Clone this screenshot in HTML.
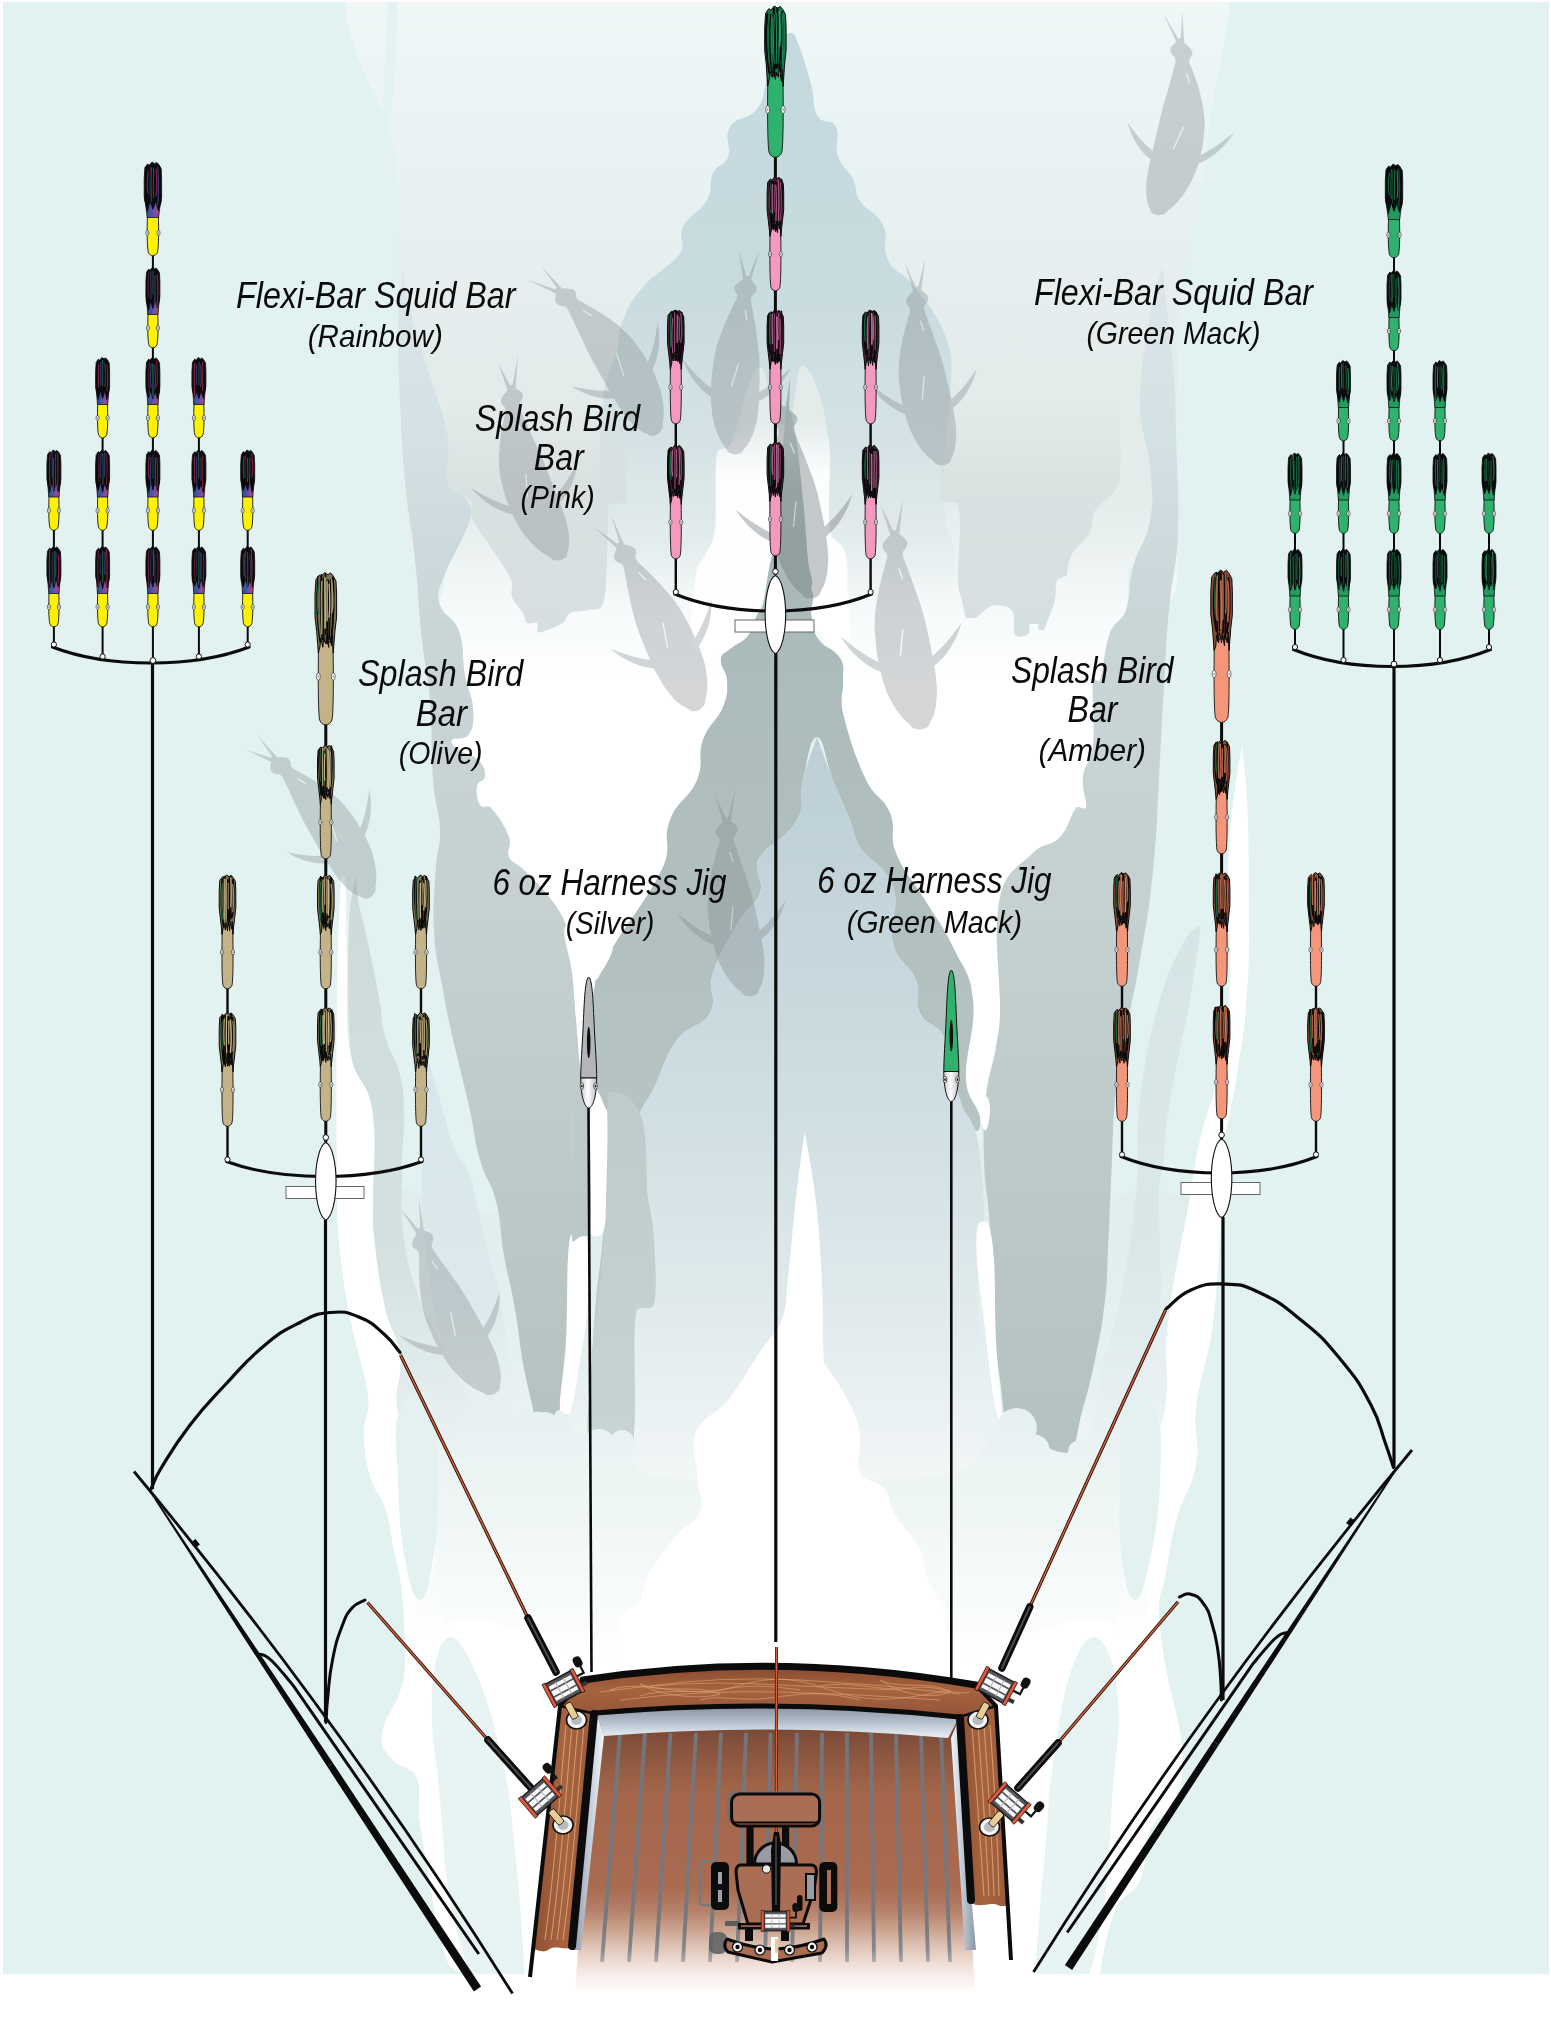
<!DOCTYPE html>
<html><head><meta charset="utf-8"><title>Trolling Spread</title>
<style>
html,body{margin:0;padding:0;background:#fff;}
svg{display:block;}
text{font-family:"Liberation Sans",sans-serif;font-style:italic;fill:#0a0a0a;}
</style></head><body>
<svg width="1551" height="2039" viewBox="0 0 1551 2039">
<defs>
<linearGradient id="gPale" x1="0" y1="1180" x2="0" y2="1640" gradientUnits="userSpaceOnUse"><stop offset="0" stop-color="#e0eded"/><stop offset="0.4" stop-color="#e6f0f0"/><stop offset="0.8" stop-color="#f5f9f9"/><stop offset="1" stop-color="#ffffff"/></linearGradient>
<linearGradient id="gOL" x1="0" y1="876" x2="0" y2="1520" gradientUnits="userSpaceOnUse"><stop offset="0" stop-color="#cbd8d8" stop-opacity="0.95"/><stop offset="0.6" stop-color="#d2dede" stop-opacity="0.8"/><stop offset="1" stop-color="#e6efef" stop-opacity="0.0"/></linearGradient>
<linearGradient id="gOR" x1="0" y1="925" x2="0" y2="1480" gradientUnits="userSpaceOnUse"><stop offset="0" stop-color="#d3e1e4" stop-opacity="0.8"/><stop offset="0.6" stop-color="#d6e3e5" stop-opacity="0.65"/><stop offset="1" stop-color="#e6efef" stop-opacity="0.0"/></linearGradient>
<linearGradient id="gGapBlue" x1="0" y1="1055" x2="0" y2="1420" gradientUnits="userSpaceOnUse"><stop offset="0" stop-color="#d6e5ea" stop-opacity="0.9"/><stop offset="0.7" stop-color="#dbe8ec" stop-opacity="0.8"/><stop offset="1" stop-color="#e6f0f0" stop-opacity="0.0"/></linearGradient>
<linearGradient id="gTop" x1="0" y1="0" x2="0" y2="680" gradientUnits="userSpaceOnUse"><stop offset="0" stop-color="#eff8f7"/><stop offset="0.25" stop-color="#e9f2f2"/><stop offset="0.55" stop-color="#e3ebeb"/><stop offset="0.74" stop-color="#e4ecec"/><stop offset="0.9" stop-color="#f6fafa"/><stop offset="1" stop-color="#ffffff"/></linearGradient>
<linearGradient id="gLegL" x1="0" y1="267" x2="0" y2="1460" gradientUnits="userSpaceOnUse"><stop offset="0" stop-color="#dbe7ea"/><stop offset="0.15" stop-color="#d3e0e4"/><stop offset="0.3" stop-color="#c9d5d7"/><stop offset="0.55" stop-color="#c5d0d0"/><stop offset="0.8" stop-color="#bcc8c8"/><stop offset="1" stop-color="#b4c1c1"/></linearGradient>
<linearGradient id="gLegD" x1="0" y1="556" x2="0" y2="1460" gradientUnits="userSpaceOnUse"><stop offset="0" stop-color="#a9b9b9"/><stop offset="0.25" stop-color="#afbdbd"/><stop offset="0.6" stop-color="#b6c3c3"/><stop offset="0.85" stop-color="#bcc8c9"/><stop offset="1" stop-color="#c2cdce"/></linearGradient>
<linearGradient id="gIB" x1="0" y1="737" x2="0" y2="1500" gradientUnits="userSpaceOnUse"><stop offset="0" stop-color="#bccfd5"/><stop offset="0.3" stop-color="#c6d8dd"/><stop offset="0.55" stop-color="#d3e1e5"/><stop offset="0.8" stop-color="#e4edef"/><stop offset="1" stop-color="#f4f8f8"/></linearGradient>
<linearGradient id="gIL" x1="0" y1="1080" x2="0" y2="1450" gradientUnits="userSpaceOnUse"><stop offset="0" stop-color="#bfcbcb"/><stop offset="0.6" stop-color="#c4cfd0"/><stop offset="1" stop-color="#c8d3d4"/></linearGradient>
<linearGradient id="gFoam" x1="0" y1="1400" x2="0" y2="1660" gradientUnits="userSpaceOnUse"><stop offset="0" stop-color="#e6f0f0"/><stop offset="0.5" stop-color="#f1f7f7"/><stop offset="1" stop-color="#ffffff"/></linearGradient>
<linearGradient id="gTree" x1="0" y1="33" x2="0" y2="600" gradientUnits="userSpaceOnUse"><stop offset="0" stop-color="#c4d9de"/><stop offset="0.45" stop-color="#c8dbdf"/><stop offset="0.72" stop-color="#d4e2e5" stop-opacity="0.95"/><stop offset="0.9" stop-color="#dde8ea" stop-opacity="0.5"/><stop offset="1" stop-color="#e6eeee" stop-opacity="0"/></linearGradient>
<linearGradient id="gBlob" x1="0" y1="400" x2="0" y2="640" gradientUnits="userSpaceOnUse"><stop offset="0" stop-color="#d8e0e0" stop-opacity="0"/><stop offset="0.35" stop-color="#d8e0e0" stop-opacity="0.9"/><stop offset="1" stop-color="#d6dfdf" stop-opacity="1"/></linearGradient>
<linearGradient id="gBand" x1="0" y1="267" x2="0" y2="700" gradientUnits="userSpaceOnUse"><stop offset="0" stop-color="#c9d6d9" stop-opacity="0.0"/><stop offset="0.2" stop-color="#c9d6d9" stop-opacity="0.9"/><stop offset="1" stop-color="#c9d6d9" stop-opacity="0.9"/></linearGradient>
<linearGradient id="gBell" x1="0" y1="420" x2="0" y2="600" gradientUnits="userSpaceOnUse"><stop offset="0" stop-color="#ffffff" stop-opacity="0.0"/><stop offset="0.3" stop-color="#ffffff" stop-opacity="0.9"/><stop offset="1" stop-color="#ffffff" stop-opacity="1"/></linearGradient>
<linearGradient id="gSpike" x1="0" y1="400" x2="0" y2="560" gradientUnits="userSpaceOnUse"><stop offset="0" stop-color="#a9b9b9" stop-opacity="0.3"/><stop offset="0.5" stop-color="#a9b9b9" stop-opacity="0.9"/><stop offset="1" stop-color="#a9b9b9" stop-opacity="1"/></linearGradient>
<linearGradient id="gRainbow" x1="0" y1="0" x2="1" y2="0" gradientUnits="objectBoundingBox"><stop offset="0" stop-color="#2b6a4a"/><stop offset="0.25" stop-color="#3b4fa0"/><stop offset="0.6" stop-color="#6a56a8"/><stop offset="1" stop-color="#e0305a"/></linearGradient>
<linearGradient id="gGreenSk" x1="0" y1="0" x2="1" y2="0" gradientUnits="objectBoundingBox"><stop offset="0" stop-color="#0f5a36"/><stop offset="0.5" stop-color="#1f7a4c"/><stop offset="1" stop-color="#0f5a36"/></linearGradient>
<linearGradient id="gHead" x1="0" y1="0" x2="1" y2="0" gradientUnits="objectBoundingBox"><stop offset="0" stop-color="#c9cbcf"/><stop offset="0.45" stop-color="#ffffff"/><stop offset="1" stop-color="#b9bcc2"/></linearGradient>
<linearGradient id="gDeck" x1="0" y1="1730" x2="0" y2="1995" gradientUnits="userSpaceOnUse"><stop offset="0" stop-color="#7a4a37"/><stop offset="0.1" stop-color="#8d5841"/><stop offset="0.24" stop-color="#a4664a"/><stop offset="0.6" stop-color="#aa6c50"/><stop offset="0.68" stop-color="#b5806a"/><stop offset="0.747" stop-color="#c9a08b"/><stop offset="0.81" stop-color="#dcc0b2"/><stop offset="0.868" stop-color="#ecd9d0"/><stop offset="0.925" stop-color="#f7ede9"/><stop offset="1" stop-color="#ffffff"/></linearGradient>
<linearGradient id="gPlank" x1="0" y1="1733" x2="0" y2="1962" gradientUnits="userSpaceOnUse"><stop offset="0" stop-color="#73757a"/><stop offset="0.85" stop-color="#77797e"/><stop offset="0.95" stop-color="#85878c" stop-opacity="0.95"/><stop offset="1" stop-color="#9a9ca0" stop-opacity="0.75"/></linearGradient>
<linearGradient id="gWoodT" x1="0" y1="1668" x2="0" y2="1712" gradientUnits="userSpaceOnUse"><stop offset="0" stop-color="#8a4c30"/><stop offset="0.5" stop-color="#a7633f"/><stop offset="1" stop-color="#96573a"/></linearGradient>
<linearGradient id="gWoodS" x1="0" y1="0" x2="1" y2="0" gradientUnits="objectBoundingBox"><stop offset="0" stop-color="#8f5033"/><stop offset="0.5" stop-color="#a7633f"/><stop offset="1" stop-color="#9a5a3b"/></linearGradient>
<linearGradient id="gCoamT" x1="0" y1="1708" x2="0" y2="1738" gradientUnits="userSpaceOnUse"><stop offset="0" stop-color="#8c97a6"/><stop offset="0.5" stop-color="#b8c2cf"/><stop offset="1" stop-color="#edf2f7"/></linearGradient>
<linearGradient id="gCoamL" x1="0" y1="0" x2="1" y2="0" gradientUnits="objectBoundingBox"><stop offset="0" stop-color="#8c97a6"/><stop offset="0.6" stop-color="#c5ced9"/><stop offset="1" stop-color="#f2f6fa"/></linearGradient>
<linearGradient id="gCoamR" x1="0" y1="0" x2="1" y2="0" gradientUnits="objectBoundingBox"><stop offset="0" stop-color="#f2f6fa"/><stop offset="0.4" stop-color="#c5ced9"/><stop offset="1" stop-color="#8c97a6"/></linearGradient>
<filter id="noop" x="0" y="0" width="100%" height="100%" filterUnits="userSpaceOnUse" primitiveUnits="userSpaceOnUse"><feOffset dx="0" dy="0"/></filter>
</defs>
<rect x="0" y="0" width="1551" height="2039" fill="#ffffff"/>
<rect x="3" y="2" width="1546" height="1972" fill="#e2f2f1"/>
<path d="M337.0,1180.0 C337.0,1180.0 354.3,1176.8 371.0,1180.0 C395.0,1184.7 409.9,1193.0 440.0,1200.0 C469.6,1206.9 471.0,1219.1 500.0,1210.0 C537.3,1198.3 545.3,1170.1 600.0,1150.0 C670.0,1124.3 711.3,1100.0 800.0,1100.0 C888.7,1100.0 910.0,1126.7 980.0,1150.0 C1041.7,1170.6 1062.7,1190.7 1100.0,1200.0 C1120.0,1205.0 1119.4,1190.7 1140.0,1190.0 C1161.0,1189.3 1170.9,1195.4 1190.0,1197.0 C1205.9,1198.4 1222.0,1197.0 1222.0,1197.0 C1222.0,1197.0 1219.1,1272.8 1213.0,1322.0 C1207.6,1365.5 1200.0,1374.9 1196.0,1408.0 C1192.7,1435.8 1200.7,1437.6 1196.0,1464.0 C1191.3,1490.4 1183.2,1494.4 1176.0,1521.0 C1168.8,1547.6 1169.0,1557.9 1165.0,1578.0 C1162.1,1592.5 1159.0,1592.2 1159.0,1607.0 C1159.0,1627.1 1160.4,1635.7 1165.0,1664.0 C1170.4,1697.1 1179.7,1717.3 1182.0,1749.0 C1183.9,1774.7 1182.5,1781.1 1175.0,1800.0 C1167.8,1818.2 1157.8,1812.1 1150.0,1830.0 C1141.8,1848.7 1148.2,1861.3 1140.0,1880.0 C1132.2,1897.9 1122.6,1892.0 1115.0,1910.0 C1105.7,1931.9 1100.0,1974.0 1100.0,1974.0 C1100.0,1974.0 470.0,1974.0 470.0,1974.0 C470.0,1974.0 451.2,1972.8 447.0,1960.0 C435.3,1924.8 427.0,1865.5 420.0,1823.0 C416.3,1800.8 423.3,1792.7 417.0,1778.0 C411.1,1764.2 401.2,1770.0 393.0,1760.0 C384.8,1750.0 380.6,1748.6 382.0,1735.0 C383.6,1719.1 394.6,1708.6 400.0,1692.0 C404.4,1678.5 404.7,1678.2 405.0,1664.0 C405.5,1640.7 404.6,1618.6 402.0,1592.0 C399.9,1570.7 398.0,1569.8 394.0,1550.0 C390.0,1530.2 390.4,1523.6 385.0,1507.0 C380.2,1492.1 375.4,1494.0 371.0,1479.0 C366.1,1462.4 364.7,1455.4 364.0,1436.0 C363.3,1416.6 370.3,1416.0 368.0,1396.0 C365.0,1369.4 357.5,1355.8 351.0,1322.0 C344.5,1288.2 343.3,1284.1 340.0,1251.0 C336.7,1217.9 337.0,1180.0 337.0,1180.0Z" fill="url(#gPale)" />
<path d="M356.3,875.3 C356.3,875.3 356.0,887.3 358.0,899.0 C360.5,913.6 362.8,918.4 367.0,938.0 C371.9,960.9 374.8,974.1 379.0,997.0 C382.6,1016.4 380.1,1017.8 385.0,1036.0 C389.9,1054.2 395.6,1056.8 400.0,1075.0 C404.4,1093.2 403.6,1094.4 404.0,1114.0 C404.5,1136.9 402.0,1143.6 402.0,1173.0 C402.0,1202.4 399.8,1210.4 404.0,1240.0 C408.2,1269.6 411.6,1276.7 420.0,1300.0 C427.6,1321.0 430.0,1320.0 440.0,1340.0 C451.7,1363.3 456.0,1376.7 470.0,1400.0 C482.9,1421.4 500.0,1416.7 500.0,1440.0 C500.0,1463.3 487.5,1487.6 470.0,1500.0 C452.5,1512.4 438.1,1504.7 425.0,1493.0 C411.9,1481.3 420.5,1469.8 414.0,1450.0 C407.5,1430.2 400.3,1429.9 397.0,1408.0 C393.7,1386.1 402.8,1379.3 400.0,1356.0 C397.2,1332.7 390.4,1332.6 385.0,1308.0 C378.9,1280.2 377.0,1266.9 374.0,1237.0 C371.1,1208.6 372.4,1208.5 372.0,1180.0 C371.5,1150.4 375.0,1132.2 372.0,1110.0 C370.1,1096.0 363.1,1098.5 359.0,1085.0 C353.7,1067.7 350.8,1060.9 349.4,1036.0 C347.2,997.0 347.8,955.5 349.4,918.0 C350.3,896.4 356.3,875.3 356.3,875.3Z" fill="url(#gOL)" />
<path d="M1201.0,925.0 C1201.0,925.0 1196.6,962.7 1190.0,1000.0 C1182.8,1040.8 1176.3,1061.5 1170.0,1100.0 C1164.7,1132.3 1165.6,1143.1 1163.0,1165.0 C1161.3,1179.5 1159.4,1179.4 1159.0,1194.0 C1158.1,1230.6 1163.4,1278.6 1159.0,1322.0 C1155.9,1352.4 1151.4,1352.5 1140.0,1380.0 C1128.6,1407.5 1121.7,1421.3 1110.0,1440.0 C1102.5,1452.0 1092.3,1473.9 1090.0,1460.0 C1087.7,1446.0 1093.0,1417.3 1100.0,1380.0 C1107.0,1342.7 1112.2,1340.5 1120.0,1300.0 C1128.4,1256.6 1131.3,1240.7 1136.0,1194.0 C1140.7,1147.3 1134.4,1145.3 1140.0,1100.0 C1145.6,1054.7 1149.5,1037.3 1160.0,1000.0 C1168.8,968.7 1175.4,957.5 1185.0,940.0 C1190.3,930.4 1201.0,925.0 1201.0,925.0Z" fill="url(#gOR)" />
<path d="M427.0,1055.7 C427.0,1055.7 433.5,1078.0 440.0,1100.0 C446.5,1122.0 448.2,1133.0 455.0,1150.0 C460.0,1162.5 464.7,1160.2 469.0,1173.0 C476.0,1194.0 477.8,1210.4 485.0,1240.0 C492.2,1269.6 494.6,1269.6 500.0,1300.0 C505.8,1332.7 510.0,1352.0 510.0,1380.0 C510.0,1400.6 511.7,1415.3 500.0,1420.0 C488.3,1424.7 473.4,1417.9 460.0,1400.0 C446.0,1381.3 446.8,1370.9 440.0,1340.0 C431.8,1302.7 429.2,1279.0 425.0,1240.0 C421.4,1206.7 422.2,1205.7 422.0,1173.0 C421.8,1140.3 422.8,1127.4 424.0,1100.0 C424.9,1077.8 427.0,1055.7 427.0,1055.7Z" fill="url(#gGapBlue)" />
<path d="M341.0,880.0 C341.2,877.5 344.8,874.5 345.0,877.0 C346.4,895.2 345.8,917.5 347.0,958.0 C348.2,998.8 344.2,1016.8 350.0,1052.0 C355.0,1082.1 367.3,1078.8 372.0,1109.0 C377.4,1143.5 372.5,1170.1 373.0,1200.0 C373.3,1218.5 372.0,1218.6 374.0,1237.0 C376.8,1262.2 378.9,1280.2 385.0,1308.0 C390.4,1332.6 397.2,1332.7 400.0,1356.0 C402.8,1379.3 393.7,1386.1 397.0,1408.0 C400.3,1429.9 407.5,1430.2 414.0,1450.0 C420.5,1469.8 420.3,1472.9 425.0,1493.0 C429.7,1513.1 432.6,1516.2 434.0,1536.0 C435.4,1555.8 435.7,1560.3 431.0,1578.0 C426.3,1595.7 416.6,1597.3 414.0,1612.0 C411.5,1626.6 413.5,1630.3 420.0,1641.0 C426.5,1651.7 437.6,1644.8 442.0,1658.0 C446.4,1671.3 441.3,1678.1 439.0,1698.0 C436.2,1721.8 429.8,1736.2 430.0,1760.0 C430.2,1780.6 436.2,1779.7 440.0,1800.0 C449.3,1849.9 470.0,1974.0 470.0,1974.0 C470.0,1974.0 451.2,1972.8 447.0,1960.0 C435.3,1924.8 427.0,1865.5 420.0,1823.0 C416.3,1800.8 423.3,1792.7 417.0,1778.0 C411.1,1764.2 401.2,1770.0 393.0,1760.0 C384.8,1750.0 380.6,1748.6 382.0,1735.0 C383.6,1719.1 394.6,1708.6 400.0,1692.0 C404.4,1678.5 404.7,1678.2 405.0,1664.0 C405.5,1640.7 404.6,1618.6 402.0,1592.0 C399.9,1570.7 398.0,1569.8 394.0,1550.0 C390.0,1530.2 390.4,1523.6 385.0,1507.0 C380.2,1492.1 375.4,1494.0 371.0,1479.0 C366.1,1462.4 364.7,1455.4 364.0,1436.0 C363.3,1416.6 370.3,1416.0 368.0,1396.0 C365.0,1369.4 357.5,1355.8 351.0,1322.0 C344.5,1288.2 343.3,1284.1 340.0,1251.0 C336.7,1217.9 337.4,1215.5 337.0,1180.0 C336.3,1121.4 336.1,1070.0 337.0,1000.0 C337.8,940.0 339.1,908.7 341.0,880.0Z" fill="#ffffff" />
<path d="M1242.0,746.0 C1242.0,746.0 1245.8,772.9 1247.0,800.0 C1248.6,835.9 1249.0,855.0 1249.0,900.0 C1249.0,945.0 1250.0,951.0 1247.0,993.0 C1244.0,1035.0 1242.1,1041.0 1236.0,1080.0 C1229.9,1119.0 1224.3,1132.7 1221.0,1160.0 C1218.8,1178.4 1222.9,1178.5 1222.0,1197.0 C1220.1,1234.8 1219.1,1272.8 1213.0,1322.0 C1207.6,1365.5 1200.0,1374.9 1196.0,1408.0 C1192.7,1435.8 1200.7,1437.6 1196.0,1464.0 C1191.3,1490.4 1183.2,1494.4 1176.0,1521.0 C1168.8,1547.6 1169.0,1557.9 1165.0,1578.0 C1162.1,1592.5 1159.0,1592.2 1159.0,1607.0 C1159.0,1627.1 1160.4,1635.7 1165.0,1664.0 C1170.4,1697.1 1179.7,1717.3 1182.0,1749.0 C1183.9,1774.7 1182.5,1781.1 1175.0,1800.0 C1167.8,1818.2 1157.8,1812.1 1150.0,1830.0 C1141.8,1848.7 1148.2,1861.3 1140.0,1880.0 C1132.2,1897.9 1122.6,1892.0 1115.0,1910.0 C1105.7,1931.9 1100.0,1974.0 1100.0,1974.0 C1100.0,1974.0 1081.0,1938.3 1080.0,1900.0 C1078.6,1847.5 1085.6,1804.1 1094.0,1749.0 C1100.6,1705.6 1102.9,1697.1 1116.0,1664.0 C1128.2,1633.1 1145.3,1627.1 1150.0,1607.0 C1153.6,1591.3 1138.9,1593.8 1136.0,1578.0 C1132.3,1557.9 1131.9,1547.6 1134.0,1521.0 C1136.1,1494.4 1137.8,1490.4 1145.0,1464.0 C1152.2,1437.6 1160.2,1437.3 1165.0,1408.0 C1170.4,1374.9 1162.9,1364.7 1168.0,1322.0 C1173.8,1272.8 1182.5,1239.5 1190.0,1197.0 C1195.0,1168.5 1193.4,1168.2 1200.0,1140.0 C1207.5,1108.0 1215.0,1097.3 1222.0,1060.0 C1229.0,1022.7 1228.7,1020.2 1230.0,980.0 C1231.6,931.0 1226.2,904.6 1229.0,850.0 C1231.7,797.7 1242.0,746.0 1242.0,746.0Z" fill="#ffffff" />
<path d="M345.0,2.0 C345.0,2.0 346.3,21.5 352.0,40.0 C358.3,60.5 363.1,69.0 372.0,90.0 C380.5,110.2 384.2,109.0 390.0,130.0 C395.8,151.0 395.6,154.8 397.0,180.0 C398.9,212.7 397.8,235.0 398.0,270.0 C398.2,300.0 397.5,300.0 398.0,330.0 C398.5,360.3 398.4,365.0 400.0,400.0 C401.6,435.0 401.5,442.7 405.0,480.0 C408.5,517.3 406.1,536.9 415.0,560.0 C421.1,575.8 437.2,568.5 443.0,579.0 C448.8,589.5 436.3,592.9 440.0,605.0 C443.7,617.1 453.7,615.8 459.0,631.0 C464.8,647.6 461.7,658.0 465.0,676.0 C468.0,692.2 472.1,694.5 473.0,708.0 C473.9,721.1 473.9,726.5 469.0,734.0 C464.1,741.5 454.3,736.3 452.0,740.0 C449.7,743.7 454.2,746.3 459.0,750.0 C465.1,754.7 471.9,753.9 478.0,760.0 C484.1,766.1 485.2,769.9 485.0,776.0 C484.8,782.1 478.1,779.7 477.0,786.0 C475.8,792.8 476.7,799.9 480.0,805.0 C483.1,809.8 487.2,803.8 491.0,808.0 C497.8,815.5 504.8,825.6 509.0,837.0 C512.4,846.4 505.7,849.5 509.0,857.0 C512.3,864.5 516.6,862.4 523.0,869.0 C533.3,879.5 542.3,886.8 553.0,902.0 C563.3,916.6 563.4,917.4 569.0,934.0 C574.6,950.6 570.5,962.3 577.0,973.0 C582.5,982.1 588.6,986.1 597.0,980.0 C605.4,973.9 603.8,962.8 613.0,947.0 C628.4,920.6 649.7,896.6 663.0,867.0 C672.7,845.3 662.1,840.3 670.0,820.0 C677.9,799.7 689.3,798.7 697.0,780.0 C704.7,761.3 696.9,757.0 703.0,740.0 C709.1,723.0 717.4,721.0 723.0,707.0 C728.1,694.3 727.5,690.5 727.0,680.0 C726.6,670.5 721.2,668.8 721.0,662.0 C720.8,656.0 721.6,655.2 726.0,651.0 C732.1,645.2 740.0,644.9 747.0,637.0 C754.0,629.1 752.3,624.7 756.0,617.0 C759.2,610.4 760.6,611.0 763.0,604.0 C767.7,590.7 764.8,563.7 776.0,560.0 C787.2,556.3 802.4,573.8 811.0,588.0 C819.6,602.1 811.1,608.9 813.0,621.0 C814.5,630.8 813.1,632.0 819.0,640.0 C825.3,648.6 834.4,648.7 840.0,658.0 C845.6,667.3 842.4,668.9 843.0,680.0 C843.7,692.8 839.3,696.9 843.0,713.0 C848.4,736.3 855.0,756.7 866.0,780.0 C874.7,798.5 883.0,796.0 890.0,813.0 C897.0,830.0 888.5,834.2 896.0,853.0 C904.2,873.3 911.7,878.1 925.0,900.0 C938.3,921.9 941.8,923.7 953.0,947.0 C964.2,970.3 970.2,971.8 973.0,1000.0 C976.0,1031.0 964.4,1052.7 966.0,1080.0 C967.2,1099.7 975.3,1113.0 980.0,1117.0 C984.7,1121.0 983.7,1107.2 986.0,1097.0 C989.7,1080.7 992.7,1066.6 996.0,1047.0 C998.8,1030.1 999.5,1030.1 1000.0,1013.0 C1000.9,978.0 992.3,934.3 1000.0,897.0 C1005.6,870.1 1019.0,867.0 1033.0,853.0 C1044.1,841.9 1050.0,847.5 1060.0,837.0 C1070.0,826.5 1069.9,815.0 1076.0,808.0 C1079.3,804.2 1084.9,811.9 1086.0,807.0 C1087.6,799.8 1081.4,791.0 1083.0,777.0 C1084.6,763.0 1091.4,762.7 1093.0,747.0 C1095.3,724.4 1091.4,695.6 1093.0,680.0 C1093.4,676.5 1098.8,683.3 1100.0,680.0 C1104.0,669.0 1103.9,649.3 1110.0,633.0 C1114.9,619.9 1121.4,623.2 1126.0,610.0 C1131.4,594.6 1122.7,569.3 1133.0,567.0 C1143.3,564.7 1159.5,607.9 1170.0,600.0 C1180.5,592.1 1176.8,566.7 1178.0,533.0 C1179.4,494.0 1175.5,479.7 1176.0,433.0 C1176.5,386.3 1177.7,371.7 1180.0,333.0 C1182.0,299.9 1181.3,298.0 1186.0,267.0 C1190.7,236.0 1194.5,233.8 1200.0,200.0 C1206.3,161.0 1207.6,135.0 1213.0,100.0 C1216.9,74.8 1219.0,72.9 1223.0,50.0 C1227.0,27.1 1230.0,2.0 1230.0,2.0 C1230.0,2.0 345.0,2.0 345.0,2.0Z" fill="url(#gTop)" />
<path d="M403.0,267.0 C403.0,267.0 404.1,283.8 408.0,300.0 C413.6,323.3 417.9,336.0 427.0,367.0 C436.1,398.0 442.1,405.9 447.0,433.0 C451.5,457.6 443.3,467.4 448.0,483.0 C451.6,495.2 461.9,491.4 467.0,500.0 C472.1,508.6 472.9,510.3 470.0,520.0 C464.4,538.4 450.0,559.2 443.0,579.0 C438.6,591.3 436.3,592.9 440.0,605.0 C443.7,617.1 453.7,615.8 459.0,631.0 C464.8,647.6 461.7,658.0 465.0,676.0 C468.0,692.2 472.1,694.5 473.0,708.0 C473.9,721.1 473.9,726.5 469.0,734.0 C464.1,741.5 454.3,736.3 452.0,740.0 C449.7,743.7 454.2,746.3 459.0,750.0 C465.1,754.7 471.9,753.9 478.0,760.0 C484.1,766.1 485.2,769.9 485.0,776.0 C484.8,782.1 478.1,779.7 477.0,786.0 C475.8,792.8 476.7,799.9 480.0,805.0 C483.1,809.8 487.2,803.8 491.0,808.0 C497.8,815.5 504.8,825.6 509.0,837.0 C512.4,846.4 505.7,849.5 509.0,857.0 C512.3,864.5 516.6,862.4 523.0,869.0 C533.3,879.5 542.3,886.8 553.0,902.0 C563.3,916.6 563.4,917.4 569.0,934.0 C574.6,950.6 575.6,957.6 577.0,973.0 C578.2,986.5 575.4,986.5 575.0,1000.0 C574.1,1029.6 573.6,1050.0 573.0,1100.0 C572.3,1156.0 572.7,1193.3 572.0,1240.0 C571.5,1270.0 570.9,1272.0 570.0,1300.0 C569.1,1328.0 568.9,1332.0 568.0,1360.0 C567.1,1388.0 567.9,1398.5 566.0,1420.0 C564.6,1436.2 564.2,1445.5 560.0,1452.0 C556.6,1457.3 552.5,1452.5 548.0,1448.0 C542.9,1442.9 541.4,1439.7 538.0,1430.0 C534.0,1418.8 534.4,1415.0 531.0,1400.0 C527.5,1384.4 526.3,1381.6 523.0,1363.0 C519.3,1341.8 519.4,1334.2 515.0,1309.0 C510.6,1283.8 508.4,1280.2 504.0,1255.0 C499.6,1229.8 501.6,1223.2 496.0,1201.0 C490.6,1179.7 486.0,1181.2 480.0,1160.0 C473.7,1137.8 475.0,1132.9 469.0,1106.0 C462.7,1077.8 459.3,1067.2 453.0,1039.0 C447.0,1012.1 446.4,1010.2 442.0,985.0 C437.6,959.8 435.4,958.3 434.0,931.0 C432.6,903.2 434.6,889.6 436.0,866.0 C437.1,847.9 440.6,848.1 440.0,830.0 C439.3,809.9 434.9,805.2 433.0,780.0 C430.7,749.7 432.6,732.7 430.0,700.0 C427.6,669.8 425.2,670.1 422.0,640.0 C418.5,607.3 419.0,597.3 415.0,560.0 C411.0,522.7 408.5,517.3 405.0,480.0 C401.5,442.7 401.6,432.7 400.0,400.0 C398.5,370.0 398.0,363.3 398.0,340.0 C398.0,320.0 398.8,317.0 400.0,300.0 C401.1,283.5 403.0,267.0 403.0,267.0Z" fill="url(#gLegL)" />
<path d="M1163.0,267.0 C1163.0,267.0 1155.9,283.0 1153.0,300.0 C1147.6,331.0 1140.7,361.0 1140.0,400.0 C1139.4,433.9 1147.7,439.0 1150.0,467.0 C1152.2,493.4 1154.0,496.7 1150.0,520.0 C1146.0,543.3 1138.6,546.0 1133.0,567.0 C1127.4,588.0 1131.4,594.6 1126.0,610.0 C1121.4,623.2 1114.9,619.9 1110.0,633.0 C1103.9,649.3 1104.0,669.0 1100.0,680.0 C1098.8,683.3 1093.4,676.5 1093.0,680.0 C1091.4,695.6 1095.3,724.4 1093.0,747.0 C1091.4,762.7 1084.6,763.0 1083.0,777.0 C1081.4,791.0 1087.6,799.8 1086.0,807.0 C1084.9,811.9 1079.3,804.2 1076.0,808.0 C1069.9,815.0 1070.0,826.5 1060.0,837.0 C1050.0,847.5 1044.1,841.9 1033.0,853.0 C1019.0,867.0 1005.6,870.1 1000.0,897.0 C992.3,934.3 1000.9,978.0 1000.0,1013.0 C999.5,1030.1 998.8,1030.1 996.0,1047.0 C992.7,1066.6 988.7,1071.6 986.0,1097.0 C983.2,1123.4 983.1,1129.7 984.0,1160.0 C984.9,1190.3 988.0,1193.4 990.0,1227.0 C992.1,1262.7 990.7,1277.3 993.0,1313.0 C995.2,1346.6 996.0,1350.4 1000.0,1380.0 C1004.0,1409.6 1003.0,1421.3 1010.0,1440.0 C1015.0,1453.2 1019.5,1454.9 1030.0,1460.0 C1040.5,1465.1 1045.2,1464.3 1055.0,1462.0 C1064.8,1459.7 1066.7,1458.9 1072.0,1450.0 C1077.8,1440.2 1076.2,1435.0 1080.0,1420.0 C1085.4,1399.0 1089.2,1388.0 1095.0,1360.0 C1100.8,1332.0 1102.0,1325.7 1105.0,1300.0 C1107.9,1275.1 1106.7,1275.0 1108.0,1250.0 C1109.6,1217.3 1110.4,1195.0 1112.0,1160.0 C1113.4,1130.0 1112.7,1125.7 1115.0,1100.0 C1117.3,1074.9 1117.6,1074.9 1122.0,1050.0 C1127.8,1017.3 1132.8,1002.0 1140.0,960.0 C1147.2,918.0 1148.5,915.2 1153.0,870.0 C1157.7,823.3 1157.0,811.3 1160.0,760.0 C1163.0,708.7 1163.7,687.3 1166.0,650.0 C1167.6,625.0 1167.4,624.9 1170.0,600.0 C1172.8,572.7 1176.8,566.7 1178.0,533.0 C1179.4,494.0 1176.9,468.7 1176.0,433.0 C1175.3,406.5 1175.9,406.4 1174.0,380.0 C1171.9,351.3 1169.6,336.4 1167.0,310.0 C1164.9,288.5 1163.0,267.0 1163.0,267.0Z" fill="url(#gLegL)" />
<path d="M781.0,552.0 C790.1,559.5 803.5,571.9 811.0,588.0 C818.0,603.0 811.1,608.9 813.0,621.0 C814.5,630.8 813.1,632.0 819.0,640.0 C825.3,648.6 834.4,648.7 840.0,658.0 C845.6,667.3 842.4,668.9 843.0,680.0 C843.7,692.8 839.3,696.9 843.0,713.0 C848.4,736.3 855.0,756.7 866.0,780.0 C874.7,798.5 883.0,796.0 890.0,813.0 C897.0,830.0 888.5,834.2 896.0,853.0 C904.2,873.3 911.7,878.1 925.0,900.0 C938.3,921.9 941.8,923.7 953.0,947.0 C964.2,970.3 970.2,971.8 973.0,1000.0 C976.0,1031.0 964.4,1052.7 966.0,1080.0 C967.2,1099.7 977.9,1105.3 980.0,1117.0 C981.2,1123.9 979.7,1134.0 975.0,1130.0 C970.3,1126.0 965.1,1116.0 960.0,1100.0 C953.2,1079.0 955.3,1060.3 946.0,1040.0 C938.2,1023.0 927.0,1027.0 920.0,1013.0 C913.0,999.0 922.0,995.5 916.0,980.0 C909.7,963.7 898.2,964.1 893.0,943.0 C887.6,921.3 900.7,909.4 893.0,887.0 C885.3,864.6 870.0,862.6 860.0,847.0 C852.2,834.9 855.4,833.4 850.0,820.0 C843.7,804.4 840.7,799.4 833.0,780.0 C825.3,760.6 824.0,737.0 817.0,737.0 C810.0,737.0 807.7,760.6 803.0,780.0 C798.3,799.4 806.3,803.0 797.0,820.0 C787.7,837.0 772.3,842.0 763.0,853.0 C758.1,858.8 757.6,859.4 757.0,867.0 C756.3,876.3 764.0,880.6 760.0,893.0 C756.0,905.4 748.5,905.5 740.0,920.0 C729.0,938.7 720.0,951.3 713.0,973.0 C706.8,992.1 718.4,997.4 710.0,1013.0 C701.6,1028.6 689.7,1022.9 677.0,1040.0 C663.7,1058.0 661.6,1073.0 653.0,1090.0 C647.0,1101.8 643.7,1103.7 640.0,1113.0 C636.8,1121.0 636.6,1121.4 637.0,1130.0 C637.7,1145.6 639.3,1159.0 643.0,1180.0 C646.6,1200.3 651.8,1199.4 653.0,1220.0 C654.6,1247.3 652.3,1264.3 650.0,1297.0 C647.7,1328.6 645.3,1331.3 643.0,1360.0 C640.7,1388.7 643.0,1399.0 640.0,1420.0 C637.7,1435.6 639.3,1441.6 630.0,1450.0 C620.7,1458.4 609.8,1458.3 600.0,1456.0 C590.3,1453.7 588.8,1450.0 588.0,1440.0 C586.1,1417.6 590.1,1392.7 592.0,1360.0 C593.7,1330.0 593.7,1326.4 596.0,1300.0 C598.3,1273.6 599.7,1270.3 602.0,1247.0 C604.3,1223.7 605.2,1223.6 606.0,1200.0 C607.2,1165.7 607.7,1144.3 607.0,1100.0 C606.3,1055.7 605.3,1038.0 603.0,1010.0 C601.7,994.8 594.7,994.7 597.0,980.0 C599.3,965.3 603.8,962.8 613.0,947.0 C628.4,920.6 649.7,896.6 663.0,867.0 C672.7,845.3 662.1,840.3 670.0,820.0 C677.9,799.7 689.3,798.7 697.0,780.0 C704.7,761.3 696.9,757.0 703.0,740.0 C709.1,723.0 717.4,721.0 723.0,707.0 C728.1,694.3 727.5,690.5 727.0,680.0 C726.6,670.5 721.2,668.8 721.0,662.0 C720.8,656.0 721.6,655.2 726.0,651.0 C732.1,645.2 740.0,644.9 747.0,637.0 C754.0,629.1 752.3,624.7 756.0,617.0 C759.2,610.4 761.1,611.1 763.0,604.0 C766.7,589.8 767.8,568.1 772.0,556.0 C773.6,551.3 777.2,548.9 781.0,552.0Z" fill="url(#gLegD)" />
<path d="M817.0,737.0 C817.0,737.0 825.3,760.6 833.0,780.0 C840.7,799.4 843.7,804.4 850.0,820.0 C855.4,833.4 852.2,834.9 860.0,847.0 C870.0,862.6 885.3,864.6 893.0,887.0 C900.7,909.4 887.6,921.3 893.0,943.0 C898.2,964.1 909.7,963.7 916.0,980.0 C922.0,995.5 913.0,999.0 920.0,1013.0 C927.0,1027.0 938.2,1023.0 946.0,1040.0 C955.3,1060.3 953.2,1079.0 960.0,1100.0 C965.1,1116.0 970.3,1116.0 975.0,1130.0 C979.7,1144.0 978.5,1144.9 980.0,1160.0 C982.1,1181.0 984.4,1189.9 984.0,1220.0 C983.5,1252.7 976.6,1262.7 978.0,1300.0 C979.4,1337.3 984.9,1349.7 990.0,1380.0 C994.3,1405.1 995.8,1404.9 1000.0,1430.0 C1004.7,1458.0 1044.7,1493.3 1010.0,1500.0 C926.0,1516.3 727.7,1515.9 640.0,1500.0 C606.4,1493.9 634.7,1466.1 634.0,1432.0 C633.1,1388.1 631.3,1341.9 636.0,1312.0 C637.5,1302.3 651.6,1313.6 654.0,1304.0 C658.2,1287.2 655.4,1264.3 654.0,1240.0 C652.8,1219.8 650.6,1214.0 648.0,1200.0 C646.1,1189.9 644.6,1190.2 643.0,1180.0 C640.4,1163.7 637.7,1145.6 637.0,1130.0 C636.6,1121.4 636.8,1121.0 640.0,1113.0 C643.7,1103.7 647.0,1101.8 653.0,1090.0 C661.6,1073.0 663.7,1058.0 677.0,1040.0 C689.7,1022.9 701.6,1028.6 710.0,1013.0 C718.4,997.4 706.8,992.1 713.0,973.0 C720.0,951.3 729.0,938.7 740.0,920.0 C748.5,905.5 756.0,905.4 760.0,893.0 C764.0,880.6 756.3,876.3 757.0,867.0 C757.6,859.4 758.1,858.8 763.0,853.0 C772.3,842.0 787.7,837.0 797.0,820.0 C806.3,803.0 798.3,799.4 803.0,780.0 C807.7,760.6 813.7,747.0 817.0,737.0 C817.0,737.0 817.0,737.0 817.0,737.0Z" fill="url(#gIB)" />
<path d="M604.0,1100.0 C610.8,1082.6 632.3,1095.5 640.0,1113.0 C648.8,1133.0 645.2,1174.6 648.0,1200.0 C650.2,1220.1 652.8,1219.8 654.0,1240.0 C655.2,1260.8 657.6,1289.6 654.0,1304.0 C651.6,1313.6 637.5,1302.3 636.0,1312.0 C632.0,1337.6 637.2,1404.8 634.0,1432.0 C632.8,1442.6 626.8,1444.4 620.0,1448.0 C613.2,1451.6 606.0,1451.6 600.0,1450.0 C594.0,1448.4 590.6,1447.0 590.0,1440.0 C588.4,1422.0 590.4,1388.0 592.0,1360.0 C593.6,1332.0 595.6,1324.0 598.0,1300.0 C600.4,1276.0 602.4,1260.0 604.0,1240.0 C605.6,1220.0 606.0,1220.0 606.0,1200.0 C606.0,1172.0 597.2,1117.4 604.0,1100.0Z" fill="url(#gIL)" />
<path d="M566.0,925.0 C560.4,933.6 570.0,954.0 572.0,973.0 C574.0,992.0 574.2,999.4 576.0,1020.0 C577.8,1040.6 578.8,1060.0 581.0,1076.0 C582.7,1088.3 585.3,1092.8 587.0,1100.0 C588.4,1106.0 589.4,1105.9 589.5,1112.0 C590.1,1138.4 587.3,1208.0 590.0,1232.0 C590.7,1238.5 600.1,1237.8 603.0,1232.0 C606.2,1225.6 605.5,1216.1 606.0,1200.0 C606.8,1175.6 608.2,1131.0 607.0,1110.0 C606.5,1101.7 602.2,1100.0 600.0,1095.0 C597.8,1090.1 596.4,1090.4 596.0,1085.0 C594.6,1066.0 593.3,1019.5 593.0,1000.0 C592.9,993.7 593.7,991.5 594.5,987.5 C595.3,983.6 595.4,983.6 597.0,980.0 C600.7,971.9 612.4,957.0 613.0,947.0 C613.6,937.0 609.4,934.4 600.0,930.0 C590.6,925.6 571.6,916.4 566.0,925.0Z" fill="#ffffff" />
<path d="M570.0,1238.0 C571.5,1230.1 583.8,1228.3 586.0,1236.0 C589.6,1248.4 589.2,1275.2 588.0,1300.0 C586.8,1324.8 583.6,1337.6 580.0,1360.0 C576.4,1382.4 574.0,1402.0 570.0,1412.0 C568.1,1416.7 560.3,1415.1 560.0,1410.0 C559.2,1395.6 564.0,1374.4 566.0,1340.0 C568.0,1305.6 566.0,1258.8 570.0,1238.0Z" fill="#ffffff" />
<path d="M572.0,973.0 C572.8,977.0 574.2,999.4 576.0,1020.0 C577.8,1040.6 578.8,1060.0 581.0,1076.0 C582.7,1088.3 585.3,1092.8 587.0,1100.0 C588.4,1106.0 589.4,1105.9 589.5,1112.0 C590.1,1138.4 591.9,1207.0 590.0,1232.0 C589.6,1237.6 583.6,1235.4 580.0,1237.0 C576.4,1238.6 572.2,1244.3 572.0,1240.0 C570.6,1212.6 573.0,1148.0 573.0,1100.0 C573.0,1052.0 572.2,1025.4 572.0,1000.0 C571.9,986.5 571.2,969.0 572.0,973.0Z" fill="url(#gLegL)" />
<path d="M597.0,980.0 C595.5,976.4 595.3,983.6 594.5,987.5 C593.7,991.5 592.9,993.7 593.0,1000.0 C593.3,1019.5 594.6,1066.0 596.0,1085.0 C596.4,1090.4 597.8,1090.1 600.0,1095.0 C602.2,1100.0 605.4,1109.0 607.0,1110.0 C608.6,1111.0 608.2,1105.0 608.0,1100.0 C607.4,1080.0 606.2,1034.0 604.0,1010.0 C602.6,994.7 598.9,984.5 597.0,980.0Z" fill="url(#gLegD)" />
<path d="M980.0,1117.0 C980.0,1110.4 984.0,1098.4 986.0,1097.0 C988.0,1095.6 990.0,1103.4 990.0,1110.0 C990.0,1116.6 988.0,1128.6 986.0,1130.0 C984.0,1131.4 980.0,1123.6 980.0,1117.0Z" fill="#ffffff" />
<path d="M978.0,1226.0 C979.5,1221.1 985.8,1219.4 988.0,1224.0 C991.2,1230.8 992.7,1241.8 994.0,1260.0 C995.6,1283.2 994.4,1307.2 996.0,1340.0 C997.6,1372.8 1002.4,1412.0 1002.0,1424.0 C1001.6,1436.0 996.2,1412.5 994.0,1400.0 C990.4,1379.2 987.4,1348.0 984.0,1320.0 C980.6,1292.0 978.2,1278.8 977.0,1260.0 C975.9,1243.0 975.8,1233.2 978.0,1226.0Z" fill="#ffffff" />
<path d="M470.0,1400.0 C487.9,1381.0 503.7,1412.2 520.0,1415.0 C530.0,1416.7 533.5,1409.7 540.0,1412.0 C546.5,1414.3 543.3,1425.5 548.0,1425.0 C552.7,1424.5 553.7,1408.8 560.0,1410.0 C566.3,1411.2 568.0,1423.9 575.0,1430.0 C581.1,1435.3 582.6,1432.8 590.0,1436.0 C598.2,1439.5 600.7,1444.1 610.0,1445.0 C619.3,1445.9 623.0,1434.2 630.0,1440.0 C637.0,1445.8 626.3,1462.2 640.0,1470.0 C656.3,1479.3 669.7,1477.8 700.0,1480.0 C732.7,1482.3 742.7,1480.0 780.0,1480.0 C817.3,1480.0 820.1,1482.2 860.0,1480.0 C902.0,1477.7 927.3,1483.1 960.0,1470.0 C988.3,1458.7 987.2,1431.0 1000.0,1424.0 C1009.6,1418.7 1008.0,1437.2 1015.0,1440.0 C1022.0,1442.8 1022.5,1434.2 1030.0,1436.0 C1037.7,1437.9 1038.2,1444.3 1048.0,1448.0 C1057.8,1451.7 1063.4,1453.9 1072.0,1452.0 C1080.6,1450.1 1079.8,1447.1 1085.0,1440.0 C1093.9,1427.9 1099.5,1386.0 1110.0,1400.0 C1120.5,1414.0 1127.7,1453.3 1130.0,1500.0 C1132.3,1546.7 1127.0,1553.3 1120.0,1600.0 C1113.0,1646.7 1114.0,1672.0 1100.0,1700.0 C1090.0,1720.0 1082.3,1719.2 1060.0,1720.0 C924.7,1724.7 657.7,1724.7 520.0,1720.0 C493.1,1719.1 484.9,1722.4 470.0,1700.0 C451.3,1672.0 447.0,1646.7 440.0,1600.0 C433.0,1553.3 433.0,1546.7 440.0,1500.0 C447.0,1453.3 451.3,1419.8 470.0,1400.0Z" fill="url(#gFoam)" />
<circle cx="544.7" cy="1426" r="14" fill="url(#gFoam)"/>
<circle cx="567" cy="1437" r="11" fill="url(#gFoam)"/>
<circle cx="598.7" cy="1446" r="17" fill="url(#gFoam)"/>
<circle cx="622" cy="1442" r="12" fill="url(#gFoam)"/>
<circle cx="528" cy="1420" r="9" fill="url(#gFoam)"/>
<circle cx="1005" cy="1436" r="14" fill="url(#gFoam)"/>
<circle cx="1016.8" cy="1428" r="20" fill="url(#gFoam)"/>
<circle cx="1034" cy="1450" r="15.6" fill="url(#gFoam)"/>
<circle cx="1056.6" cy="1464" r="11" fill="url(#gFoam)"/>
<circle cx="1080" cy="1452" r="12" fill="url(#gFoam)"/>
<path d="M804.6,1132.0 C804.6,1132.0 812.4,1170.4 815.8,1200.0 C819.2,1229.6 820.2,1248.0 821.8,1280.0 C823.4,1312.0 822.6,1342.4 823.8,1360.0 C824.1,1364.5 825.5,1364.2 827.8,1368.0 C832.6,1376.0 841.4,1387.2 847.8,1400.0 C854.2,1412.8 857.4,1417.6 859.8,1432.0 C862.2,1446.4 855.0,1460.8 859.8,1472.0 C864.6,1483.2 876.5,1479.2 883.7,1488.0 C890.9,1496.8 888.5,1504.0 895.7,1516.0 C902.9,1528.0 913.3,1535.2 919.7,1548.0 C926.1,1560.8 922.9,1567.2 927.7,1580.0 C932.5,1592.8 939.7,1596.0 943.7,1612.0 C947.7,1628.0 944.4,1642.4 947.7,1660.0 C951.0,1677.6 980.8,1697.6 960.0,1700.0 C890.5,1708.0 668.8,1708.0 600.0,1700.0 C578.6,1697.5 612.0,1676.0 616.0,1660.0 C620.0,1644.0 615.2,1632.0 620.0,1620.0 C624.8,1608.0 634.4,1608.8 640.0,1600.0 C645.6,1591.2 641.8,1587.0 648.0,1576.0 C655.2,1563.2 665.6,1548.8 676.0,1536.0 C686.4,1523.2 695.6,1523.2 700.0,1512.0 C704.4,1500.8 698.8,1496.0 698.0,1480.0 C697.2,1464.0 690.0,1448.0 696.0,1432.0 C702.0,1416.0 715.2,1416.0 728.0,1400.0 C740.8,1384.0 749.2,1368.0 760.0,1352.0 C770.8,1336.0 776.2,1334.4 781.8,1320.0 C787.4,1305.6 785.5,1300.1 787.8,1280.0 C790.6,1256.0 792.4,1229.6 795.8,1200.0 C799.2,1170.4 804.6,1132.0 804.6,1132.0Z" fill="#ffffff" />
<path d="M440.0,1640.0 C444.3,1618.1 460.0,1620.0 480.0,1620.0 C500.0,1620.0 516.0,1632.0 540.0,1640.0 C564.0,1648.0 568.4,1658.5 600.0,1660.0 C684.0,1664.0 876.0,1664.0 960.0,1660.0 C991.6,1658.5 996.0,1648.0 1020.0,1640.0 C1044.0,1632.0 1060.0,1620.0 1080.0,1620.0 C1100.0,1620.0 1116.8,1617.9 1120.0,1640.0 C1124.0,1668.0 1105.4,1699.4 1100.0,1760.0 C1094.0,1826.8 1090.0,1974.0 1090.0,1974.0 C1090.0,1974.0 470.0,1974.0 470.0,1974.0 C470.0,1974.0 451.0,1866.8 445.0,1800.0 C439.0,1733.2 433.0,1676.0 440.0,1640.0Z" fill="#ffffff" />
<path d="M400.0,1410.0 C405.9,1395.3 422.5,1386.1 430.0,1400.0 C438.9,1416.3 437.3,1442.7 438.0,1480.0 C438.7,1517.3 437.2,1532.0 433.0,1560.0 C429.9,1580.8 426.5,1600.0 420.0,1600.0 C413.5,1600.0 408.9,1581.0 405.0,1560.0 C399.9,1532.0 399.2,1515.0 398.0,1480.0 C396.8,1445.0 392.5,1428.7 400.0,1410.0Z" fill="#e3f2f1" />
<path d="M445.0,1640.0 C453.9,1630.7 462.8,1645.7 470.0,1660.0 C482.8,1685.7 489.5,1705.7 500.0,1750.0 C510.5,1794.3 509.4,1799.8 515.0,1850.0 C520.8,1902.3 525.0,1974.0 525.0,1974.0 C525.0,1974.0 470.0,1974.0 470.0,1974.0 C470.0,1974.0 456.5,1937.8 450.0,1900.0 C443.0,1859.4 444.2,1846.7 440.0,1800.0 C435.8,1753.3 430.8,1737.3 432.0,1700.0 C433.0,1669.3 436.1,1649.3 445.0,1640.0Z" fill="#e8f4f3" />
<path d="M1125.0,1400.0 C1132.1,1385.9 1148.7,1395.5 1155.0,1410.0 C1163.2,1428.7 1161.2,1445.0 1160.0,1480.0 C1158.8,1515.0 1155.8,1532.0 1150.0,1560.0 C1145.6,1580.9 1141.5,1600.0 1135.0,1600.0 C1128.5,1600.0 1124.6,1580.9 1122.0,1560.0 C1118.5,1532.0 1119.3,1517.3 1120.0,1480.0 C1120.7,1442.7 1116.8,1416.3 1125.0,1400.0Z" fill="#e3f2f1" />
<path d="M1100.0,1640.0 C1090.0,1630.7 1081.1,1645.2 1075.0,1660.0 C1064.5,1685.7 1062.0,1705.7 1055.0,1750.0 C1048.0,1794.3 1049.5,1799.9 1045.0,1850.0 C1040.3,1902.3 1035.0,1974.0 1035.0,1974.0 C1035.0,1974.0 1090.0,1974.0 1090.0,1974.0 C1090.0,1974.0 1100.3,1937.5 1105.0,1900.0 C1110.1,1859.4 1109.0,1846.7 1112.0,1800.0 C1115.0,1753.3 1120.8,1737.3 1118.0,1700.0 C1115.7,1668.8 1110.0,1649.3 1100.0,1640.0Z" fill="#e8f4f3" />
<path d="M388.0,2.0 C388.0,2.0 397.0,2.0 397.0,2.0 C397.0,2.0 397.2,38.4 396.0,60.0 C394.8,81.6 393.6,96.4 391.0,110.0 C389.2,119.7 383.0,128.0 383.0,128.0 C383.0,128.0 384.0,85.2 385.0,60.0 C386.0,34.8 388.0,2.0 388.0,2.0Z" fill="#e2f2f1" opacity="0.85" />
<path d="M790.0,33.0 C794.6,32.3 795.4,36.6 797.6,42.0 C802.5,53.9 806.3,66.7 811.0,84.0 C815.3,99.8 811.9,106.0 817.7,116.0 C823.1,125.2 831.3,117.7 836.0,127.0 C840.7,136.3 834.0,143.9 838.0,156.0 C842.0,168.1 847.9,168.5 853.0,179.0 C858.1,189.4 853.7,191.3 860.0,201.0 C867.0,211.7 876.5,211.2 883.0,225.0 C889.5,238.8 881.2,246.2 888.0,260.0 C894.8,273.8 901.7,270.5 912.0,284.0 C925.3,301.5 935.9,311.0 945.0,335.0 C954.1,359.0 951.0,360.8 951.0,387.0 C951.0,414.1 946.4,420.9 945.0,451.0 C943.6,481.1 942.7,490.6 945.0,516.0 C947.1,538.5 956.2,540.4 955.0,560.0 C953.8,579.6 960.3,593.5 940.0,600.0 C910.8,609.3 855.9,636.9 830.0,600.0 C804.1,563.1 835.1,496.6 829.0,442.0 C824.6,402.2 813.1,371.1 804.0,366.0 C794.9,360.9 796.8,407.4 790.0,420.0 C786.5,426.6 778.9,426.4 775.0,420.0 C767.5,407.9 768.5,362.2 758.0,368.0 C747.5,373.8 739.6,424.9 730.0,445.0 C726.6,452.1 718.5,446.2 717.0,454.0 C713.3,473.8 718.0,495.9 714.0,530.0 C710.0,564.1 724.3,583.7 700.0,600.0 C675.7,616.3 633.3,618.7 610.0,600.0 C586.7,581.3 601.4,560.3 600.0,520.0 C598.4,473.3 599.0,439.7 603.0,400.0 C605.6,374.2 612.3,368.7 617.0,350.0 C620.7,335.2 617.2,334.1 623.0,320.0 C629.1,305.3 630.5,301.7 643.0,287.0 C656.3,271.4 670.7,267.0 680.0,253.0 C687.3,242.1 677.1,238.7 683.0,227.0 C689.3,214.6 700.0,212.6 707.0,200.0 C713.7,187.9 708.1,183.0 713.0,173.0 C717.8,163.1 724.2,167.3 728.0,157.0 C732.0,146.3 723.2,138.2 730.0,127.0 C736.8,115.8 748.4,120.2 757.0,109.0 C765.6,97.8 762.1,93.9 767.0,79.0 C771.9,64.1 772.6,55.7 778.0,45.0 C781.8,37.4 785.4,33.7 790.0,33.0Z" fill="url(#gTree)" />
<path d="M447.0,400.0 C447.0,400.0 627.0,400.0 627.0,400.0 C627.0,400.0 627.0,502.0 627.0,502.0 C627.0,502.0 608.0,505.0 608.0,505.0 C608.0,505.0 607.8,542.5 607.0,559.0 C606.2,575.5 606.2,595.5 603.0,604.0 C600.2,611.6 593.5,608.5 588.0,610.0 C582.5,611.5 574.2,610.8 570.0,613.0 C565.8,615.2 566.8,620.2 563.0,623.0 C559.2,625.8 551.2,628.5 547.0,630.0 C542.8,631.5 539.7,633.2 538.0,632.0 C536.3,630.8 538.8,624.5 537.0,623.0 C535.2,621.5 529.3,624.7 527.0,623.0 C524.7,621.3 525.5,617.3 523.0,613.0 C520.5,608.7 514.2,603.0 512.0,597.0 C509.8,591.0 514.5,586.0 510.0,577.0 C503.5,564.2 479.7,532.8 473.0,520.0 C468.3,511.0 474.2,506.2 470.0,500.0 C465.8,493.8 451.1,496.5 448.0,483.0 C444.2,466.3 447.0,400.0 447.0,400.0Z" fill="url(#gBlob)" />
<path d="M940.6,400.0 C940.6,400.0 1122.0,400.0 1122.0,400.0 C1122.0,400.0 1120.8,416.2 1120.5,427.0 C1120.2,437.8 1121.2,454.7 1120.5,465.0 C1119.8,475.3 1120.8,481.1 1116.6,488.6 C1112.4,496.1 1099.9,502.6 1095.4,510.0 C1090.9,517.4 1093.5,525.7 1089.6,533.0 C1085.7,540.3 1075.6,548.2 1072.0,554.0 C1068.4,559.8 1068.8,564.4 1068.0,568.0 C1067.2,571.6 1067.0,575.6 1067.0,575.6 C1067.0,575.6 1058.8,577.3 1056.7,581.5 C1054.7,585.7 1056.8,592.9 1054.7,601.0 C1052.6,609.1 1044.0,630.0 1044.0,630.0 C1044.0,630.0 1038.3,630.0 1038.3,630.0 C1038.3,630.0 1038.3,624.0 1038.3,624.0 C1038.3,624.0 1029.2,624.0 1029.2,624.0 C1029.2,624.0 1030.5,631.6 1028.6,633.7 C1026.7,635.8 1020.4,636.9 1018.0,636.6 C1015.6,636.3 1014.7,634.8 1014.0,631.7 C1013.0,627.4 1015.5,614.9 1012.0,610.5 C1008.5,606.1 998.7,604.4 992.8,605.6 C986.9,606.9 976.4,618.0 976.4,618.0 C976.4,618.0 965.8,618.0 965.8,618.0 C965.8,618.0 963.3,607.1 962.0,601.0 C960.7,594.9 958.3,591.4 958.0,581.5 C957.7,568.5 960.0,536.1 960.0,523.0 C960.0,513.0 958.0,503.0 958.0,503.0 C958.0,503.0 940.6,502.0 940.6,502.0 C940.6,502.0 940.6,400.0 940.6,400.0Z" fill="url(#gBlob)" />
<path d="M758.0,368.0 C752.0,366.0 750.6,404.6 745.0,420.0 C740.0,433.7 735.6,438.2 730.0,445.0 C725.0,451.1 718.4,446.2 717.0,454.0 C714.0,471.0 717.4,509.8 715.0,530.0 C713.4,543.4 708.8,546.4 705.0,555.0 C701.2,563.6 697.3,563.0 696.0,573.0 C693.6,590.8 688.2,627.6 693.0,644.0 C697.1,658.0 707.4,660.4 720.0,655.0 C732.6,649.6 745.6,636.8 756.0,617.0 C766.4,597.2 767.0,569.0 772.0,556.0 C773.8,551.4 777.2,548.9 781.0,552.0 C788.8,558.4 804.6,574.2 811.0,588.0 C817.4,601.8 807.2,607.6 813.0,621.0 C818.8,634.4 832.6,651.2 840.0,655.0 C847.4,658.8 848.7,648.9 850.0,640.0 C851.6,629.0 849.0,617.4 848.0,600.0 C847.0,582.6 848.6,567.0 845.0,553.0 C841.6,539.7 832.0,543.6 830.0,530.0 C826.8,507.8 832.0,465.0 829.0,442.0 C827.0,426.9 819.8,429.4 815.0,415.0 C810.0,399.8 807.6,365.0 804.0,366.0 C800.4,367.0 800.4,413.2 797.0,420.0 C793.6,426.8 791.4,398.0 787.0,400.0 C782.6,402.0 780.8,436.4 775.0,430.0 C769.2,423.6 764.0,370.0 758.0,368.0Z" fill="url(#gBell)" />
<path d="M787.0,400.0 C787.0,400.0 792.5,414.7 795.0,430.0 C798.2,450.0 800.4,474.0 803.0,500.0 C805.6,526.0 806.4,542.4 808.0,560.0 C809.3,574.0 814.6,580.0 811.0,588.0 C807.4,596.0 798.2,599.6 790.0,600.0 C781.8,600.4 773.6,598.8 770.0,590.0 C766.4,581.2 770.8,568.0 772.0,556.0 C773.2,544.0 774.6,543.1 776.0,530.0 C778.0,510.8 779.8,486.0 782.0,460.0 C784.2,434.0 787.0,400.0 787.0,400.0Z" fill="url(#gSpike)" />
<g transform="translate(538.0,272.0) rotate(-36.6) scale(0.997)" fill="#80878c" opacity="0.34"><path d="M1.5,28.0 L-13.2,0.0 L3.2,24.0 L5.7,24.0 L6.2,-3.0 L9.5,28.0 C11.3,29.3 12.4,29.7 14.8,32.0 C16.7,34.0 17.3,33.8 18.1,36.5 C18.7,38.7 18.0,38.8 17.3,41.0 C16.7,43.1 15.1,42.8 15.4,45.0 C16.1,49.7 17.3,50.0 19.4,55.0 C21.7,60.5 22.0,60.4 24.2,66.0 C27.0,72.9 27.2,72.9 29.4,80.0 C32.4,89.9 32.8,89.8 34.5,100.0 C36.1,109.9 35.9,110.0 35.9,120.0 C35.9,130.0 35.8,130.1 34.5,140.0 C33.2,150.1 33.3,150.2 30.6,160.0 C28.5,167.7 28.4,167.7 25.0,175.0 C21.8,181.8 21.7,181.8 17.4,188.0 C14.4,192.4 14.0,192.1 10.3,196.0 C7.8,198.6 8.5,199.9 5.0,201.0 C0.2,202.6 -0.4,202.7 -5.0,201.0 C-7.9,199.9 -7.1,198.7 -8.7,196.0 C-10.9,192.2 -11.3,192.3 -12.6,188.0 C-14.5,181.7 -14.4,181.6 -15.0,175.0 C-15.8,167.5 -15.7,167.5 -15.4,160.0 C-14.9,150.0 -14.5,150.0 -13.5,140.0 C-12.4,130.0 -12.4,130.0 -11.1,120.0 C-9.9,110.0 -10.1,110.0 -8.5,100.0 C-6.9,89.9 -6.6,90.0 -4.6,80.0 C-3.3,73.0 -3.2,73.0 -1.8,66.0 C-0.7,60.5 -0.5,60.5 0.4,55.0 C1.2,50.0 2.1,49.7 1.4,45.0 C1.1,42.5 -0.3,43.1 -1.7,41.0 C-3.0,38.9 -3.8,39.0 -3.9,36.5 C-4.1,34.1 -3.5,34.0 -2.2,32.0 C-0.7,29.7 0.3,29.3 1.5,28.0Z"/><path d="M-13.1,148.0 C-25.5,141.0 -35.4,128.0 -41.6,112.0 C-31.2,124.0 -22.0,133.0 -12.3,139.0Z"/><path d="M32.1,148.0 C46.5,141.0 58.6,128.0 66.4,112.0 C54.8,124.0 44.0,133.0 33.6,139.0Z"/><path d="M13.3,58 L17.4,68 M14.8,112 L7.1,135" stroke="#ffffff" stroke-width="1.2" fill="none" opacity="0.9"/></g>
<g transform="translate(511.0,360.0) rotate(-13.9) scale(1.020)" fill="#80878c" opacity="0.34"><path d="M-10.4,28.0 L-12.8,0.0 L-6.9,24.0 L-4.4,24.0 L7.9,-3.0 L-2.4,28.0 C-1.2,29.3 -0.2,29.7 1.3,32.0 C2.5,34.0 3.1,34.1 2.9,36.5 C2.6,39.0 1.9,38.9 0.5,41.0 C-0.9,43.1 -2.3,42.5 -2.7,45.0 C-3.5,49.7 -2.6,50.0 -1.9,55.0 C-1.2,60.5 -0.9,60.5 0.1,66.0 C1.4,73.0 1.4,73.0 2.7,80.0 C4.6,90.0 4.9,90.0 6.5,100.0 C8.1,110.0 7.9,110.0 9.2,120.0 C10.6,130.0 10.6,130.0 11.9,140.0 C13.1,150.0 13.5,150.0 14.2,160.0 C14.7,167.5 14.8,167.5 14.3,175.0 C13.8,181.6 13.9,181.6 12.2,188.0 C11.0,192.2 10.7,192.2 8.6,196.0 C7.1,198.7 7.9,199.9 5.0,201.0 C0.5,202.7 -0.2,202.5 -5.0,201.0 C-8.5,199.9 -7.8,198.6 -10.4,196.0 C-14.3,192.1 -14.6,192.4 -17.8,188.0 C-22.3,181.8 -22.3,181.8 -25.7,175.0 C-29.4,167.8 -29.5,167.8 -31.8,160.0 C-34.7,150.2 -34.6,150.1 -36.1,140.0 C-37.6,130.1 -37.7,130.0 -37.8,120.0 C-37.9,110.0 -38.1,109.9 -36.5,100.0 C-34.8,89.8 -34.3,89.9 -31.3,80.0 C-29.0,72.8 -28.8,72.9 -25.9,66.0 C-23.6,60.4 -23.3,60.5 -20.9,55.0 C-18.7,50.0 -17.5,49.7 -16.7,45.0 C-16.4,42.8 -17.9,43.1 -18.5,41.0 C-19.1,38.8 -19.8,38.7 -19.1,36.5 C-18.3,33.8 -17.8,34.0 -15.7,32.0 C-13.3,29.7 -12.2,29.3 -10.4,28.0Z"/><path d="M-33.5,148.0 C-48.1,141.0 -60.4,128.0 -68.3,112.0 C-56.6,124.0 -45.7,133.0 -35.2,139.0Z"/><path d="M11.7,148.0 C23.9,141.0 33.6,128.0 39.7,112.0 C29.4,124.0 20.3,133.0 10.7,139.0Z"/><path d="M-8.9,58 L-7.1,68 M-12.7,112 L-16.8,135" stroke="#ffffff" stroke-width="1.2" fill="none" opacity="0.9"/></g>
<g transform="translate(752.0,252.0) rotate(4.9) scale(1.004)" fill="#80878c" opacity="0.34"><path d="M-6.6,28.0 L-12.9,0.0 L-3.7,24.0 L-1.2,24.0 L7.4,-3.0 L1.4,28.0 C2.8,29.3 3.9,29.7 5.6,32.0 C7.1,34.0 7.7,34.0 7.7,36.5 C7.8,38.9 7.1,38.9 5.9,41.0 C4.7,43.1 3.3,42.6 3.1,45.0 C2.8,49.7 3.8,50.0 4.9,55.0 C6.2,60.5 6.4,60.5 7.8,66.0 C9.6,73.0 9.7,73.0 11.3,80.0 C13.5,90.0 13.9,89.9 15.5,100.0 C17.1,109.9 16.9,110.0 17.8,120.0 C18.7,130.0 18.7,130.0 19.1,140.0 C19.6,150.0 19.9,150.0 19.5,160.0 C19.2,167.5 19.2,167.6 17.7,175.0 C16.4,181.6 16.4,181.7 13.9,188.0 C12.1,192.3 11.7,192.2 9.1,196.0 C7.3,198.7 8.1,199.9 5.0,201.0 C0.3,202.7 -0.3,202.6 -5.0,201.0 C-8.3,199.9 -7.6,198.7 -9.9,196.0 C-13.2,192.1 -13.5,192.4 -16.1,188.0 C-19.8,181.8 -19.8,181.7 -22.3,175.0 C-25.0,167.7 -25.1,167.7 -26.5,160.0 C-28.4,150.1 -28.2,150.0 -28.9,140.0 C-29.5,130.0 -29.5,130.0 -29.2,120.0 C-28.9,110.0 -29.1,109.9 -27.5,100.0 C-25.9,89.8 -25.4,89.9 -22.7,80.0 C-20.8,72.9 -20.6,73.0 -18.2,66.0 C-16.2,60.5 -16.0,60.5 -14.1,55.0 C-12.3,50.0 -11.2,49.7 -10.9,45.0 C-10.7,42.7 -12.3,43.1 -13.1,41.0 C-14.0,38.8 -14.7,38.8 -14.3,36.5 C-13.8,33.9 -13.2,34.0 -11.4,32.0 C-9.3,29.7 -8.2,29.3 -6.6,28.0Z"/><path d="M-27.0,148.0 C-40.9,141.0 -52.3,128.0 -59.7,112.0 C-48.4,124.0 -38.1,133.0 -27.9,139.0Z"/><path d="M18.2,148.0 C31.1,141.0 41.7,128.0 48.3,112.0 C37.6,124.0 27.9,133.0 18.1,139.0Z"/><path d="M-1.7,58 L0.7,68 M-3.9,112 L-9.1,135" stroke="#ffffff" stroke-width="1.2" fill="none" opacity="0.9"/></g>
<g transform="translate(606.0,521.0) rotate(-26.2) scale(1.042)" fill="#80878c" opacity="0.34"><path d="M-2.3,28.0 L-13.1,0.0 L-0.0,24.0 L2.5,24.0 L6.8,-3.0 L5.7,28.0 C7.3,29.3 8.4,29.7 10.4,32.0 C12.2,34.0 12.7,33.9 13.2,36.5 C13.5,38.8 12.8,38.8 11.9,41.0 C11.0,43.1 9.5,42.7 9.6,45.0 C9.8,49.7 10.9,50.0 12.5,55.0 C14.4,60.5 14.6,60.5 16.4,66.0 C18.7,73.0 18.9,72.9 20.8,80.0 C23.4,89.9 23.9,89.9 25.5,100.0 C27.1,109.9 26.9,110.0 27.3,120.0 C27.7,130.0 27.7,130.0 27.2,140.0 C26.7,150.0 27.0,150.1 25.4,160.0 C24.1,167.6 24.0,167.7 21.5,175.0 C19.2,181.7 19.2,181.8 15.7,188.0 C13.3,192.4 12.9,192.1 9.8,196.0 C7.6,198.7 8.3,199.9 5.0,201.0 C0.3,202.6 -0.3,202.7 -5.0,201.0 C-8.1,199.9 -7.3,198.7 -9.2,196.0 C-12.0,192.2 -12.4,192.3 -14.3,188.0 C-17.0,181.7 -16.9,181.7 -18.5,175.0 C-20.2,167.6 -20.2,167.6 -20.6,160.0 C-21.3,150.0 -21.0,150.0 -20.8,140.0 C-20.5,130.0 -20.5,130.0 -19.7,120.0 C-18.9,110.0 -19.1,109.9 -17.5,100.0 C-15.9,89.9 -15.5,90.0 -13.2,80.0 C-11.6,73.0 -11.4,73.0 -9.6,66.0 C-8.1,60.5 -7.8,60.5 -6.5,55.0 C-5.2,50.0 -4.2,49.7 -4.4,45.0 C-4.5,42.6 -6.0,43.1 -7.1,41.0 C-8.2,38.9 -9.0,38.9 -8.8,36.5 C-8.7,34.0 -8.1,34.0 -6.6,32.0 C-4.8,29.7 -3.7,29.3 -2.3,28.0Z"/><path d="M-19.7,148.0 C-32.8,141.0 -43.4,128.0 -50.2,112.0 C-39.4,124.0 -29.6,133.0 -19.7,139.0Z"/><path d="M25.5,148.0 C39.2,141.0 50.6,128.0 57.8,112.0 C46.6,124.0 36.4,133.0 26.2,139.0Z"/><path d="M6.2,58 L9.5,68 M5.9,112 L-0.6,135" stroke="#ffffff" stroke-width="1.2" fill="none" opacity="0.9"/></g>
<g transform="translate(783.0,380.0) rotate(-7.6) scale(1.090)" fill="#707a7e" opacity="0.4"><path d="M-6.1,28.0 L-12.9,0.0 L-3.3,24.0 L-0.8,24.0 L7.3,-3.0 L1.9,28.0 C3.3,29.3 4.3,29.7 6.1,32.0 C7.6,34.0 8.2,34.0 8.3,36.5 C8.4,38.9 7.6,38.9 6.5,41.0 C5.4,43.1 3.9,42.6 3.8,45.0 C3.5,49.7 4.5,50.0 5.7,55.0 C7.0,60.5 7.3,60.5 8.7,66.0 C10.5,73.0 10.6,73.0 12.2,80.0 C14.5,90.0 14.9,89.9 16.5,100.0 C18.1,109.9 17.9,110.0 18.7,120.0 C19.6,130.0 19.6,130.0 20.0,140.0 C20.3,150.0 20.6,150.0 20.1,160.0 C19.7,167.6 19.7,167.6 18.1,175.0 C16.7,181.7 16.7,181.7 14.1,188.0 C12.2,192.3 11.9,192.2 9.2,196.0 C7.3,198.7 8.1,199.9 5.0,201.0 C0.3,202.7 -0.3,202.6 -5.0,201.0 C-8.3,199.9 -7.6,198.7 -9.8,196.0 C-13.1,192.1 -13.4,192.4 -15.9,188.0 C-19.5,181.8 -19.5,181.7 -21.9,175.0 C-24.5,167.7 -24.6,167.6 -25.9,160.0 C-27.7,150.1 -27.5,150.0 -28.0,140.0 C-28.6,130.0 -28.6,130.0 -28.3,120.0 C-27.9,110.0 -28.1,109.9 -26.5,100.0 C-24.9,89.9 -24.4,89.9 -21.8,80.0 C-19.8,72.9 -19.7,73.0 -17.3,66.0 C-15.4,60.5 -15.2,60.5 -13.3,55.0 C-11.6,50.0 -10.5,49.7 -10.2,45.0 C-10.1,42.7 -11.6,43.1 -12.5,41.0 C-13.4,38.8 -14.1,38.8 -13.7,36.5 C-13.3,33.9 -12.7,34.0 -10.9,32.0 C-8.8,29.7 -7.7,29.3 -6.1,28.0Z"/><path d="M-26.2,148.0 C-40.0,141.0 -51.5,128.0 -58.8,112.0 C-47.5,124.0 -37.2,133.0 -27.1,139.0Z"/><path d="M19.0,148.0 C32.0,141.0 42.5,128.0 49.2,112.0 C38.5,124.0 28.8,133.0 18.9,139.0Z"/><path d="M-1.0,58 L1.6,68 M-2.9,112 L-8.3,135" stroke="#ffffff" stroke-width="1.2" fill="none" opacity="0.9"/></g>
<g transform="translate(918.0,262.0) rotate(-7.1) scale(1.013)" fill="#80878c" opacity="0.34"><path d="M-8.3,28.0 L-12.9,0.0 L-5.1,24.0 L-2.6,24.0 L7.6,-3.0 L-0.3,28.0 C1.1,29.3 2.1,29.7 3.7,32.0 C5.1,34.0 5.6,34.1 5.6,36.5 C5.5,39.0 4.8,38.9 3.5,41.0 C2.2,43.1 0.8,42.5 0.5,45.0 C-0.0,49.7 1.0,50.0 1.9,55.0 C2.9,60.5 3.2,60.5 4.4,66.0 C6.0,73.0 6.0,73.0 7.5,80.0 C9.6,90.0 9.9,89.9 11.5,100.0 C13.1,109.9 12.9,110.0 14.0,120.0 C15.1,130.0 15.1,130.0 15.9,140.0 C16.7,150.0 17.0,150.0 17.1,160.0 C17.2,167.5 17.2,167.6 16.2,175.0 C15.2,181.6 15.3,181.7 13.1,188.0 C11.6,192.3 11.3,192.2 8.9,196.0 C7.2,198.7 8.0,199.9 5.0,201.0 C0.4,202.7 -0.3,202.6 -5.0,201.0 C-8.4,199.9 -7.7,198.6 -10.1,196.0 C-13.7,192.1 -14.0,192.4 -16.9,188.0 C-20.9,181.8 -20.9,181.8 -23.8,175.0 C-26.9,167.7 -27.1,167.7 -28.9,160.0 C-31.2,150.1 -31.0,150.1 -32.1,140.0 C-33.1,130.0 -33.2,130.0 -33.0,120.0 C-32.9,110.0 -33.1,109.9 -31.5,100.0 C-29.8,89.8 -29.4,89.9 -26.5,80.0 C-24.4,72.9 -24.2,72.9 -21.6,66.0 C-19.5,60.4 -19.2,60.5 -17.1,55.0 C-15.2,50.0 -14.0,49.7 -13.5,45.0 C-13.2,42.8 -14.8,43.1 -15.5,41.0 C-16.3,38.8 -17.0,38.7 -16.4,36.5 C-15.8,33.8 -15.2,34.0 -13.3,32.0 C-11.1,29.7 -9.9,29.3 -8.3,28.0Z"/><path d="M-29.9,148.0 C-44.1,141.0 -55.9,128.0 -63.5,112.0 C-52.0,124.0 -41.4,133.0 -31.2,139.0Z"/><path d="M15.3,148.0 C27.9,141.0 38.1,128.0 44.5,112.0 C34.0,124.0 24.6,133.0 14.8,139.0Z"/><path d="M-4.9,58 L-2.8,68 M-7.8,112 L-12.5,135" stroke="#ffffff" stroke-width="1.2" fill="none" opacity="0.9"/></g>
<g transform="translate(1176.0,14.0) rotate(5.2) scale(0.999)" fill="#80878c" opacity="0.34"><path d="M2.8,28.0 L-13.2,0.0 L4.3,24.0 L6.8,24.0 L6.0,-3.0 L10.8,28.0 C12.6,29.3 13.8,29.7 16.2,32.0 C18.3,34.0 18.8,33.8 19.7,36.5 C20.4,38.7 19.7,38.8 19.1,41.0 C18.5,43.1 17.0,42.9 17.4,45.0 C18.2,49.7 19.4,50.0 21.7,55.0 C24.1,60.5 24.4,60.4 26.8,66.0 C29.7,72.9 30.0,72.8 32.2,80.0 C35.3,89.9 35.8,89.8 37.5,100.0 C39.1,109.9 38.9,110.0 38.7,120.0 C38.6,130.0 38.5,130.1 36.9,140.0 C35.3,150.1 35.4,150.2 32.4,160.0 C30.0,167.8 29.8,167.8 26.1,175.0 C22.6,181.8 22.6,181.8 18.0,188.0 C14.7,192.4 14.4,192.1 10.5,196.0 C7.9,198.6 8.5,199.9 5.0,201.0 C0.2,202.5 -0.5,202.7 -5.0,201.0 C-7.9,199.9 -7.0,198.7 -8.5,196.0 C-10.6,192.2 -10.9,192.2 -12.0,188.0 C-13.6,181.6 -13.5,181.6 -13.9,175.0 C-14.3,167.5 -14.2,167.5 -13.6,160.0 C-12.8,150.0 -12.4,150.0 -11.1,140.0 C-9.7,130.0 -9.7,130.0 -8.3,120.0 C-6.9,110.0 -7.1,110.0 -5.5,100.0 C-3.9,90.0 -3.6,90.0 -1.8,80.0 C-0.5,73.0 -0.5,73.0 0.8,66.0 C1.7,60.5 2.0,60.5 2.7,55.0 C3.3,50.0 4.2,49.7 3.4,45.0 C2.9,42.5 1.6,43.1 0.1,41.0 C-1.3,38.9 -2.1,39.0 -2.3,36.5 C-2.6,34.1 -2.0,34.0 -0.8,32.0 C0.6,29.7 1.6,29.3 2.8,28.0Z"/><path d="M-10.9,148.0 C-23.1,141.0 -32.7,128.0 -38.8,112.0 C-28.5,124.0 -19.5,133.0 -9.9,139.0Z"/><path d="M34.3,148.0 C48.9,141.0 61.3,128.0 69.2,112.0 C57.5,124.0 46.5,133.0 36.1,139.0Z"/><path d="M15.6,58 L20.0,68 M17.7,112 L9.6,135" stroke="#ffffff" stroke-width="1.2" fill="none" opacity="0.9"/></g>
<g transform="translate(895.0,503.0) rotate(-6.6) scale(1.128)" fill="#80878c" opacity="0.34"><path d="M-7.4,28.0 L-12.9,0.0 L-4.4,24.0 L-1.9,24.0 L7.5,-3.0 L0.6,28.0 C1.9,29.3 3.0,29.7 4.6,32.0 C6.1,34.0 6.6,34.0 6.7,36.5 C6.7,39.0 5.9,38.9 4.7,41.0 C3.5,43.1 2.0,42.5 1.8,45.0 C1.4,49.7 2.4,50.0 3.4,55.0 C4.6,60.5 4.8,60.5 6.1,66.0 C7.8,73.0 7.9,73.0 9.4,80.0 C11.6,90.0 11.9,89.9 13.5,100.0 C15.1,109.9 14.9,110.0 15.9,120.0 C16.9,130.0 16.9,130.0 17.5,140.0 C18.1,150.0 18.5,150.0 18.3,160.0 C18.2,167.5 18.2,167.6 16.9,175.0 C15.8,181.6 15.9,181.7 13.5,188.0 C11.9,192.3 11.5,192.2 9.0,196.0 C7.2,198.7 8.0,199.9 5.0,201.0 C0.3,202.7 -0.3,202.6 -5.0,201.0 C-8.4,199.9 -7.7,198.6 -10.0,196.0 C-13.4,192.1 -13.8,192.4 -16.5,188.0 C-20.3,181.8 -20.4,181.8 -23.1,175.0 C-26.0,167.7 -26.1,167.7 -27.7,160.0 C-29.8,150.1 -29.6,150.1 -30.5,140.0 C-31.3,130.0 -31.4,130.0 -31.1,120.0 C-30.9,110.0 -31.1,109.9 -29.5,100.0 C-27.8,89.8 -27.4,89.9 -24.6,80.0 C-22.6,72.9 -22.4,72.9 -19.9,66.0 C-17.9,60.4 -17.6,60.5 -15.6,55.0 C-13.8,50.0 -12.6,49.7 -12.2,45.0 C-12.0,42.7 -13.5,43.1 -14.3,41.0 C-15.1,38.8 -15.8,38.8 -15.3,36.5 C-14.8,33.9 -14.2,34.0 -12.4,32.0 C-10.2,29.7 -9.1,29.3 -7.4,28.0Z"/><path d="M-28.4,148.0 C-42.5,141.0 -54.1,128.0 -61.6,112.0 C-50.2,124.0 -39.8,133.0 -29.5,139.0Z"/><path d="M16.8,148.0 C29.5,141.0 39.9,128.0 46.4,112.0 C35.8,124.0 26.2,133.0 16.4,139.0Z"/><path d="M-3.3,58 L-1.0,68 M-5.9,112 L-10.8,135" stroke="#ffffff" stroke-width="1.2" fill="none" opacity="0.9"/></g>
<g transform="translate(728.0,793.0) rotate(-6.5) scale(1.012)" fill="#80878c" opacity="0.35"><path d="M-8.3,28.0 L-12.9,0.0 L-5.1,24.0 L-2.6,24.0 L7.6,-3.0 L-0.3,28.0 C1.1,29.3 2.1,29.7 3.7,32.0 C5.1,34.0 5.6,34.1 5.6,36.5 C5.5,39.0 4.8,38.9 3.5,41.0 C2.2,43.1 0.8,42.5 0.5,45.0 C-0.0,49.7 1.0,50.0 1.9,55.0 C2.9,60.5 3.2,60.5 4.4,66.0 C6.0,73.0 6.0,73.0 7.5,80.0 C9.6,90.0 9.9,89.9 11.5,100.0 C13.1,109.9 12.9,110.0 14.0,120.0 C15.1,130.0 15.1,130.0 15.9,140.0 C16.7,150.0 17.0,150.0 17.1,160.0 C17.2,167.5 17.2,167.6 16.2,175.0 C15.2,181.6 15.3,181.7 13.1,188.0 C11.6,192.3 11.3,192.2 8.9,196.0 C7.2,198.7 8.0,199.9 5.0,201.0 C0.4,202.7 -0.3,202.6 -5.0,201.0 C-8.4,199.9 -7.7,198.6 -10.1,196.0 C-13.7,192.1 -14.0,192.4 -16.9,188.0 C-20.9,181.8 -20.9,181.8 -23.8,175.0 C-26.9,167.7 -27.1,167.7 -28.9,160.0 C-31.2,150.1 -31.0,150.1 -32.1,140.0 C-33.1,130.0 -33.2,130.0 -33.0,120.0 C-32.9,110.0 -33.1,109.9 -31.5,100.0 C-29.8,89.8 -29.4,89.9 -26.5,80.0 C-24.4,72.9 -24.2,72.9 -21.6,66.0 C-19.5,60.4 -19.2,60.5 -17.1,55.0 C-15.2,50.0 -14.0,49.7 -13.5,45.0 C-13.2,42.8 -14.8,43.1 -15.5,41.0 C-16.3,38.8 -17.0,38.7 -16.4,36.5 C-15.8,33.8 -15.2,34.0 -13.3,32.0 C-11.1,29.7 -9.9,29.3 -8.3,28.0Z"/><path d="M-29.9,148.0 C-44.1,141.0 -55.9,128.0 -63.5,112.0 C-52.0,124.0 -41.4,133.0 -31.2,139.0Z"/><path d="M15.3,148.0 C27.9,141.0 38.1,128.0 44.5,112.0 C34.0,124.0 24.6,133.0 14.8,139.0Z"/><path d="M-4.9,58 L-2.8,68 M-7.8,112 L-12.5,135" stroke="#ffffff" stroke-width="1.2" fill="none" opacity="0.9"/></g>
<g transform="translate(254.0,741.0) rotate(-37.0) scale(0.964)" fill="#80878c" opacity="0.33"><path d="M1.1,28.0 L-13.2,0.0 L2.9,24.0 L5.4,24.0 L6.3,-3.0 L9.1,28.0 C10.8,29.3 12.0,29.7 14.3,32.0 C16.2,34.0 16.8,33.8 17.5,36.5 C18.1,38.7 17.4,38.8 16.7,41.0 C16.0,43.1 14.5,42.8 14.8,45.0 C15.4,49.7 16.6,50.0 18.6,55.0 C20.9,60.5 21.1,60.4 23.3,66.0 C26.0,72.9 26.3,72.9 28.4,80.0 C31.4,89.9 31.8,89.8 33.5,100.0 C35.1,109.9 34.9,110.0 34.9,120.0 C35.0,130.0 34.9,130.1 33.7,140.0 C32.5,150.1 32.6,150.2 30.1,160.0 C28.0,167.7 27.9,167.7 24.6,175.0 C21.5,181.8 21.5,181.8 17.2,188.0 C14.3,192.4 13.9,192.1 10.3,196.0 C7.8,198.6 8.4,199.9 5.0,201.0 C0.2,202.6 -0.4,202.7 -5.0,201.0 C-7.9,199.9 -7.1,198.7 -8.7,196.0 C-11.0,192.2 -11.4,192.3 -12.8,188.0 C-14.8,181.7 -14.7,181.6 -15.4,175.0 C-16.3,167.5 -16.2,167.5 -15.9,160.0 C-15.6,150.0 -15.3,150.0 -14.3,140.0 C-13.3,130.0 -13.3,130.0 -12.1,120.0 C-10.9,110.0 -11.1,110.0 -9.5,100.0 C-7.9,89.9 -7.6,90.0 -5.6,80.0 C-4.2,73.0 -4.1,73.0 -2.7,66.0 C-1.5,60.5 -1.3,60.5 -0.4,55.0 C0.4,50.0 1.4,49.7 0.8,45.0 C0.5,42.5 -1.0,43.1 -2.3,41.0 C-3.6,38.9 -4.4,39.0 -4.5,36.5 C-4.6,34.1 -4.0,34.0 -2.7,32.0 C-1.2,29.7 -0.2,29.3 1.1,28.0Z"/><path d="M-13.9,148.0 C-26.3,141.0 -36.3,128.0 -42.6,112.0 C-32.1,124.0 -22.9,133.0 -13.2,139.0Z"/><path d="M31.3,148.0 C45.7,141.0 57.7,128.0 65.4,112.0 C53.9,124.0 43.1,133.0 32.8,139.0Z"/><path d="M12.5,58 L16.5,68 M13.8,112 L6.2,135" stroke="#ffffff" stroke-width="1.2" fill="none" opacity="0.9"/></g>
<g transform="translate(413.0,1204.0) rotate(-23.1) scale(1.022)" fill="#80878c" opacity="0.33"><path d="M-8.3,28.0 L-12.9,0.0 L-5.1,24.0 L-2.6,24.0 L7.6,-3.0 L-0.3,28.0 C1.1,29.3 2.1,29.7 3.7,32.0 C5.1,34.0 5.6,34.1 5.6,36.5 C5.5,39.0 4.8,38.9 3.5,41.0 C2.2,43.1 0.8,42.5 0.5,45.0 C-0.0,49.7 1.0,50.0 1.9,55.0 C2.9,60.5 3.2,60.5 4.4,66.0 C6.0,73.0 6.0,73.0 7.5,80.0 C9.6,90.0 9.9,89.9 11.5,100.0 C13.1,109.9 12.9,110.0 14.0,120.0 C15.1,130.0 15.1,130.0 15.9,140.0 C16.7,150.0 17.0,150.0 17.1,160.0 C17.2,167.5 17.2,167.6 16.2,175.0 C15.2,181.6 15.3,181.7 13.1,188.0 C11.6,192.3 11.3,192.2 8.9,196.0 C7.2,198.7 8.0,199.9 5.0,201.0 C0.4,202.7 -0.3,202.6 -5.0,201.0 C-8.4,199.9 -7.7,198.6 -10.1,196.0 C-13.7,192.1 -14.0,192.4 -16.9,188.0 C-20.9,181.8 -20.9,181.8 -23.8,175.0 C-26.9,167.7 -27.1,167.7 -28.9,160.0 C-31.2,150.1 -31.0,150.1 -32.1,140.0 C-33.1,130.0 -33.2,130.0 -33.0,120.0 C-32.9,110.0 -33.1,109.9 -31.5,100.0 C-29.8,89.8 -29.4,89.9 -26.5,80.0 C-24.4,72.9 -24.2,72.9 -21.6,66.0 C-19.5,60.4 -19.2,60.5 -17.1,55.0 C-15.2,50.0 -14.0,49.7 -13.5,45.0 C-13.2,42.8 -14.8,43.1 -15.5,41.0 C-16.3,38.8 -17.0,38.7 -16.4,36.5 C-15.8,33.8 -15.2,34.0 -13.3,32.0 C-11.1,29.7 -9.9,29.3 -8.3,28.0Z"/><path d="M-29.9,148.0 C-44.1,141.0 -55.9,128.0 -63.5,112.0 C-52.0,124.0 -41.4,133.0 -31.2,139.0Z"/><path d="M15.3,148.0 C27.9,141.0 38.1,128.0 44.5,112.0 C34.0,124.0 24.6,133.0 14.8,139.0Z"/><path d="M-4.9,58 L-2.8,68 M-7.8,112 L-12.5,135" stroke="#ffffff" stroke-width="1.2" fill="none" opacity="0.9"/></g>
<line x1="152.5" y1="662" x2="152.5" y2="1489" stroke="#0b0b0b" stroke-width="3.2" stroke-linecap="butt"/>
<line x1="1394" y1="667" x2="1394" y2="1468" stroke="#0b0b0b" stroke-width="3.2" stroke-linecap="butt"/>
<line x1="325.5" y1="1220" x2="325.5" y2="1722" stroke="#0b0b0b" stroke-width="3.2" stroke-linecap="butt"/>
<line x1="1223" y1="1217" x2="1223" y2="1700" stroke="#0b0b0b" stroke-width="3.2" stroke-linecap="butt"/>
<line x1="588.5" y1="1107" x2="591.5" y2="1672" stroke="#0b0b0b" stroke-width="2.6" stroke-linecap="butt"/>
<line x1="951.3" y1="1101" x2="951.3" y2="1682" stroke="#0b0b0b" stroke-width="2.6" stroke-linecap="butt"/>
<line x1="775.8" y1="652" x2="775.8" y2="1642" stroke="#0b0b0b" stroke-width="3.2" stroke-linecap="butt"/>
<path d="M147.4,1488.4 L327.2,1766.6 L332.8,1762.8 L148.6,1487.6Z" fill="#0b0b0b"/>
<path d="M327.2,1766.6 L473.9,1991.4 L481.1,1986.6 L332.8,1762.8Z" fill="#0b0b0b"/>
<path d="M134.0,1471.5 Q340.7,1719.5 512.5,1993.5" fill="none" stroke="#0b0b0b" stroke-width="2.8"/>
<line x1="193.5" y1="1540.5" x2="198.0" y2="1546.0" stroke="#0b0b0b" stroke-width="5"/>
<path d="M256.8,1654.5 C262.0,1653.0 268.0,1657.0 272.0,1661.0 C280.0,1669.0 287.0,1678.0 293.3,1685.6 L478.8,1954.0" fill="none" stroke="#0b0b0b" stroke-width="3"/>
<path d="M1397.4,1466.1 L1213.2,1741.3 L1218.8,1745.1 L1398.6,1466.9Z" fill="#0b0b0b"/>
<path d="M1213.2,1741.3 L1064.9,1965.1 L1072.1,1969.9 L1218.8,1745.1Z" fill="#0b0b0b"/>
<path d="M1412.0,1450.0 Q1205.3,1698.0 1033.5,1972.0" fill="none" stroke="#0b0b0b" stroke-width="2.8"/>
<line x1="1352.5" y1="1519.0" x2="1348.0" y2="1524.5" stroke="#0b0b0b" stroke-width="5"/>
<path d="M1289.2,1633.0 C1284.0,1631.5 1278.0,1635.5 1274.0,1639.5 C1266.0,1647.5 1259.0,1656.5 1252.7,1664.1 L1067.2,1932.5" fill="none" stroke="#0b0b0b" stroke-width="3"/>
<path d="M151.0,1489.0 C154.0,1482.7 154.5,1479.0 160.0,1470.0 C173.0,1448.7 173.6,1446.5 190.0,1425.0 C206.1,1403.9 206.8,1404.4 225.0,1385.0 C244.3,1364.4 243.3,1363.1 265.0,1345.0 C281.0,1331.7 281.4,1331.8 300.0,1322.5 C314.1,1315.4 314.2,1313.8 330.0,1312.5 C345.2,1311.2 345.9,1311.7 360.0,1317.5 C374.1,1323.3 373.5,1325.0 385.0,1335.0 C393.7,1342.6 395.0,1346.7 400.0,1352.5" fill="none" stroke="#0b0b0b" stroke-width="3.2" stroke-linecap="round"/>
<path d="M1393.5,1467.5 C1391.0,1460.0 1390.0,1456.2 1386.0,1445.0 C1378.8,1424.9 1381.0,1423.9 1371.0,1405.0 C1358.3,1381.1 1358.2,1380.9 1341.0,1360.0 C1323.0,1338.2 1323.0,1337.8 1301.0,1320.0 C1280.2,1303.1 1280.3,1302.3 1256.0,1291.0 C1240.9,1284.0 1240.1,1284.3 1223.5,1284.0 C1207.0,1283.7 1206.2,1283.4 1191.0,1290.0 C1176.6,1296.3 1174.3,1302.7 1166.0,1309.0" fill="none" stroke="#0b0b0b" stroke-width="3.2" stroke-linecap="round"/>
<path d="M326.0,1722.5 C326.5,1715.0 326.3,1711.2 327.5,1700.0 C329.6,1680.0 328.5,1679.8 332.5,1660.0 C336.1,1642.2 336.0,1642.0 342.5,1625.0 C346.1,1615.6 345.8,1615.0 352.5,1607.5 C357.4,1602.1 360.8,1602.5 365.0,1600.0" fill="none" stroke="#0b0b0b" stroke-width="3" stroke-linecap="round"/>
<path d="M1221.3,1700.0 C1221.1,1693.2 1221.4,1689.8 1220.7,1679.6 C1219.7,1664.8 1220.1,1664.7 1217.8,1650.0 C1215.7,1636.7 1216.0,1636.5 1212.0,1623.7 C1208.6,1612.9 1209.8,1612.0 1203.0,1603.0 C1198.2,1596.6 1197.5,1596.0 1189.8,1594.0 C1184.6,1592.7 1182.9,1596.0 1179.5,1597.0" fill="none" stroke="#0b0b0b" stroke-width="3" stroke-linecap="round"/>
<line x1="400.5" y1="1355" x2="528" y2="1618" stroke="#1a0a05" stroke-width="3.2"/>
<line x1="400.5" y1="1355" x2="528" y2="1618" stroke="#d8603a" stroke-width="1.5"/>
<line x1="528" y1="1618" x2="556" y2="1672" stroke="#0b0b0b" stroke-width="7.5" stroke-linecap="round"/>
<line x1="528" y1="1618" x2="556" y2="1672" stroke="#4a4a4a" stroke-width="2" stroke-linecap="round"/>
<line x1="367.5" y1="1602.5" x2="488" y2="1740" stroke="#1a0a05" stroke-width="3.2"/>
<line x1="367.5" y1="1602.5" x2="488" y2="1740" stroke="#d8603a" stroke-width="1.5"/>
<line x1="488" y1="1740" x2="531" y2="1788" stroke="#0b0b0b" stroke-width="7.5" stroke-linecap="round"/>
<line x1="488" y1="1740" x2="531" y2="1788" stroke="#4a4a4a" stroke-width="2" stroke-linecap="round"/>
<line x1="1165.5" y1="1310" x2="1029.7" y2="1607" stroke="#1a0a05" stroke-width="3.2"/>
<line x1="1165.5" y1="1310" x2="1029.7" y2="1607" stroke="#d8603a" stroke-width="1.5"/>
<line x1="1029.7" y1="1607" x2="1002" y2="1668" stroke="#0b0b0b" stroke-width="7.5" stroke-linecap="round"/>
<line x1="1029.7" y1="1607" x2="1002" y2="1668" stroke="#4a4a4a" stroke-width="2" stroke-linecap="round"/>
<line x1="1178" y1="1601.7" x2="1058" y2="1743" stroke="#1a0a05" stroke-width="3.2"/>
<line x1="1178" y1="1601.7" x2="1058" y2="1743" stroke="#d8603a" stroke-width="1.5"/>
<line x1="1058" y1="1743" x2="1018" y2="1788" stroke="#0b0b0b" stroke-width="7.5" stroke-linecap="round"/>
<line x1="1058" y1="1743" x2="1018" y2="1788" stroke="#4a4a4a" stroke-width="2" stroke-linecap="round"/>
<line x1="152.9" y1="222" x2="152.9" y2="662" stroke="#0b0b0b" stroke-width="2"/>
<line x1="102.6" y1="397.5" x2="102.6" y2="657" stroke="#0b0b0b" stroke-width="2"/>
<line x1="198.9" y1="397.5" x2="198.9" y2="657" stroke="#0b0b0b" stroke-width="2"/>
<line x1="53.9" y1="490" x2="53.9" y2="645" stroke="#0b0b0b" stroke-width="2"/>
<line x1="247.7" y1="490" x2="247.7" y2="645" stroke="#0b0b0b" stroke-width="2"/>
<path d="M52.4,647 C107.5,668.3 194.1,668.3 249.2,647" fill="none" stroke="#0b0b0b" stroke-width="3.0" stroke-linecap="round"/>
<circle cx="53.9" cy="644.5" r="2.6" fill="#fff" stroke="#111" stroke-width="1"/>
<circle cx="247.7" cy="644.5" r="2.6" fill="#fff" stroke="#111" stroke-width="1"/>
<circle cx="102.6" cy="656.5" r="2.6" fill="#fff" stroke="#111" stroke-width="1"/>
<circle cx="198.9" cy="656.5" r="2.6" fill="#fff" stroke="#111" stroke-width="1"/>
<circle cx="152.9" cy="660.5" r="2.9" fill="#fff" stroke="#111" stroke-width="1"/>
<g transform="translate(152.9,162.0)"><path d="M-5.4,52.5 L5.4,52.5 C6.0,69.5 5.8,84.7 4.6,90.1 C2.7,95.0 -2.7,95.0 -4.6,90.1 C-5.8,84.7 -6.0,69.5 -5.4,52.5Z" fill="#fff200" stroke="#111" stroke-width="0.9"/><path d="M-8.3,33.3 L8.3,33.3 L5.7,55.5 L-5.7,55.5Z" fill="url(#gRainbow)" stroke="#111" stroke-width="0.8"/><path d="M-8.0,5.6 L-5.2,1.9 L-3.7,3.3 L-0.9,0.0 L1.7,1.7 L3.9,0.4 L6.1,2.8 L8.3,6.7 L8.7,16.6 L8.7,33.3 L8.3,39.9 L5.5,48.6 L2.8,39.6 L0.0,47.3 L-2.8,38.7 L-5.5,49.5 L-8.3,38.0 L-8.7,33.3 L-8.7,16.6Z" fill="#0b0b0e" stroke="#0b0b0e" stroke-width="0.8" stroke-linejoin="round"/><path d="M-4.6,9.3 C-5.6,16.6 -6.6,27.8 -4.6,31.1" fill="none" stroke="#c02a55" stroke-width="1.0" stroke-linecap="round" opacity="0.75"/><path d="M-2.6,5.5 C-3.2,16.6 -3.3,27.8 -2.6,34.3" fill="none" stroke="#3b4fa0" stroke-width="0.7" stroke-linecap="round" opacity="0.75"/><path d="M-1.3,5.9 C-1.6,16.6 -2.1,27.8 -1.3,39.1" fill="none" stroke="#2b8a5a" stroke-width="0.8" stroke-linecap="round" opacity="0.75"/><path d="M0.7,6.1 C0.9,16.6 -0.1,27.8 0.7,35.5" fill="none" stroke="#5a4a9a" stroke-width="1.1" stroke-linecap="round" opacity="0.75"/><path d="M3.1,7.4 C3.8,16.6 4.7,27.8 3.1,33.7" fill="none" stroke="#c02a55" stroke-width="1.1" stroke-linecap="round" opacity="0.75"/><path d="M4.7,5.2 C5.7,16.6 6.1,27.8 4.7,42.9" fill="none" stroke="#3b4fa0" stroke-width="1.2" stroke-linecap="round" opacity="0.75"/><ellipse cx="-5.6" cy="70.9" rx="1.6" ry="2.7" fill="#fff" stroke="#222" stroke-width="0.6"/><ellipse cx="-5.6" cy="70.9" rx="0.8" ry="1.3" fill="#999"/><ellipse cx="5.6" cy="70.9" rx="1.6" ry="2.7" fill="#fff" stroke="#222" stroke-width="0.6"/><ellipse cx="5.6" cy="70.9" rx="0.8" ry="1.3" fill="#999"/></g>
<g transform="translate(152.9,267.5)"><path d="M-4.8,44.0 L4.8,44.0 C5.4,59.0 5.2,72.3 4.1,77.1 C2.4,81.5 -2.4,81.5 -4.1,77.1 C-5.2,72.3 -5.4,59.0 -4.8,44.0Z" fill="#fff200" stroke="#111" stroke-width="0.9"/><path d="M-6.6,28.2 L6.6,28.2 L5.1,47.0 L-5.1,47.0Z" fill="url(#gRainbow)" stroke="#111" stroke-width="0.8"/><path d="M-6.4,4.7 L-4.2,1.6 L-2.9,2.8 L-0.7,0.0 L1.4,1.4 L3.1,0.4 L4.9,2.4 L6.6,5.6 L7.0,14.1 L7.0,28.2 L6.6,33.1 L4.4,40.3 L2.2,32.7 L0.0,41.0 L-2.2,33.6 L-4.4,42.8 L-6.6,34.2 L-7.0,28.2 L-7.0,14.1Z" fill="#0b0b0e" stroke="#0b0b0e" stroke-width="0.8" stroke-linejoin="round"/><path d="M-3.9,5.1 C-4.7,14.1 -5.6,23.5 -3.9,29.8" fill="none" stroke="#c02a55" stroke-width="0.7" stroke-linecap="round" opacity="0.75"/><path d="M-2.0,4.3 C-2.4,14.1 -1.6,23.5 -2.0,31.4" fill="none" stroke="#3b4fa0" stroke-width="1.0" stroke-linecap="round" opacity="0.75"/><path d="M0.0,3.8 C0.1,14.1 -0.3,23.5 0.0,26.2" fill="none" stroke="#2b8a5a" stroke-width="0.8" stroke-linecap="round" opacity="0.75"/><path d="M2.0,8.5 C2.4,14.1 1.8,23.5 2.0,35.7" fill="none" stroke="#5a4a9a" stroke-width="1.1" stroke-linecap="round" opacity="0.75"/><path d="M4.2,6.8 C5.0,14.1 5.6,23.5 4.2,39.1" fill="none" stroke="#c02a55" stroke-width="1.1" stroke-linecap="round" opacity="0.75"/><ellipse cx="-5.0" cy="60.5" rx="1.6" ry="2.6" fill="#fff" stroke="#222" stroke-width="0.6"/><ellipse cx="-5.0" cy="60.5" rx="0.8" ry="1.3" fill="#999"/><ellipse cx="5.0" cy="60.5" rx="1.6" ry="2.6" fill="#fff" stroke="#222" stroke-width="0.6"/><ellipse cx="5.0" cy="60.5" rx="0.8" ry="1.3" fill="#999"/></g>
<g transform="translate(152.9,357.5)"><path d="M-4.8,44.0 L4.8,44.0 C5.4,59.0 5.2,72.3 4.1,77.1 C2.4,81.5 -2.4,81.5 -4.1,77.1 C-5.2,72.3 -5.4,59.0 -4.8,44.0Z" fill="#fff200" stroke="#111" stroke-width="0.9"/><path d="M-6.6,28.2 L6.6,28.2 L5.1,47.0 L-5.1,47.0Z" fill="url(#gRainbow)" stroke="#111" stroke-width="0.8"/><path d="M-6.4,4.7 L-4.2,1.6 L-2.9,2.8 L-0.7,0.0 L1.4,1.4 L3.1,0.4 L4.9,2.4 L6.6,5.6 L7.0,14.1 L7.0,28.2 L6.6,34.4 L4.4,41.3 L2.2,33.9 L0.0,41.3 L-2.2,33.3 L-4.4,40.3 L-6.6,33.3 L-7.0,28.2 L-7.0,14.1Z" fill="#0b0b0e" stroke="#0b0b0e" stroke-width="0.8" stroke-linejoin="round"/><path d="M-3.6,5.5 C-4.4,14.1 -4.1,23.5 -3.6,36.7" fill="none" stroke="#c02a55" stroke-width="0.7" stroke-linecap="round" opacity="0.75"/><path d="M-1.8,6.0 C-2.1,14.1 -3.1,23.5 -1.8,30.2" fill="none" stroke="#3b4fa0" stroke-width="1.1" stroke-linecap="round" opacity="0.75"/><path d="M-0.0,6.7 C-0.0,14.1 0.4,23.5 -0.0,38.7" fill="none" stroke="#2b8a5a" stroke-width="1.2" stroke-linecap="round" opacity="0.75"/><path d="M1.9,7.2 C2.3,14.1 3.2,23.5 1.9,32.3" fill="none" stroke="#5a4a9a" stroke-width="1.1" stroke-linecap="round" opacity="0.75"/><path d="M3.6,3.2 C4.4,14.1 5.3,23.5 3.6,29.0" fill="none" stroke="#c02a55" stroke-width="0.9" stroke-linecap="round" opacity="0.75"/><ellipse cx="-5.0" cy="60.5" rx="1.6" ry="2.6" fill="#fff" stroke="#222" stroke-width="0.6"/><ellipse cx="-5.0" cy="60.5" rx="0.8" ry="1.3" fill="#999"/><ellipse cx="5.0" cy="60.5" rx="1.6" ry="2.6" fill="#fff" stroke="#222" stroke-width="0.6"/><ellipse cx="5.0" cy="60.5" rx="0.8" ry="1.3" fill="#999"/></g>
<g transform="translate(152.9,450.0)"><path d="M-4.8,44.0 L4.8,44.0 C5.4,59.0 5.2,72.3 4.1,77.1 C2.4,81.5 -2.4,81.5 -4.1,77.1 C-5.2,72.3 -5.4,59.0 -4.8,44.0Z" fill="#fff200" stroke="#111" stroke-width="0.9"/><path d="M-6.6,28.2 L6.6,28.2 L5.1,47.0 L-5.1,47.0Z" fill="url(#gRainbow)" stroke="#111" stroke-width="0.8"/><path d="M-6.4,4.7 L-4.2,1.6 L-2.9,2.8 L-0.7,0.0 L1.4,1.4 L3.1,0.4 L4.9,2.4 L6.6,5.6 L7.0,14.1 L7.0,28.2 L6.6,33.0 L4.4,40.7 L2.2,31.9 L0.0,40.2 L-2.2,32.0 L-4.4,42.6 L-6.6,33.9 L-7.0,28.2 L-7.0,14.1Z" fill="#0b0b0e" stroke="#0b0b0e" stroke-width="0.8" stroke-linejoin="round"/><path d="M-3.7,7.2 C-4.5,14.1 -4.8,23.5 -3.7,28.7" fill="none" stroke="#c02a55" stroke-width="1.0" stroke-linecap="round" opacity="0.75"/><path d="M-1.8,7.6 C-2.2,14.1 -3.0,23.5 -1.8,38.7" fill="none" stroke="#3b4fa0" stroke-width="1.0" stroke-linecap="round" opacity="0.75"/><path d="M0.1,5.4 C0.2,14.1 0.1,23.5 0.1,28.4" fill="none" stroke="#2b8a5a" stroke-width="0.7" stroke-linecap="round" opacity="0.75"/><path d="M2.3,7.6 C2.8,14.1 2.4,23.5 2.3,33.8" fill="none" stroke="#5a4a9a" stroke-width="1.2" stroke-linecap="round" opacity="0.75"/><path d="M4.0,7.7 C4.8,14.1 4.8,23.5 4.0,38.2" fill="none" stroke="#c02a55" stroke-width="0.9" stroke-linecap="round" opacity="0.75"/><ellipse cx="-5.0" cy="60.5" rx="1.6" ry="2.6" fill="#fff" stroke="#222" stroke-width="0.6"/><ellipse cx="-5.0" cy="60.5" rx="0.8" ry="1.3" fill="#999"/><ellipse cx="5.0" cy="60.5" rx="1.6" ry="2.6" fill="#fff" stroke="#222" stroke-width="0.6"/><ellipse cx="5.0" cy="60.5" rx="0.8" ry="1.3" fill="#999"/></g>
<g transform="translate(152.9,546.5)"><path d="M-4.8,44.0 L4.8,44.0 C5.4,59.0 5.2,72.3 4.1,77.1 C2.4,81.5 -2.4,81.5 -4.1,77.1 C-5.2,72.3 -5.4,59.0 -4.8,44.0Z" fill="#fff200" stroke="#111" stroke-width="0.9"/><path d="M-6.6,28.2 L6.6,28.2 L5.1,47.0 L-5.1,47.0Z" fill="url(#gRainbow)" stroke="#111" stroke-width="0.8"/><path d="M-6.4,4.7 L-4.2,1.6 L-2.9,2.8 L-0.7,0.0 L1.4,1.4 L3.1,0.4 L4.9,2.4 L6.6,5.6 L7.0,14.1 L7.0,28.2 L6.6,34.1 L4.4,40.2 L2.2,32.8 L0.0,40.6 L-2.2,33.0 L-4.4,41.6 L-6.6,31.4 L-7.0,28.2 L-7.0,14.1Z" fill="#0b0b0e" stroke="#0b0b0e" stroke-width="0.8" stroke-linejoin="round"/><path d="M-4.1,4.1 C-5.0,14.1 -4.5,23.5 -4.1,39.2" fill="none" stroke="#c02a55" stroke-width="0.8" stroke-linecap="round" opacity="0.75"/><path d="M-1.7,3.2 C-2.1,14.1 -2.8,23.5 -1.7,34.8" fill="none" stroke="#3b4fa0" stroke-width="0.7" stroke-linecap="round" opacity="0.75"/><path d="M0.3,3.6 C0.4,14.1 1.3,23.5 0.3,29.0" fill="none" stroke="#2b8a5a" stroke-width="1.1" stroke-linecap="round" opacity="0.75"/><path d="M1.8,8.2 C2.2,14.1 2.5,23.5 1.8,33.7" fill="none" stroke="#5a4a9a" stroke-width="0.8" stroke-linecap="round" opacity="0.75"/><path d="M4.3,6.6 C5.2,14.1 6.0,23.5 4.3,39.9" fill="none" stroke="#c02a55" stroke-width="0.8" stroke-linecap="round" opacity="0.75"/><ellipse cx="-5.0" cy="60.5" rx="1.6" ry="2.6" fill="#fff" stroke="#222" stroke-width="0.6"/><ellipse cx="-5.0" cy="60.5" rx="0.8" ry="1.3" fill="#999"/><ellipse cx="5.0" cy="60.5" rx="1.6" ry="2.6" fill="#fff" stroke="#222" stroke-width="0.6"/><ellipse cx="5.0" cy="60.5" rx="0.8" ry="1.3" fill="#999"/></g>
<g transform="translate(102.6,357.5)"><path d="M-4.8,44.0 L4.8,44.0 C5.4,59.0 5.2,72.3 4.1,77.1 C2.4,81.5 -2.4,81.5 -4.1,77.1 C-5.2,72.3 -5.4,59.0 -4.8,44.0Z" fill="#fff200" stroke="#111" stroke-width="0.9"/><path d="M-6.6,28.2 L6.6,28.2 L5.1,47.0 L-5.1,47.0Z" fill="url(#gRainbow)" stroke="#111" stroke-width="0.8"/><path d="M-6.4,4.7 L-4.2,1.6 L-2.9,2.8 L-0.7,0.0 L1.4,1.4 L3.1,0.4 L4.9,2.4 L6.6,5.6 L7.0,14.1 L7.0,28.2 L6.6,32.2 L4.4,42.3 L2.2,33.6 L0.0,41.1 L-2.2,33.0 L-4.4,41.9 L-6.6,32.0 L-7.0,28.2 L-7.0,14.1Z" fill="#0b0b0e" stroke="#0b0b0e" stroke-width="0.8" stroke-linejoin="round"/><path d="M-3.9,7.3 C-4.7,14.1 -4.1,23.5 -3.9,29.7" fill="none" stroke="#c02a55" stroke-width="1.0" stroke-linecap="round" opacity="0.75"/><path d="M-1.7,4.4 C-2.1,14.1 -1.5,23.5 -1.7,27.2" fill="none" stroke="#3b4fa0" stroke-width="1.1" stroke-linecap="round" opacity="0.75"/><path d="M-0.0,2.9 C-0.1,14.1 0.2,23.5 -0.0,28.7" fill="none" stroke="#2b8a5a" stroke-width="0.8" stroke-linecap="round" opacity="0.75"/><path d="M2.3,5.9 C2.8,14.1 3.1,23.5 2.3,28.8" fill="none" stroke="#5a4a9a" stroke-width="0.9" stroke-linecap="round" opacity="0.75"/><path d="M4.3,7.9 C5.2,14.1 5.5,23.5 4.3,33.3" fill="none" stroke="#c02a55" stroke-width="1.0" stroke-linecap="round" opacity="0.75"/><ellipse cx="-5.0" cy="60.5" rx="1.6" ry="2.6" fill="#fff" stroke="#222" stroke-width="0.6"/><ellipse cx="-5.0" cy="60.5" rx="0.8" ry="1.3" fill="#999"/><ellipse cx="5.0" cy="60.5" rx="1.6" ry="2.6" fill="#fff" stroke="#222" stroke-width="0.6"/><ellipse cx="5.0" cy="60.5" rx="0.8" ry="1.3" fill="#999"/></g>
<g transform="translate(102.6,450.0)"><path d="M-4.8,44.0 L4.8,44.0 C5.4,59.0 5.2,72.3 4.1,77.1 C2.4,81.5 -2.4,81.5 -4.1,77.1 C-5.2,72.3 -5.4,59.0 -4.8,44.0Z" fill="#fff200" stroke="#111" stroke-width="0.9"/><path d="M-6.6,28.2 L6.6,28.2 L5.1,47.0 L-5.1,47.0Z" fill="url(#gRainbow)" stroke="#111" stroke-width="0.8"/><path d="M-6.4,4.7 L-4.2,1.6 L-2.9,2.8 L-0.7,0.0 L1.4,1.4 L3.1,0.4 L4.9,2.4 L6.6,5.6 L7.0,14.1 L7.0,28.2 L6.6,31.6 L4.4,40.1 L2.2,32.7 L0.0,42.3 L-2.2,31.8 L-4.4,40.5 L-6.6,33.3 L-7.0,28.2 L-7.0,14.1Z" fill="#0b0b0e" stroke="#0b0b0e" stroke-width="0.8" stroke-linejoin="round"/><path d="M-3.6,5.9 C-4.3,14.1 -3.4,23.5 -3.6,31.6" fill="none" stroke="#c02a55" stroke-width="0.7" stroke-linecap="round" opacity="0.75"/><path d="M-1.7,4.1 C-2.0,14.1 -2.8,23.5 -1.7,28.0" fill="none" stroke="#3b4fa0" stroke-width="0.9" stroke-linecap="round" opacity="0.75"/><path d="M0.2,3.5 C0.3,14.1 0.6,23.5 0.2,34.3" fill="none" stroke="#2b8a5a" stroke-width="0.9" stroke-linecap="round" opacity="0.75"/><path d="M2.0,2.7 C2.4,14.1 1.8,23.5 2.0,26.7" fill="none" stroke="#5a4a9a" stroke-width="1.0" stroke-linecap="round" opacity="0.75"/><path d="M3.9,4.3 C4.7,14.1 4.6,23.5 3.9,34.4" fill="none" stroke="#c02a55" stroke-width="0.8" stroke-linecap="round" opacity="0.75"/><ellipse cx="-5.0" cy="60.5" rx="1.6" ry="2.6" fill="#fff" stroke="#222" stroke-width="0.6"/><ellipse cx="-5.0" cy="60.5" rx="0.8" ry="1.3" fill="#999"/><ellipse cx="5.0" cy="60.5" rx="1.6" ry="2.6" fill="#fff" stroke="#222" stroke-width="0.6"/><ellipse cx="5.0" cy="60.5" rx="0.8" ry="1.3" fill="#999"/></g>
<g transform="translate(102.6,546.5)"><path d="M-4.8,44.0 L4.8,44.0 C5.4,59.0 5.2,72.3 4.1,77.1 C2.4,81.5 -2.4,81.5 -4.1,77.1 C-5.2,72.3 -5.4,59.0 -4.8,44.0Z" fill="#fff200" stroke="#111" stroke-width="0.9"/><path d="M-6.6,28.2 L6.6,28.2 L5.1,47.0 L-5.1,47.0Z" fill="url(#gRainbow)" stroke="#111" stroke-width="0.8"/><path d="M-6.4,4.7 L-4.2,1.6 L-2.9,2.8 L-0.7,0.0 L1.4,1.4 L3.1,0.4 L4.9,2.4 L6.6,5.6 L7.0,14.1 L7.0,28.2 L6.6,32.8 L4.4,41.3 L2.2,32.0 L0.0,42.4 L-2.2,31.7 L-4.4,40.6 L-6.6,31.5 L-7.0,28.2 L-7.0,14.1Z" fill="#0b0b0e" stroke="#0b0b0e" stroke-width="0.8" stroke-linejoin="round"/><path d="M-4.1,4.8 C-5.0,14.1 -5.2,23.5 -4.1,39.0" fill="none" stroke="#c02a55" stroke-width="0.8" stroke-linecap="round" opacity="0.75"/><path d="M-2.1,8.4 C-2.6,14.1 -2.4,23.5 -2.1,26.8" fill="none" stroke="#3b4fa0" stroke-width="0.9" stroke-linecap="round" opacity="0.75"/><path d="M0.1,4.4 C0.2,14.1 0.1,23.5 0.1,35.9" fill="none" stroke="#2b8a5a" stroke-width="1.0" stroke-linecap="round" opacity="0.75"/><path d="M2.3,5.9 C2.8,14.1 1.9,23.5 2.3,27.9" fill="none" stroke="#5a4a9a" stroke-width="1.2" stroke-linecap="round" opacity="0.75"/><path d="M3.9,3.5 C4.7,14.1 4.9,23.5 3.9,39.6" fill="none" stroke="#c02a55" stroke-width="1.1" stroke-linecap="round" opacity="0.75"/><ellipse cx="-5.0" cy="60.5" rx="1.6" ry="2.6" fill="#fff" stroke="#222" stroke-width="0.6"/><ellipse cx="-5.0" cy="60.5" rx="0.8" ry="1.3" fill="#999"/><ellipse cx="5.0" cy="60.5" rx="1.6" ry="2.6" fill="#fff" stroke="#222" stroke-width="0.6"/><ellipse cx="5.0" cy="60.5" rx="0.8" ry="1.3" fill="#999"/></g>
<g transform="translate(198.9,357.5)"><path d="M-4.8,44.0 L4.8,44.0 C5.4,59.0 5.2,72.3 4.1,77.1 C2.4,81.5 -2.4,81.5 -4.1,77.1 C-5.2,72.3 -5.4,59.0 -4.8,44.0Z" fill="#fff200" stroke="#111" stroke-width="0.9"/><path d="M-6.6,28.2 L6.6,28.2 L5.1,47.0 L-5.1,47.0Z" fill="url(#gRainbow)" stroke="#111" stroke-width="0.8"/><path d="M-6.4,4.7 L-4.2,1.6 L-2.9,2.8 L-0.7,0.0 L1.4,1.4 L3.1,0.4 L4.9,2.4 L6.6,5.6 L7.0,14.1 L7.0,28.2 L6.6,31.5 L4.4,41.0 L2.2,33.5 L0.0,41.2 L-2.2,33.6 L-4.4,40.3 L-6.6,32.1 L-7.0,28.2 L-7.0,14.1Z" fill="#0b0b0e" stroke="#0b0b0e" stroke-width="0.8" stroke-linejoin="round"/><path d="M-4.2,5.4 C-5.1,14.1 -4.9,23.5 -4.2,39.3" fill="none" stroke="#c02a55" stroke-width="1.1" stroke-linecap="round" opacity="0.75"/><path d="M-2.1,6.9 C-2.5,14.1 -2.9,23.5 -2.1,27.3" fill="none" stroke="#3b4fa0" stroke-width="1.0" stroke-linecap="round" opacity="0.75"/><path d="M0.2,4.9 C0.2,14.1 -0.3,23.5 0.2,27.1" fill="none" stroke="#2b8a5a" stroke-width="0.8" stroke-linecap="round" opacity="0.75"/><path d="M1.8,7.3 C2.2,14.1 2.9,23.5 1.8,28.8" fill="none" stroke="#5a4a9a" stroke-width="1.1" stroke-linecap="round" opacity="0.75"/><path d="M3.6,4.7 C4.3,14.1 3.4,23.5 3.6,33.0" fill="none" stroke="#c02a55" stroke-width="0.9" stroke-linecap="round" opacity="0.75"/><ellipse cx="-5.0" cy="60.5" rx="1.6" ry="2.6" fill="#fff" stroke="#222" stroke-width="0.6"/><ellipse cx="-5.0" cy="60.5" rx="0.8" ry="1.3" fill="#999"/><ellipse cx="5.0" cy="60.5" rx="1.6" ry="2.6" fill="#fff" stroke="#222" stroke-width="0.6"/><ellipse cx="5.0" cy="60.5" rx="0.8" ry="1.3" fill="#999"/></g>
<g transform="translate(198.9,450.0)"><path d="M-4.8,44.0 L4.8,44.0 C5.4,59.0 5.2,72.3 4.1,77.1 C2.4,81.5 -2.4,81.5 -4.1,77.1 C-5.2,72.3 -5.4,59.0 -4.8,44.0Z" fill="#fff200" stroke="#111" stroke-width="0.9"/><path d="M-6.6,28.2 L6.6,28.2 L5.1,47.0 L-5.1,47.0Z" fill="url(#gRainbow)" stroke="#111" stroke-width="0.8"/><path d="M-6.4,4.7 L-4.2,1.6 L-2.9,2.8 L-0.7,0.0 L1.4,1.4 L3.1,0.4 L4.9,2.4 L6.6,5.6 L7.0,14.1 L7.0,28.2 L6.6,32.1 L4.4,42.7 L2.2,34.4 L0.0,40.0 L-2.2,34.0 L-4.4,41.7 L-6.6,32.5 L-7.0,28.2 L-7.0,14.1Z" fill="#0b0b0e" stroke="#0b0b0e" stroke-width="0.8" stroke-linejoin="round"/><path d="M-4.1,6.5 C-5.0,14.1 -4.6,23.5 -4.1,32.5" fill="none" stroke="#c02a55" stroke-width="1.0" stroke-linecap="round" opacity="0.75"/><path d="M-2.2,7.0 C-2.7,14.1 -1.8,23.5 -2.2,40.2" fill="none" stroke="#3b4fa0" stroke-width="1.0" stroke-linecap="round" opacity="0.75"/><path d="M-0.4,2.4 C-0.4,14.1 0.4,23.5 -0.4,27.8" fill="none" stroke="#2b8a5a" stroke-width="0.9" stroke-linecap="round" opacity="0.75"/><path d="M1.9,7.8 C2.3,14.1 2.4,23.5 1.9,30.4" fill="none" stroke="#5a4a9a" stroke-width="0.9" stroke-linecap="round" opacity="0.75"/><path d="M3.6,5.9 C4.3,14.1 3.7,23.5 3.6,38.1" fill="none" stroke="#c02a55" stroke-width="0.8" stroke-linecap="round" opacity="0.75"/><ellipse cx="-5.0" cy="60.5" rx="1.6" ry="2.6" fill="#fff" stroke="#222" stroke-width="0.6"/><ellipse cx="-5.0" cy="60.5" rx="0.8" ry="1.3" fill="#999"/><ellipse cx="5.0" cy="60.5" rx="1.6" ry="2.6" fill="#fff" stroke="#222" stroke-width="0.6"/><ellipse cx="5.0" cy="60.5" rx="0.8" ry="1.3" fill="#999"/></g>
<g transform="translate(198.9,546.5)"><path d="M-4.8,44.0 L4.8,44.0 C5.4,59.0 5.2,72.3 4.1,77.1 C2.4,81.5 -2.4,81.5 -4.1,77.1 C-5.2,72.3 -5.4,59.0 -4.8,44.0Z" fill="#fff200" stroke="#111" stroke-width="0.9"/><path d="M-6.6,28.2 L6.6,28.2 L5.1,47.0 L-5.1,47.0Z" fill="url(#gRainbow)" stroke="#111" stroke-width="0.8"/><path d="M-6.4,4.7 L-4.2,1.6 L-2.9,2.8 L-0.7,0.0 L1.4,1.4 L3.1,0.4 L4.9,2.4 L6.6,5.6 L7.0,14.1 L7.0,28.2 L6.6,31.7 L4.4,40.8 L2.2,31.7 L0.0,42.3 L-2.2,33.5 L-4.4,40.0 L-6.6,34.3 L-7.0,28.2 L-7.0,14.1Z" fill="#0b0b0e" stroke="#0b0b0e" stroke-width="0.8" stroke-linejoin="round"/><path d="M-3.6,6.3 C-4.3,14.1 -5.0,23.5 -3.6,34.8" fill="none" stroke="#c02a55" stroke-width="0.7" stroke-linecap="round" opacity="0.75"/><path d="M-1.9,2.7 C-2.4,14.1 -2.9,23.5 -1.9,28.6" fill="none" stroke="#3b4fa0" stroke-width="0.7" stroke-linecap="round" opacity="0.75"/><path d="M-0.0,5.0 C-0.0,14.1 0.0,23.5 -0.0,38.1" fill="none" stroke="#2b8a5a" stroke-width="1.0" stroke-linecap="round" opacity="0.75"/><path d="M2.0,6.4 C2.4,14.1 1.9,23.5 2.0,32.5" fill="none" stroke="#5a4a9a" stroke-width="1.2" stroke-linecap="round" opacity="0.75"/><path d="M4.3,7.5 C5.2,14.1 4.9,23.5 4.3,36.2" fill="none" stroke="#c02a55" stroke-width="0.8" stroke-linecap="round" opacity="0.75"/><ellipse cx="-5.0" cy="60.5" rx="1.6" ry="2.6" fill="#fff" stroke="#222" stroke-width="0.6"/><ellipse cx="-5.0" cy="60.5" rx="0.8" ry="1.3" fill="#999"/><ellipse cx="5.0" cy="60.5" rx="1.6" ry="2.6" fill="#fff" stroke="#222" stroke-width="0.6"/><ellipse cx="5.0" cy="60.5" rx="0.8" ry="1.3" fill="#999"/></g>
<g transform="translate(53.9,450.0)"><path d="M-4.8,44.0 L4.8,44.0 C5.4,59.0 5.2,72.3 4.1,77.1 C2.4,81.5 -2.4,81.5 -4.1,77.1 C-5.2,72.3 -5.4,59.0 -4.8,44.0Z" fill="#fff200" stroke="#111" stroke-width="0.9"/><path d="M-6.6,28.2 L6.6,28.2 L5.1,47.0 L-5.1,47.0Z" fill="url(#gRainbow)" stroke="#111" stroke-width="0.8"/><path d="M-6.4,4.7 L-4.2,1.6 L-2.9,2.8 L-0.7,0.0 L1.4,1.4 L3.1,0.4 L4.9,2.4 L6.6,5.6 L7.0,14.1 L7.0,28.2 L6.6,33.1 L4.4,41.8 L2.2,31.8 L0.0,41.2 L-2.2,31.9 L-4.4,42.6 L-6.6,31.6 L-7.0,28.2 L-7.0,14.1Z" fill="#0b0b0e" stroke="#0b0b0e" stroke-width="0.8" stroke-linejoin="round"/><path d="M-3.7,2.8 C-4.5,14.1 -4.8,23.5 -3.7,35.9" fill="none" stroke="#c02a55" stroke-width="0.9" stroke-linecap="round" opacity="0.75"/><path d="M-1.7,2.5 C-2.1,14.1 -1.2,23.5 -1.7,26.7" fill="none" stroke="#3b4fa0" stroke-width="1.0" stroke-linecap="round" opacity="0.75"/><path d="M-0.3,8.4 C-0.4,14.1 -1.2,23.5 -0.3,39.6" fill="none" stroke="#2b8a5a" stroke-width="0.9" stroke-linecap="round" opacity="0.75"/><path d="M1.7,4.3 C2.0,14.1 1.4,23.5 1.7,34.9" fill="none" stroke="#5a4a9a" stroke-width="1.0" stroke-linecap="round" opacity="0.75"/><path d="M3.6,3.4 C4.3,14.1 4.1,23.5 3.6,37.7" fill="none" stroke="#c02a55" stroke-width="0.9" stroke-linecap="round" opacity="0.75"/><ellipse cx="-5.0" cy="60.5" rx="1.6" ry="2.6" fill="#fff" stroke="#222" stroke-width="0.6"/><ellipse cx="-5.0" cy="60.5" rx="0.8" ry="1.3" fill="#999"/><ellipse cx="5.0" cy="60.5" rx="1.6" ry="2.6" fill="#fff" stroke="#222" stroke-width="0.6"/><ellipse cx="5.0" cy="60.5" rx="0.8" ry="1.3" fill="#999"/></g>
<g transform="translate(53.9,546.5)"><path d="M-4.8,44.0 L4.8,44.0 C5.4,59.0 5.2,72.3 4.1,77.1 C2.4,81.5 -2.4,81.5 -4.1,77.1 C-5.2,72.3 -5.4,59.0 -4.8,44.0Z" fill="#fff200" stroke="#111" stroke-width="0.9"/><path d="M-6.6,28.2 L6.6,28.2 L5.1,47.0 L-5.1,47.0Z" fill="url(#gRainbow)" stroke="#111" stroke-width="0.8"/><path d="M-6.4,4.7 L-4.2,1.6 L-2.9,2.8 L-0.7,0.0 L1.4,1.4 L3.1,0.4 L4.9,2.4 L6.6,5.6 L7.0,14.1 L7.0,28.2 L6.6,33.0 L4.4,40.5 L2.2,32.3 L0.0,41.2 L-2.2,33.9 L-4.4,41.7 L-6.6,31.4 L-7.0,28.2 L-7.0,14.1Z" fill="#0b0b0e" stroke="#0b0b0e" stroke-width="0.8" stroke-linejoin="round"/><path d="M-4.1,3.2 C-5.0,14.1 -4.4,23.5 -4.1,38.5" fill="none" stroke="#c02a55" stroke-width="1.1" stroke-linecap="round" opacity="0.75"/><path d="M-1.7,6.9 C-2.1,14.1 -1.5,23.5 -1.7,39.7" fill="none" stroke="#3b4fa0" stroke-width="0.8" stroke-linecap="round" opacity="0.75"/><path d="M0.3,5.3 C0.3,14.1 0.5,23.5 0.3,36.9" fill="none" stroke="#2b8a5a" stroke-width="0.9" stroke-linecap="round" opacity="0.75"/><path d="M1.9,5.0 C2.3,14.1 1.5,23.5 1.9,30.4" fill="none" stroke="#5a4a9a" stroke-width="1.1" stroke-linecap="round" opacity="0.75"/><path d="M4.2,8.4 C5.0,14.1 5.2,23.5 4.2,35.9" fill="none" stroke="#c02a55" stroke-width="1.1" stroke-linecap="round" opacity="0.75"/><ellipse cx="-5.0" cy="60.5" rx="1.6" ry="2.6" fill="#fff" stroke="#222" stroke-width="0.6"/><ellipse cx="-5.0" cy="60.5" rx="0.8" ry="1.3" fill="#999"/><ellipse cx="5.0" cy="60.5" rx="1.6" ry="2.6" fill="#fff" stroke="#222" stroke-width="0.6"/><ellipse cx="5.0" cy="60.5" rx="0.8" ry="1.3" fill="#999"/></g>
<g transform="translate(247.7,450.0)"><path d="M-4.8,44.0 L4.8,44.0 C5.4,59.0 5.2,72.3 4.1,77.1 C2.4,81.5 -2.4,81.5 -4.1,77.1 C-5.2,72.3 -5.4,59.0 -4.8,44.0Z" fill="#fff200" stroke="#111" stroke-width="0.9"/><path d="M-6.6,28.2 L6.6,28.2 L5.1,47.0 L-5.1,47.0Z" fill="url(#gRainbow)" stroke="#111" stroke-width="0.8"/><path d="M-6.4,4.7 L-4.2,1.6 L-2.9,2.8 L-0.7,0.0 L1.4,1.4 L3.1,0.4 L4.9,2.4 L6.6,5.6 L7.0,14.1 L7.0,28.2 L6.6,32.6 L4.4,42.2 L2.2,31.8 L0.0,40.5 L-2.2,34.1 L-4.4,40.9 L-6.6,32.2 L-7.0,28.2 L-7.0,14.1Z" fill="#0b0b0e" stroke="#0b0b0e" stroke-width="0.8" stroke-linejoin="round"/><path d="M-3.7,6.2 C-4.5,14.1 -4.4,23.5 -3.7,28.0" fill="none" stroke="#c02a55" stroke-width="1.0" stroke-linecap="round" opacity="0.75"/><path d="M-2.2,6.3 C-2.7,14.1 -3.0,23.5 -2.2,27.6" fill="none" stroke="#3b4fa0" stroke-width="0.7" stroke-linecap="round" opacity="0.75"/><path d="M-0.2,8.3 C-0.3,14.1 0.7,23.5 -0.2,31.7" fill="none" stroke="#2b8a5a" stroke-width="0.9" stroke-linecap="round" opacity="0.75"/><path d="M2.0,7.7 C2.5,14.1 1.7,23.5 2.0,35.9" fill="none" stroke="#5a4a9a" stroke-width="1.0" stroke-linecap="round" opacity="0.75"/><path d="M4.0,3.5 C4.9,14.1 5.6,23.5 4.0,27.2" fill="none" stroke="#c02a55" stroke-width="1.0" stroke-linecap="round" opacity="0.75"/><ellipse cx="-5.0" cy="60.5" rx="1.6" ry="2.6" fill="#fff" stroke="#222" stroke-width="0.6"/><ellipse cx="-5.0" cy="60.5" rx="0.8" ry="1.3" fill="#999"/><ellipse cx="5.0" cy="60.5" rx="1.6" ry="2.6" fill="#fff" stroke="#222" stroke-width="0.6"/><ellipse cx="5.0" cy="60.5" rx="0.8" ry="1.3" fill="#999"/></g>
<g transform="translate(247.7,546.5)"><path d="M-4.8,44.0 L4.8,44.0 C5.4,59.0 5.2,72.3 4.1,77.1 C2.4,81.5 -2.4,81.5 -4.1,77.1 C-5.2,72.3 -5.4,59.0 -4.8,44.0Z" fill="#fff200" stroke="#111" stroke-width="0.9"/><path d="M-6.6,28.2 L6.6,28.2 L5.1,47.0 L-5.1,47.0Z" fill="url(#gRainbow)" stroke="#111" stroke-width="0.8"/><path d="M-6.4,4.7 L-4.2,1.6 L-2.9,2.8 L-0.7,0.0 L1.4,1.4 L3.1,0.4 L4.9,2.4 L6.6,5.6 L7.0,14.1 L7.0,28.2 L6.6,32.1 L4.4,40.9 L2.2,33.5 L0.0,40.7 L-2.2,32.2 L-4.4,40.5 L-6.6,34.0 L-7.0,28.2 L-7.0,14.1Z" fill="#0b0b0e" stroke="#0b0b0e" stroke-width="0.8" stroke-linejoin="round"/><path d="M-3.6,7.2 C-4.4,14.1 -3.6,23.5 -3.6,29.1" fill="none" stroke="#c02a55" stroke-width="1.0" stroke-linecap="round" opacity="0.75"/><path d="M-2.2,5.1 C-2.6,14.1 -3.5,23.5 -2.2,32.0" fill="none" stroke="#3b4fa0" stroke-width="1.0" stroke-linecap="round" opacity="0.75"/><path d="M-0.1,5.8 C-0.1,14.1 0.2,23.5 -0.1,39.4" fill="none" stroke="#2b8a5a" stroke-width="0.9" stroke-linecap="round" opacity="0.75"/><path d="M2.2,8.4 C2.7,14.1 3.6,23.5 2.2,33.0" fill="none" stroke="#5a4a9a" stroke-width="0.7" stroke-linecap="round" opacity="0.75"/><path d="M3.6,3.4 C4.4,14.1 4.8,23.5 3.6,39.5" fill="none" stroke="#c02a55" stroke-width="1.1" stroke-linecap="round" opacity="0.75"/><ellipse cx="-5.0" cy="60.5" rx="1.6" ry="2.6" fill="#fff" stroke="#222" stroke-width="0.6"/><ellipse cx="-5.0" cy="60.5" rx="0.8" ry="1.3" fill="#999"/><ellipse cx="5.0" cy="60.5" rx="1.6" ry="2.6" fill="#fff" stroke="#222" stroke-width="0.6"/><ellipse cx="5.0" cy="60.5" rx="0.8" ry="1.3" fill="#999"/></g>
<line x1="1394" y1="224" x2="1394" y2="665.5" stroke="#0b0b0b" stroke-width="2"/>
<line x1="1343.5" y1="400.5" x2="1343.5" y2="660.5" stroke="#0b0b0b" stroke-width="2"/>
<line x1="1440" y1="400.5" x2="1440" y2="660.5" stroke="#0b0b0b" stroke-width="2"/>
<line x1="1295" y1="493" x2="1295" y2="647.5" stroke="#0b0b0b" stroke-width="2"/>
<line x1="1489" y1="493" x2="1489" y2="647.5" stroke="#0b0b0b" stroke-width="2"/>
<path d="M1293.5,649.5 C1348.7,672.2 1435.3,672.2 1490.5,649.5" fill="none" stroke="#0b0b0b" stroke-width="3.0" stroke-linecap="round"/>
<circle cx="1295" cy="647.0" r="2.6" fill="#fff" stroke="#111" stroke-width="1"/>
<circle cx="1489" cy="647.0" r="2.6" fill="#fff" stroke="#111" stroke-width="1"/>
<circle cx="1343.5" cy="660.0" r="2.6" fill="#fff" stroke="#111" stroke-width="1"/>
<circle cx="1440" cy="660.0" r="2.6" fill="#fff" stroke="#111" stroke-width="1"/>
<circle cx="1394" cy="664.0" r="2.9" fill="#fff" stroke="#111" stroke-width="1"/>
<g transform="translate(1394.0,164.0)"><path d="M-5.4,52.5 L5.4,52.5 C6.0,69.5 5.8,84.7 4.6,90.1 C2.7,95.0 -2.7,95.0 -4.6,90.1 C-5.8,84.7 -6.0,69.5 -5.4,52.5Z" fill="#2eb26e" stroke="#111" stroke-width="0.9"/><path d="M-8.3,33.3 L8.3,33.3 L5.7,55.5 L-5.7,55.5Z" fill="#239a5f" stroke="#111" stroke-width="0.8"/><path d="M-8.0,5.6 L-5.2,1.9 L-3.7,3.3 L-0.9,0.0 L1.7,1.7 L3.9,0.4 L6.1,2.8 L8.3,6.7 L8.7,16.6 L8.7,33.3 L8.3,39.9 L5.5,48.6 L2.8,39.6 L0.0,47.3 L-2.8,38.7 L-5.5,49.5 L-8.3,38.0 L-8.7,33.3 L-8.7,16.6Z" fill="#0b0b0e" stroke="#0b0b0e" stroke-width="0.8" stroke-linejoin="round"/><path d="M-4.6,9.3 C-5.6,16.6 -6.6,27.8 -4.6,31.1" fill="none" stroke="#1f8a56" stroke-width="1.0" stroke-linecap="round" opacity="0.75"/><path d="M-2.6,5.5 C-3.2,16.6 -3.3,27.8 -2.6,34.3" fill="none" stroke="#2eb26e" stroke-width="0.7" stroke-linecap="round" opacity="0.75"/><path d="M-1.3,5.9 C-1.6,16.6 -2.1,27.8 -1.3,39.1" fill="none" stroke="#15643f" stroke-width="0.8" stroke-linecap="round" opacity="0.75"/><path d="M0.7,6.1 C0.9,16.6 -0.1,27.8 0.7,35.5" fill="none" stroke="#1f8a56" stroke-width="1.1" stroke-linecap="round" opacity="0.75"/><path d="M3.1,7.4 C3.8,16.6 4.7,27.8 3.1,33.7" fill="none" stroke="#2eb26e" stroke-width="1.1" stroke-linecap="round" opacity="0.75"/><path d="M4.7,5.2 C5.7,16.6 6.1,27.8 4.7,42.9" fill="none" stroke="#15643f" stroke-width="1.2" stroke-linecap="round" opacity="0.75"/><ellipse cx="-5.6" cy="70.9" rx="1.6" ry="2.7" fill="#fff" stroke="#222" stroke-width="0.6"/><ellipse cx="-5.6" cy="70.9" rx="0.8" ry="1.3" fill="#999"/><ellipse cx="5.6" cy="70.9" rx="1.6" ry="2.7" fill="#fff" stroke="#222" stroke-width="0.6"/><ellipse cx="5.6" cy="70.9" rx="0.8" ry="1.3" fill="#999"/></g>
<g transform="translate(1394.0,270.5)"><path d="M-4.8,44.0 L4.8,44.0 C5.4,59.0 5.2,72.3 4.1,77.1 C2.4,81.5 -2.4,81.5 -4.1,77.1 C-5.2,72.3 -5.4,59.0 -4.8,44.0Z" fill="#2eb26e" stroke="#111" stroke-width="0.9"/><path d="M-6.6,28.2 L6.6,28.2 L5.1,47.0 L-5.1,47.0Z" fill="#239a5f" stroke="#111" stroke-width="0.8"/><path d="M-6.4,4.7 L-4.2,1.6 L-2.9,2.8 L-0.7,0.0 L1.4,1.4 L3.1,0.4 L4.9,2.4 L6.6,5.6 L7.0,14.1 L7.0,28.2 L6.6,33.1 L4.4,40.3 L2.2,32.7 L0.0,41.0 L-2.2,33.6 L-4.4,42.8 L-6.6,34.2 L-7.0,28.2 L-7.0,14.1Z" fill="#0b0b0e" stroke="#0b0b0e" stroke-width="0.8" stroke-linejoin="round"/><path d="M-3.9,5.1 C-4.7,14.1 -5.6,23.5 -3.9,29.8" fill="none" stroke="#1f8a56" stroke-width="0.7" stroke-linecap="round" opacity="0.75"/><path d="M-2.0,4.3 C-2.4,14.1 -1.6,23.5 -2.0,31.4" fill="none" stroke="#2eb26e" stroke-width="1.0" stroke-linecap="round" opacity="0.75"/><path d="M0.0,3.8 C0.1,14.1 -0.3,23.5 0.0,26.2" fill="none" stroke="#15643f" stroke-width="0.8" stroke-linecap="round" opacity="0.75"/><path d="M2.0,8.5 C2.4,14.1 1.8,23.5 2.0,35.7" fill="none" stroke="#1f8a56" stroke-width="1.1" stroke-linecap="round" opacity="0.75"/><path d="M4.2,6.8 C5.0,14.1 5.6,23.5 4.2,39.1" fill="none" stroke="#2eb26e" stroke-width="1.1" stroke-linecap="round" opacity="0.75"/><ellipse cx="-5.0" cy="60.5" rx="1.6" ry="2.6" fill="#fff" stroke="#222" stroke-width="0.6"/><ellipse cx="-5.0" cy="60.5" rx="0.8" ry="1.3" fill="#999"/><ellipse cx="5.0" cy="60.5" rx="1.6" ry="2.6" fill="#fff" stroke="#222" stroke-width="0.6"/><ellipse cx="5.0" cy="60.5" rx="0.8" ry="1.3" fill="#999"/></g>
<g transform="translate(1394.0,360.5)"><path d="M-4.8,44.0 L4.8,44.0 C5.4,59.0 5.2,72.3 4.1,77.1 C2.4,81.5 -2.4,81.5 -4.1,77.1 C-5.2,72.3 -5.4,59.0 -4.8,44.0Z" fill="#2eb26e" stroke="#111" stroke-width="0.9"/><path d="M-6.6,28.2 L6.6,28.2 L5.1,47.0 L-5.1,47.0Z" fill="#239a5f" stroke="#111" stroke-width="0.8"/><path d="M-6.4,4.7 L-4.2,1.6 L-2.9,2.8 L-0.7,0.0 L1.4,1.4 L3.1,0.4 L4.9,2.4 L6.6,5.6 L7.0,14.1 L7.0,28.2 L6.6,34.4 L4.4,41.3 L2.2,33.9 L0.0,41.3 L-2.2,33.3 L-4.4,40.3 L-6.6,33.3 L-7.0,28.2 L-7.0,14.1Z" fill="#0b0b0e" stroke="#0b0b0e" stroke-width="0.8" stroke-linejoin="round"/><path d="M-3.6,5.5 C-4.4,14.1 -4.1,23.5 -3.6,36.7" fill="none" stroke="#1f8a56" stroke-width="0.7" stroke-linecap="round" opacity="0.75"/><path d="M-1.8,6.0 C-2.1,14.1 -3.1,23.5 -1.8,30.2" fill="none" stroke="#2eb26e" stroke-width="1.1" stroke-linecap="round" opacity="0.75"/><path d="M-0.0,6.7 C-0.0,14.1 0.4,23.5 -0.0,38.7" fill="none" stroke="#15643f" stroke-width="1.2" stroke-linecap="round" opacity="0.75"/><path d="M1.9,7.2 C2.3,14.1 3.2,23.5 1.9,32.3" fill="none" stroke="#1f8a56" stroke-width="1.1" stroke-linecap="round" opacity="0.75"/><path d="M3.6,3.2 C4.4,14.1 5.3,23.5 3.6,29.0" fill="none" stroke="#2eb26e" stroke-width="0.9" stroke-linecap="round" opacity="0.75"/><ellipse cx="-5.0" cy="60.5" rx="1.6" ry="2.6" fill="#fff" stroke="#222" stroke-width="0.6"/><ellipse cx="-5.0" cy="60.5" rx="0.8" ry="1.3" fill="#999"/><ellipse cx="5.0" cy="60.5" rx="1.6" ry="2.6" fill="#fff" stroke="#222" stroke-width="0.6"/><ellipse cx="5.0" cy="60.5" rx="0.8" ry="1.3" fill="#999"/></g>
<g transform="translate(1394.0,453.0)"><path d="M-4.8,44.0 L4.8,44.0 C5.4,59.0 5.2,72.3 4.1,77.1 C2.4,81.5 -2.4,81.5 -4.1,77.1 C-5.2,72.3 -5.4,59.0 -4.8,44.0Z" fill="#2eb26e" stroke="#111" stroke-width="0.9"/><path d="M-6.6,28.2 L6.6,28.2 L5.1,47.0 L-5.1,47.0Z" fill="#239a5f" stroke="#111" stroke-width="0.8"/><path d="M-6.4,4.7 L-4.2,1.6 L-2.9,2.8 L-0.7,0.0 L1.4,1.4 L3.1,0.4 L4.9,2.4 L6.6,5.6 L7.0,14.1 L7.0,28.2 L6.6,33.0 L4.4,40.7 L2.2,31.9 L0.0,40.2 L-2.2,32.0 L-4.4,42.6 L-6.6,33.9 L-7.0,28.2 L-7.0,14.1Z" fill="#0b0b0e" stroke="#0b0b0e" stroke-width="0.8" stroke-linejoin="round"/><path d="M-3.7,7.2 C-4.5,14.1 -4.8,23.5 -3.7,28.7" fill="none" stroke="#1f8a56" stroke-width="1.0" stroke-linecap="round" opacity="0.75"/><path d="M-1.8,7.6 C-2.2,14.1 -3.0,23.5 -1.8,38.7" fill="none" stroke="#2eb26e" stroke-width="1.0" stroke-linecap="round" opacity="0.75"/><path d="M0.1,5.4 C0.2,14.1 0.1,23.5 0.1,28.4" fill="none" stroke="#15643f" stroke-width="0.7" stroke-linecap="round" opacity="0.75"/><path d="M2.3,7.6 C2.8,14.1 2.4,23.5 2.3,33.8" fill="none" stroke="#1f8a56" stroke-width="1.2" stroke-linecap="round" opacity="0.75"/><path d="M4.0,7.7 C4.8,14.1 4.8,23.5 4.0,38.2" fill="none" stroke="#2eb26e" stroke-width="0.9" stroke-linecap="round" opacity="0.75"/><ellipse cx="-5.0" cy="60.5" rx="1.6" ry="2.6" fill="#fff" stroke="#222" stroke-width="0.6"/><ellipse cx="-5.0" cy="60.5" rx="0.8" ry="1.3" fill="#999"/><ellipse cx="5.0" cy="60.5" rx="1.6" ry="2.6" fill="#fff" stroke="#222" stroke-width="0.6"/><ellipse cx="5.0" cy="60.5" rx="0.8" ry="1.3" fill="#999"/></g>
<g transform="translate(1394.0,549.0)"><path d="M-4.8,44.0 L4.8,44.0 C5.4,59.0 5.2,72.3 4.1,77.1 C2.4,81.5 -2.4,81.5 -4.1,77.1 C-5.2,72.3 -5.4,59.0 -4.8,44.0Z" fill="#2eb26e" stroke="#111" stroke-width="0.9"/><path d="M-6.6,28.2 L6.6,28.2 L5.1,47.0 L-5.1,47.0Z" fill="#239a5f" stroke="#111" stroke-width="0.8"/><path d="M-6.4,4.7 L-4.2,1.6 L-2.9,2.8 L-0.7,0.0 L1.4,1.4 L3.1,0.4 L4.9,2.4 L6.6,5.6 L7.0,14.1 L7.0,28.2 L6.6,34.1 L4.4,40.2 L2.2,32.8 L0.0,40.6 L-2.2,33.0 L-4.4,41.6 L-6.6,31.4 L-7.0,28.2 L-7.0,14.1Z" fill="#0b0b0e" stroke="#0b0b0e" stroke-width="0.8" stroke-linejoin="round"/><path d="M-4.1,4.1 C-5.0,14.1 -4.5,23.5 -4.1,39.2" fill="none" stroke="#1f8a56" stroke-width="0.8" stroke-linecap="round" opacity="0.75"/><path d="M-1.7,3.2 C-2.1,14.1 -2.8,23.5 -1.7,34.8" fill="none" stroke="#2eb26e" stroke-width="0.7" stroke-linecap="round" opacity="0.75"/><path d="M0.3,3.6 C0.4,14.1 1.3,23.5 0.3,29.0" fill="none" stroke="#15643f" stroke-width="1.1" stroke-linecap="round" opacity="0.75"/><path d="M1.8,8.2 C2.2,14.1 2.5,23.5 1.8,33.7" fill="none" stroke="#1f8a56" stroke-width="0.8" stroke-linecap="round" opacity="0.75"/><path d="M4.3,6.6 C5.2,14.1 6.0,23.5 4.3,39.9" fill="none" stroke="#2eb26e" stroke-width="0.8" stroke-linecap="round" opacity="0.75"/><ellipse cx="-5.0" cy="60.5" rx="1.6" ry="2.6" fill="#fff" stroke="#222" stroke-width="0.6"/><ellipse cx="-5.0" cy="60.5" rx="0.8" ry="1.3" fill="#999"/><ellipse cx="5.0" cy="60.5" rx="1.6" ry="2.6" fill="#fff" stroke="#222" stroke-width="0.6"/><ellipse cx="5.0" cy="60.5" rx="0.8" ry="1.3" fill="#999"/></g>
<g transform="translate(1343.5,360.5)"><path d="M-4.8,44.0 L4.8,44.0 C5.4,59.0 5.2,72.3 4.1,77.1 C2.4,81.5 -2.4,81.5 -4.1,77.1 C-5.2,72.3 -5.4,59.0 -4.8,44.0Z" fill="#2eb26e" stroke="#111" stroke-width="0.9"/><path d="M-6.6,28.2 L6.6,28.2 L5.1,47.0 L-5.1,47.0Z" fill="#239a5f" stroke="#111" stroke-width="0.8"/><path d="M-6.4,4.7 L-4.2,1.6 L-2.9,2.8 L-0.7,0.0 L1.4,1.4 L3.1,0.4 L4.9,2.4 L6.6,5.6 L7.0,14.1 L7.0,28.2 L6.6,32.2 L4.4,42.3 L2.2,33.6 L0.0,41.1 L-2.2,33.0 L-4.4,41.9 L-6.6,32.0 L-7.0,28.2 L-7.0,14.1Z" fill="#0b0b0e" stroke="#0b0b0e" stroke-width="0.8" stroke-linejoin="round"/><path d="M-3.9,7.3 C-4.7,14.1 -4.1,23.5 -3.9,29.7" fill="none" stroke="#1f8a56" stroke-width="1.0" stroke-linecap="round" opacity="0.75"/><path d="M-1.7,4.4 C-2.1,14.1 -1.5,23.5 -1.7,27.2" fill="none" stroke="#2eb26e" stroke-width="1.1" stroke-linecap="round" opacity="0.75"/><path d="M-0.0,2.9 C-0.1,14.1 0.2,23.5 -0.0,28.7" fill="none" stroke="#15643f" stroke-width="0.8" stroke-linecap="round" opacity="0.75"/><path d="M2.3,5.9 C2.8,14.1 3.1,23.5 2.3,28.8" fill="none" stroke="#1f8a56" stroke-width="0.9" stroke-linecap="round" opacity="0.75"/><path d="M4.3,7.9 C5.2,14.1 5.5,23.5 4.3,33.3" fill="none" stroke="#2eb26e" stroke-width="1.0" stroke-linecap="round" opacity="0.75"/><ellipse cx="-5.0" cy="60.5" rx="1.6" ry="2.6" fill="#fff" stroke="#222" stroke-width="0.6"/><ellipse cx="-5.0" cy="60.5" rx="0.8" ry="1.3" fill="#999"/><ellipse cx="5.0" cy="60.5" rx="1.6" ry="2.6" fill="#fff" stroke="#222" stroke-width="0.6"/><ellipse cx="5.0" cy="60.5" rx="0.8" ry="1.3" fill="#999"/></g>
<g transform="translate(1343.5,453.0)"><path d="M-4.8,44.0 L4.8,44.0 C5.4,59.0 5.2,72.3 4.1,77.1 C2.4,81.5 -2.4,81.5 -4.1,77.1 C-5.2,72.3 -5.4,59.0 -4.8,44.0Z" fill="#2eb26e" stroke="#111" stroke-width="0.9"/><path d="M-6.6,28.2 L6.6,28.2 L5.1,47.0 L-5.1,47.0Z" fill="#239a5f" stroke="#111" stroke-width="0.8"/><path d="M-6.4,4.7 L-4.2,1.6 L-2.9,2.8 L-0.7,0.0 L1.4,1.4 L3.1,0.4 L4.9,2.4 L6.6,5.6 L7.0,14.1 L7.0,28.2 L6.6,31.6 L4.4,40.1 L2.2,32.7 L0.0,42.3 L-2.2,31.8 L-4.4,40.5 L-6.6,33.3 L-7.0,28.2 L-7.0,14.1Z" fill="#0b0b0e" stroke="#0b0b0e" stroke-width="0.8" stroke-linejoin="round"/><path d="M-3.6,5.9 C-4.3,14.1 -3.4,23.5 -3.6,31.6" fill="none" stroke="#1f8a56" stroke-width="0.7" stroke-linecap="round" opacity="0.75"/><path d="M-1.7,4.1 C-2.0,14.1 -2.8,23.5 -1.7,28.0" fill="none" stroke="#2eb26e" stroke-width="0.9" stroke-linecap="round" opacity="0.75"/><path d="M0.2,3.5 C0.3,14.1 0.6,23.5 0.2,34.3" fill="none" stroke="#15643f" stroke-width="0.9" stroke-linecap="round" opacity="0.75"/><path d="M2.0,2.7 C2.4,14.1 1.8,23.5 2.0,26.7" fill="none" stroke="#1f8a56" stroke-width="1.0" stroke-linecap="round" opacity="0.75"/><path d="M3.9,4.3 C4.7,14.1 4.6,23.5 3.9,34.4" fill="none" stroke="#2eb26e" stroke-width="0.8" stroke-linecap="round" opacity="0.75"/><ellipse cx="-5.0" cy="60.5" rx="1.6" ry="2.6" fill="#fff" stroke="#222" stroke-width="0.6"/><ellipse cx="-5.0" cy="60.5" rx="0.8" ry="1.3" fill="#999"/><ellipse cx="5.0" cy="60.5" rx="1.6" ry="2.6" fill="#fff" stroke="#222" stroke-width="0.6"/><ellipse cx="5.0" cy="60.5" rx="0.8" ry="1.3" fill="#999"/></g>
<g transform="translate(1343.5,549.0)"><path d="M-4.8,44.0 L4.8,44.0 C5.4,59.0 5.2,72.3 4.1,77.1 C2.4,81.5 -2.4,81.5 -4.1,77.1 C-5.2,72.3 -5.4,59.0 -4.8,44.0Z" fill="#2eb26e" stroke="#111" stroke-width="0.9"/><path d="M-6.6,28.2 L6.6,28.2 L5.1,47.0 L-5.1,47.0Z" fill="#239a5f" stroke="#111" stroke-width="0.8"/><path d="M-6.4,4.7 L-4.2,1.6 L-2.9,2.8 L-0.7,0.0 L1.4,1.4 L3.1,0.4 L4.9,2.4 L6.6,5.6 L7.0,14.1 L7.0,28.2 L6.6,32.8 L4.4,41.3 L2.2,32.0 L0.0,42.4 L-2.2,31.7 L-4.4,40.6 L-6.6,31.5 L-7.0,28.2 L-7.0,14.1Z" fill="#0b0b0e" stroke="#0b0b0e" stroke-width="0.8" stroke-linejoin="round"/><path d="M-4.1,4.8 C-5.0,14.1 -5.2,23.5 -4.1,39.0" fill="none" stroke="#1f8a56" stroke-width="0.8" stroke-linecap="round" opacity="0.75"/><path d="M-2.1,8.4 C-2.6,14.1 -2.4,23.5 -2.1,26.8" fill="none" stroke="#2eb26e" stroke-width="0.9" stroke-linecap="round" opacity="0.75"/><path d="M0.1,4.4 C0.2,14.1 0.1,23.5 0.1,35.9" fill="none" stroke="#15643f" stroke-width="1.0" stroke-linecap="round" opacity="0.75"/><path d="M2.3,5.9 C2.8,14.1 1.9,23.5 2.3,27.9" fill="none" stroke="#1f8a56" stroke-width="1.2" stroke-linecap="round" opacity="0.75"/><path d="M3.9,3.5 C4.7,14.1 4.9,23.5 3.9,39.6" fill="none" stroke="#2eb26e" stroke-width="1.1" stroke-linecap="round" opacity="0.75"/><ellipse cx="-5.0" cy="60.5" rx="1.6" ry="2.6" fill="#fff" stroke="#222" stroke-width="0.6"/><ellipse cx="-5.0" cy="60.5" rx="0.8" ry="1.3" fill="#999"/><ellipse cx="5.0" cy="60.5" rx="1.6" ry="2.6" fill="#fff" stroke="#222" stroke-width="0.6"/><ellipse cx="5.0" cy="60.5" rx="0.8" ry="1.3" fill="#999"/></g>
<g transform="translate(1440.0,360.5)"><path d="M-4.8,44.0 L4.8,44.0 C5.4,59.0 5.2,72.3 4.1,77.1 C2.4,81.5 -2.4,81.5 -4.1,77.1 C-5.2,72.3 -5.4,59.0 -4.8,44.0Z" fill="#2eb26e" stroke="#111" stroke-width="0.9"/><path d="M-6.6,28.2 L6.6,28.2 L5.1,47.0 L-5.1,47.0Z" fill="#239a5f" stroke="#111" stroke-width="0.8"/><path d="M-6.4,4.7 L-4.2,1.6 L-2.9,2.8 L-0.7,0.0 L1.4,1.4 L3.1,0.4 L4.9,2.4 L6.6,5.6 L7.0,14.1 L7.0,28.2 L6.6,31.5 L4.4,41.0 L2.2,33.5 L0.0,41.2 L-2.2,33.6 L-4.4,40.3 L-6.6,32.1 L-7.0,28.2 L-7.0,14.1Z" fill="#0b0b0e" stroke="#0b0b0e" stroke-width="0.8" stroke-linejoin="round"/><path d="M-4.2,5.4 C-5.1,14.1 -4.9,23.5 -4.2,39.3" fill="none" stroke="#1f8a56" stroke-width="1.1" stroke-linecap="round" opacity="0.75"/><path d="M-2.1,6.9 C-2.5,14.1 -2.9,23.5 -2.1,27.3" fill="none" stroke="#2eb26e" stroke-width="1.0" stroke-linecap="round" opacity="0.75"/><path d="M0.2,4.9 C0.2,14.1 -0.3,23.5 0.2,27.1" fill="none" stroke="#15643f" stroke-width="0.8" stroke-linecap="round" opacity="0.75"/><path d="M1.8,7.3 C2.2,14.1 2.9,23.5 1.8,28.8" fill="none" stroke="#1f8a56" stroke-width="1.1" stroke-linecap="round" opacity="0.75"/><path d="M3.6,4.7 C4.3,14.1 3.4,23.5 3.6,33.0" fill="none" stroke="#2eb26e" stroke-width="0.9" stroke-linecap="round" opacity="0.75"/><ellipse cx="-5.0" cy="60.5" rx="1.6" ry="2.6" fill="#fff" stroke="#222" stroke-width="0.6"/><ellipse cx="-5.0" cy="60.5" rx="0.8" ry="1.3" fill="#999"/><ellipse cx="5.0" cy="60.5" rx="1.6" ry="2.6" fill="#fff" stroke="#222" stroke-width="0.6"/><ellipse cx="5.0" cy="60.5" rx="0.8" ry="1.3" fill="#999"/></g>
<g transform="translate(1440.0,453.0)"><path d="M-4.8,44.0 L4.8,44.0 C5.4,59.0 5.2,72.3 4.1,77.1 C2.4,81.5 -2.4,81.5 -4.1,77.1 C-5.2,72.3 -5.4,59.0 -4.8,44.0Z" fill="#2eb26e" stroke="#111" stroke-width="0.9"/><path d="M-6.6,28.2 L6.6,28.2 L5.1,47.0 L-5.1,47.0Z" fill="#239a5f" stroke="#111" stroke-width="0.8"/><path d="M-6.4,4.7 L-4.2,1.6 L-2.9,2.8 L-0.7,0.0 L1.4,1.4 L3.1,0.4 L4.9,2.4 L6.6,5.6 L7.0,14.1 L7.0,28.2 L6.6,32.1 L4.4,42.7 L2.2,34.4 L0.0,40.0 L-2.2,34.0 L-4.4,41.7 L-6.6,32.5 L-7.0,28.2 L-7.0,14.1Z" fill="#0b0b0e" stroke="#0b0b0e" stroke-width="0.8" stroke-linejoin="round"/><path d="M-4.1,6.5 C-5.0,14.1 -4.6,23.5 -4.1,32.5" fill="none" stroke="#1f8a56" stroke-width="1.0" stroke-linecap="round" opacity="0.75"/><path d="M-2.2,7.0 C-2.7,14.1 -1.8,23.5 -2.2,40.2" fill="none" stroke="#2eb26e" stroke-width="1.0" stroke-linecap="round" opacity="0.75"/><path d="M-0.4,2.4 C-0.4,14.1 0.4,23.5 -0.4,27.8" fill="none" stroke="#15643f" stroke-width="0.9" stroke-linecap="round" opacity="0.75"/><path d="M1.9,7.8 C2.3,14.1 2.4,23.5 1.9,30.4" fill="none" stroke="#1f8a56" stroke-width="0.9" stroke-linecap="round" opacity="0.75"/><path d="M3.6,5.9 C4.3,14.1 3.7,23.5 3.6,38.1" fill="none" stroke="#2eb26e" stroke-width="0.8" stroke-linecap="round" opacity="0.75"/><ellipse cx="-5.0" cy="60.5" rx="1.6" ry="2.6" fill="#fff" stroke="#222" stroke-width="0.6"/><ellipse cx="-5.0" cy="60.5" rx="0.8" ry="1.3" fill="#999"/><ellipse cx="5.0" cy="60.5" rx="1.6" ry="2.6" fill="#fff" stroke="#222" stroke-width="0.6"/><ellipse cx="5.0" cy="60.5" rx="0.8" ry="1.3" fill="#999"/></g>
<g transform="translate(1440.0,549.0)"><path d="M-4.8,44.0 L4.8,44.0 C5.4,59.0 5.2,72.3 4.1,77.1 C2.4,81.5 -2.4,81.5 -4.1,77.1 C-5.2,72.3 -5.4,59.0 -4.8,44.0Z" fill="#2eb26e" stroke="#111" stroke-width="0.9"/><path d="M-6.6,28.2 L6.6,28.2 L5.1,47.0 L-5.1,47.0Z" fill="#239a5f" stroke="#111" stroke-width="0.8"/><path d="M-6.4,4.7 L-4.2,1.6 L-2.9,2.8 L-0.7,0.0 L1.4,1.4 L3.1,0.4 L4.9,2.4 L6.6,5.6 L7.0,14.1 L7.0,28.2 L6.6,31.7 L4.4,40.8 L2.2,31.7 L0.0,42.3 L-2.2,33.5 L-4.4,40.0 L-6.6,34.3 L-7.0,28.2 L-7.0,14.1Z" fill="#0b0b0e" stroke="#0b0b0e" stroke-width="0.8" stroke-linejoin="round"/><path d="M-3.6,6.3 C-4.3,14.1 -5.0,23.5 -3.6,34.8" fill="none" stroke="#1f8a56" stroke-width="0.7" stroke-linecap="round" opacity="0.75"/><path d="M-1.9,2.7 C-2.4,14.1 -2.9,23.5 -1.9,28.6" fill="none" stroke="#2eb26e" stroke-width="0.7" stroke-linecap="round" opacity="0.75"/><path d="M-0.0,5.0 C-0.0,14.1 0.0,23.5 -0.0,38.1" fill="none" stroke="#15643f" stroke-width="1.0" stroke-linecap="round" opacity="0.75"/><path d="M2.0,6.4 C2.4,14.1 1.9,23.5 2.0,32.5" fill="none" stroke="#1f8a56" stroke-width="1.2" stroke-linecap="round" opacity="0.75"/><path d="M4.3,7.5 C5.2,14.1 4.9,23.5 4.3,36.2" fill="none" stroke="#2eb26e" stroke-width="0.8" stroke-linecap="round" opacity="0.75"/><ellipse cx="-5.0" cy="60.5" rx="1.6" ry="2.6" fill="#fff" stroke="#222" stroke-width="0.6"/><ellipse cx="-5.0" cy="60.5" rx="0.8" ry="1.3" fill="#999"/><ellipse cx="5.0" cy="60.5" rx="1.6" ry="2.6" fill="#fff" stroke="#222" stroke-width="0.6"/><ellipse cx="5.0" cy="60.5" rx="0.8" ry="1.3" fill="#999"/></g>
<g transform="translate(1295.0,453.0)"><path d="M-4.8,44.0 L4.8,44.0 C5.4,59.0 5.2,72.3 4.1,77.1 C2.4,81.5 -2.4,81.5 -4.1,77.1 C-5.2,72.3 -5.4,59.0 -4.8,44.0Z" fill="#2eb26e" stroke="#111" stroke-width="0.9"/><path d="M-6.6,28.2 L6.6,28.2 L5.1,47.0 L-5.1,47.0Z" fill="#239a5f" stroke="#111" stroke-width="0.8"/><path d="M-6.4,4.7 L-4.2,1.6 L-2.9,2.8 L-0.7,0.0 L1.4,1.4 L3.1,0.4 L4.9,2.4 L6.6,5.6 L7.0,14.1 L7.0,28.2 L6.6,33.1 L4.4,41.8 L2.2,31.8 L0.0,41.2 L-2.2,31.9 L-4.4,42.6 L-6.6,31.6 L-7.0,28.2 L-7.0,14.1Z" fill="#0b0b0e" stroke="#0b0b0e" stroke-width="0.8" stroke-linejoin="round"/><path d="M-3.7,2.8 C-4.5,14.1 -4.8,23.5 -3.7,35.9" fill="none" stroke="#1f8a56" stroke-width="0.9" stroke-linecap="round" opacity="0.75"/><path d="M-1.7,2.5 C-2.1,14.1 -1.2,23.5 -1.7,26.7" fill="none" stroke="#2eb26e" stroke-width="1.0" stroke-linecap="round" opacity="0.75"/><path d="M-0.3,8.4 C-0.4,14.1 -1.2,23.5 -0.3,39.6" fill="none" stroke="#15643f" stroke-width="0.9" stroke-linecap="round" opacity="0.75"/><path d="M1.7,4.3 C2.0,14.1 1.4,23.5 1.7,34.9" fill="none" stroke="#1f8a56" stroke-width="1.0" stroke-linecap="round" opacity="0.75"/><path d="M3.6,3.4 C4.3,14.1 4.1,23.5 3.6,37.7" fill="none" stroke="#2eb26e" stroke-width="0.9" stroke-linecap="round" opacity="0.75"/><ellipse cx="-5.0" cy="60.5" rx="1.6" ry="2.6" fill="#fff" stroke="#222" stroke-width="0.6"/><ellipse cx="-5.0" cy="60.5" rx="0.8" ry="1.3" fill="#999"/><ellipse cx="5.0" cy="60.5" rx="1.6" ry="2.6" fill="#fff" stroke="#222" stroke-width="0.6"/><ellipse cx="5.0" cy="60.5" rx="0.8" ry="1.3" fill="#999"/></g>
<g transform="translate(1295.0,549.0)"><path d="M-4.8,44.0 L4.8,44.0 C5.4,59.0 5.2,72.3 4.1,77.1 C2.4,81.5 -2.4,81.5 -4.1,77.1 C-5.2,72.3 -5.4,59.0 -4.8,44.0Z" fill="#2eb26e" stroke="#111" stroke-width="0.9"/><path d="M-6.6,28.2 L6.6,28.2 L5.1,47.0 L-5.1,47.0Z" fill="#239a5f" stroke="#111" stroke-width="0.8"/><path d="M-6.4,4.7 L-4.2,1.6 L-2.9,2.8 L-0.7,0.0 L1.4,1.4 L3.1,0.4 L4.9,2.4 L6.6,5.6 L7.0,14.1 L7.0,28.2 L6.6,33.0 L4.4,40.5 L2.2,32.3 L0.0,41.2 L-2.2,33.9 L-4.4,41.7 L-6.6,31.4 L-7.0,28.2 L-7.0,14.1Z" fill="#0b0b0e" stroke="#0b0b0e" stroke-width="0.8" stroke-linejoin="round"/><path d="M-4.1,3.2 C-5.0,14.1 -4.4,23.5 -4.1,38.5" fill="none" stroke="#1f8a56" stroke-width="1.1" stroke-linecap="round" opacity="0.75"/><path d="M-1.7,6.9 C-2.1,14.1 -1.5,23.5 -1.7,39.7" fill="none" stroke="#2eb26e" stroke-width="0.8" stroke-linecap="round" opacity="0.75"/><path d="M0.3,5.3 C0.3,14.1 0.5,23.5 0.3,36.9" fill="none" stroke="#15643f" stroke-width="0.9" stroke-linecap="round" opacity="0.75"/><path d="M1.9,5.0 C2.3,14.1 1.5,23.5 1.9,30.4" fill="none" stroke="#1f8a56" stroke-width="1.1" stroke-linecap="round" opacity="0.75"/><path d="M4.2,8.4 C5.0,14.1 5.2,23.5 4.2,35.9" fill="none" stroke="#2eb26e" stroke-width="1.1" stroke-linecap="round" opacity="0.75"/><ellipse cx="-5.0" cy="60.5" rx="1.6" ry="2.6" fill="#fff" stroke="#222" stroke-width="0.6"/><ellipse cx="-5.0" cy="60.5" rx="0.8" ry="1.3" fill="#999"/><ellipse cx="5.0" cy="60.5" rx="1.6" ry="2.6" fill="#fff" stroke="#222" stroke-width="0.6"/><ellipse cx="5.0" cy="60.5" rx="0.8" ry="1.3" fill="#999"/></g>
<g transform="translate(1489.0,453.0)"><path d="M-4.8,44.0 L4.8,44.0 C5.4,59.0 5.2,72.3 4.1,77.1 C2.4,81.5 -2.4,81.5 -4.1,77.1 C-5.2,72.3 -5.4,59.0 -4.8,44.0Z" fill="#2eb26e" stroke="#111" stroke-width="0.9"/><path d="M-6.6,28.2 L6.6,28.2 L5.1,47.0 L-5.1,47.0Z" fill="#239a5f" stroke="#111" stroke-width="0.8"/><path d="M-6.4,4.7 L-4.2,1.6 L-2.9,2.8 L-0.7,0.0 L1.4,1.4 L3.1,0.4 L4.9,2.4 L6.6,5.6 L7.0,14.1 L7.0,28.2 L6.6,32.6 L4.4,42.2 L2.2,31.8 L0.0,40.5 L-2.2,34.1 L-4.4,40.9 L-6.6,32.2 L-7.0,28.2 L-7.0,14.1Z" fill="#0b0b0e" stroke="#0b0b0e" stroke-width="0.8" stroke-linejoin="round"/><path d="M-3.7,6.2 C-4.5,14.1 -4.4,23.5 -3.7,28.0" fill="none" stroke="#1f8a56" stroke-width="1.0" stroke-linecap="round" opacity="0.75"/><path d="M-2.2,6.3 C-2.7,14.1 -3.0,23.5 -2.2,27.6" fill="none" stroke="#2eb26e" stroke-width="0.7" stroke-linecap="round" opacity="0.75"/><path d="M-0.2,8.3 C-0.3,14.1 0.7,23.5 -0.2,31.7" fill="none" stroke="#15643f" stroke-width="0.9" stroke-linecap="round" opacity="0.75"/><path d="M2.0,7.7 C2.5,14.1 1.7,23.5 2.0,35.9" fill="none" stroke="#1f8a56" stroke-width="1.0" stroke-linecap="round" opacity="0.75"/><path d="M4.0,3.5 C4.9,14.1 5.6,23.5 4.0,27.2" fill="none" stroke="#2eb26e" stroke-width="1.0" stroke-linecap="round" opacity="0.75"/><ellipse cx="-5.0" cy="60.5" rx="1.6" ry="2.6" fill="#fff" stroke="#222" stroke-width="0.6"/><ellipse cx="-5.0" cy="60.5" rx="0.8" ry="1.3" fill="#999"/><ellipse cx="5.0" cy="60.5" rx="1.6" ry="2.6" fill="#fff" stroke="#222" stroke-width="0.6"/><ellipse cx="5.0" cy="60.5" rx="0.8" ry="1.3" fill="#999"/></g>
<g transform="translate(1489.0,549.0)"><path d="M-4.8,44.0 L4.8,44.0 C5.4,59.0 5.2,72.3 4.1,77.1 C2.4,81.5 -2.4,81.5 -4.1,77.1 C-5.2,72.3 -5.4,59.0 -4.8,44.0Z" fill="#2eb26e" stroke="#111" stroke-width="0.9"/><path d="M-6.6,28.2 L6.6,28.2 L5.1,47.0 L-5.1,47.0Z" fill="#239a5f" stroke="#111" stroke-width="0.8"/><path d="M-6.4,4.7 L-4.2,1.6 L-2.9,2.8 L-0.7,0.0 L1.4,1.4 L3.1,0.4 L4.9,2.4 L6.6,5.6 L7.0,14.1 L7.0,28.2 L6.6,32.1 L4.4,40.9 L2.2,33.5 L0.0,40.7 L-2.2,32.2 L-4.4,40.5 L-6.6,34.0 L-7.0,28.2 L-7.0,14.1Z" fill="#0b0b0e" stroke="#0b0b0e" stroke-width="0.8" stroke-linejoin="round"/><path d="M-3.6,7.2 C-4.4,14.1 -3.6,23.5 -3.6,29.1" fill="none" stroke="#1f8a56" stroke-width="1.0" stroke-linecap="round" opacity="0.75"/><path d="M-2.2,5.1 C-2.6,14.1 -3.5,23.5 -2.2,32.0" fill="none" stroke="#2eb26e" stroke-width="1.0" stroke-linecap="round" opacity="0.75"/><path d="M-0.1,5.8 C-0.1,14.1 0.2,23.5 -0.1,39.4" fill="none" stroke="#15643f" stroke-width="0.9" stroke-linecap="round" opacity="0.75"/><path d="M2.2,8.4 C2.7,14.1 3.6,23.5 2.2,33.0" fill="none" stroke="#1f8a56" stroke-width="0.7" stroke-linecap="round" opacity="0.75"/><path d="M3.6,3.4 C4.4,14.1 4.8,23.5 3.6,39.5" fill="none" stroke="#2eb26e" stroke-width="1.1" stroke-linecap="round" opacity="0.75"/><ellipse cx="-5.0" cy="60.5" rx="1.6" ry="2.6" fill="#fff" stroke="#222" stroke-width="0.6"/><ellipse cx="-5.0" cy="60.5" rx="0.8" ry="1.3" fill="#999"/><ellipse cx="5.0" cy="60.5" rx="1.6" ry="2.6" fill="#fff" stroke="#222" stroke-width="0.6"/><ellipse cx="5.0" cy="60.5" rx="0.8" ry="1.3" fill="#999"/></g>
<line x1="775.4" y1="60" x2="775.4" y2="575" stroke="#0b0b0b" stroke-width="3"/>
<line x1="675.8" y1="350" x2="675.8" y2="591" stroke="#0b0b0b" stroke-width="2.4"/>
<line x1="870.6" y1="350" x2="870.6" y2="591" stroke="#0b0b0b" stroke-width="2.4"/>
<path d="M674.8,594 C729.9,616.7 816.5,616.7 871.6,594" fill="none" stroke="#0b0b0b" stroke-width="3.0" stroke-linecap="round"/>
<circle cx="675.8" cy="592" r="2.6" fill="#fff" stroke="#111" stroke-width="1"/>
<circle cx="870.6" cy="592" r="2.6" fill="#fff" stroke="#111" stroke-width="1"/>
<g transform="translate(775.4,6.0)"><path d="M-7.5,69.0 L7.5,69.0 C8.1,102.6 7.9,138.8 6.4,146.2 C3.8,153.0 -3.8,153.0 -6.4,146.2 C-7.9,138.8 -8.1,102.6 -7.5,69.0Z" fill="#2eb26e" stroke="#111" stroke-width="0.9"/><path d="M-9.8,7.2 L-6.4,2.5 L-4.5,4.3 L-1.1,0.0 L2.1,2.2 L4.8,0.4 L7.5,3.6 L10.1,8.6 L10.7,21.6 L10.7,44.6 L9.1,59.0 L8.3,72.0 L7.8,80.6 L6.8,63.1 L6.0,75.4 L3.8,60.7 L3.0,71.2 L0.8,66.0 L0.0,73.9 L-2.2,61.2 L-3.0,71.6 L-5.2,65.5 L-6.0,72.3 L-7.8,80.6 L-8.3,72.0 L-9.1,59.0 L-10.7,44.6 L-10.7,21.6Z" fill="#15764a" stroke="#0b0b0b" stroke-width="1.0" stroke-linejoin="round"/><path d="M-8.1,7.9 C-9.6,21.6 -10.5,43.2 -6.1,66.8" fill="none" stroke="#0b0b0b" stroke-width="2.0" stroke-linecap="round"/><path d="M-4.9,8.4 C-5.9,21.6 -6.6,43.2 -3.7,66.3" fill="none" stroke="#0b0b0b" stroke-width="1.4" stroke-linecap="round"/><path d="M-1.6,2.5 C-1.9,21.6 -1.9,43.2 -1.2,69.6" fill="none" stroke="#0b0b0b" stroke-width="2.3" stroke-linecap="round"/><path d="M-0.7,7.8 C-0.8,21.6 0.0,43.2 -0.5,62.1" fill="none" stroke="#0b0b0b" stroke-width="2.1" stroke-linecap="round"/><path d="M2.0,2.5 C2.3,21.6 1.5,43.2 1.5,62.0" fill="none" stroke="#0b0b0b" stroke-width="2.2" stroke-linecap="round"/><path d="M4.8,8.6 C5.7,21.6 6.6,43.2 3.6,60.6" fill="none" stroke="#0b0b0b" stroke-width="1.8" stroke-linecap="round"/><path d="M6.6,5.6 C7.8,21.6 8.1,43.2 4.9,66.0" fill="none" stroke="#0b0b0b" stroke-width="1.4" stroke-linecap="round"/><path d="M-6.1,4.7 C-7.4,21.6 -7.5,36.0 -6.1,58.4" fill="none" stroke="#12663f" stroke-width="1.0" stroke-linecap="round" opacity="1"/><path d="M-3.2,12.4 C-3.8,21.6 -3.0,36.0 -3.2,47.0" fill="none" stroke="#1f8a56" stroke-width="1.1" stroke-linecap="round" opacity="1"/><path d="M-1.2,9.0 C-1.5,21.6 -2.3,36.0 -1.2,57.2" fill="none" stroke="#2eb26e" stroke-width="0.9" stroke-linecap="round" opacity="1"/><path d="M0.8,7.2 C1.0,21.6 1.4,36.0 0.8,57.4" fill="none" stroke="#1f8a56" stroke-width="1.0" stroke-linecap="round" opacity="1"/><path d="M4.0,5.4 C4.9,21.6 4.8,36.0 4.0,40.0" fill="none" stroke="#2eb26e" stroke-width="1.5" stroke-linecap="round" opacity="1"/><path d="M6.7,7.7 C8.1,21.6 7.5,36.0 6.7,57.4" fill="none" stroke="#1f8a56" stroke-width="1.0" stroke-linecap="round" opacity="1"/><ellipse cx="-7.7" cy="103.6" rx="2.0" ry="3.8" fill="#fff" stroke="#222" stroke-width="0.6"/><ellipse cx="-7.7" cy="103.6" rx="0.8" ry="1.3" fill="#999"/><ellipse cx="7.7" cy="103.6" rx="2.0" ry="3.8" fill="#fff" stroke="#222" stroke-width="0.6"/><ellipse cx="7.7" cy="103.6" rx="0.8" ry="1.3" fill="#999"/></g>
<g transform="translate(775.4,177.0)"><path d="M-5.2,50.0 L5.2,50.0 C5.8,76.0 5.6,105.2 4.4,110.4 C2.6,115.0 -2.6,115.0 -4.4,110.4 C-5.6,105.2 -5.8,76.0 -5.2,50.0Z" fill="#f49ac1" stroke="#111" stroke-width="0.9"/><path d="M-7.7,5.3 L-5.0,1.9 L-3.5,3.2 L-0.8,0.0 L1.7,1.6 L3.8,0.4 L5.8,2.7 L7.9,6.4 L8.3,15.9 L8.3,32.9 L7.1,43.5 L6.0,53.0 L5.5,59.4 L4.6,46.1 L4.1,52.1 L2.6,45.2 L2.1,55.7 L0.5,47.0 L0.0,54.5 L-1.5,46.9 L-2.1,52.9 L-3.6,47.6 L-4.1,53.9 L-5.5,59.4 L-6.0,53.0 L-7.1,43.5 L-8.3,32.9 L-8.3,15.9Z" fill="#4a2038" stroke="#0b0b0b" stroke-width="1.0" stroke-linejoin="round"/><path d="M-5.4,4.6 C-6.4,15.9 -5.5,31.8 -4.0,47.1" fill="none" stroke="#0b0b0b" stroke-width="1.5" stroke-linecap="round"/><path d="M-4.3,4.9 C-5.1,15.9 -5.9,31.8 -3.2,49.3" fill="none" stroke="#0b0b0b" stroke-width="2.0" stroke-linecap="round"/><path d="M-2.5,5.2 C-3.0,15.9 -4.1,31.8 -1.9,51.6" fill="none" stroke="#0b0b0b" stroke-width="2.2" stroke-linecap="round"/><path d="M-0.4,4.9 C-0.5,15.9 0.1,31.8 -0.3,43.7" fill="none" stroke="#0b0b0b" stroke-width="2.0" stroke-linecap="round"/><path d="M1.4,5.9 C1.7,15.9 2.1,31.8 1.1,52.8" fill="none" stroke="#0b0b0b" stroke-width="1.4" stroke-linecap="round"/><path d="M3.6,4.3 C4.2,15.9 4.5,31.8 2.7,44.3" fill="none" stroke="#0b0b0b" stroke-width="2.3" stroke-linecap="round"/><path d="M6.2,2.7 C7.3,15.9 6.5,31.8 4.6,49.5" fill="none" stroke="#0b0b0b" stroke-width="1.7" stroke-linecap="round"/><path d="M-4.7,6.0 C-5.7,15.9 -6.7,26.5 -4.7,35.6" fill="none" stroke="#12663f" stroke-width="1.0" stroke-linecap="round" opacity="1"/><path d="M-3.0,7.7 C-3.6,15.9 -3.1,26.5 -3.0,36.1" fill="none" stroke="#a85a86" stroke-width="1.3" stroke-linecap="round" opacity="1"/><path d="M-0.6,7.2 C-0.8,15.9 -1.5,26.5 -0.6,34.4" fill="none" stroke="#8a4068" stroke-width="0.9" stroke-linecap="round" opacity="1"/><path d="M0.5,8.6 C0.7,15.9 1.2,26.5 0.5,43.5" fill="none" stroke="#c678a0" stroke-width="1.0" stroke-linecap="round" opacity="1"/><path d="M3.1,3.5 C3.7,15.9 4.0,26.5 3.1,43.8" fill="none" stroke="#a85a86" stroke-width="1.4" stroke-linecap="round" opacity="1"/><path d="M5.0,5.5 C6.0,15.9 7.0,26.5 5.0,43.1" fill="none" stroke="#8a4068" stroke-width="1.1" stroke-linecap="round" opacity="1"/><ellipse cx="-5.4" cy="77.2" rx="1.6" ry="2.6" fill="#fff" stroke="#222" stroke-width="0.6"/><ellipse cx="-5.4" cy="77.2" rx="0.8" ry="1.3" fill="#999"/><ellipse cx="5.4" cy="77.2" rx="1.6" ry="2.6" fill="#fff" stroke="#222" stroke-width="0.6"/><ellipse cx="5.4" cy="77.2" rx="0.8" ry="1.3" fill="#999"/></g>
<g transform="translate(775.4,310.0)"><path d="M-5.2,50.0 L5.2,50.0 C5.8,76.0 5.6,105.2 4.4,110.4 C2.6,115.0 -2.6,115.0 -4.4,110.4 C-5.6,105.2 -5.8,76.0 -5.2,50.0Z" fill="#f49ac1" stroke="#111" stroke-width="0.9"/><path d="M-7.7,5.3 L-5.0,1.9 L-3.5,3.2 L-0.8,0.0 L1.7,1.6 L3.8,0.4 L5.8,2.7 L7.9,6.4 L8.3,15.9 L8.3,32.9 L7.1,43.5 L6.0,53.0 L5.5,59.4 L4.6,47.2 L4.1,51.0 L2.6,45.7 L2.1,52.1 L0.5,47.6 L0.0,54.5 L-1.5,48.3 L-2.1,51.3 L-3.6,46.3 L-4.1,51.0 L-5.5,59.4 L-6.0,53.0 L-7.1,43.5 L-8.3,32.9 L-8.3,15.9Z" fill="#4a2038" stroke="#0b0b0b" stroke-width="1.0" stroke-linejoin="round"/><path d="M-6.1,3.7 C-7.2,15.9 -8.4,31.8 -4.6,44.5" fill="none" stroke="#0b0b0b" stroke-width="2.0" stroke-linecap="round"/><path d="M-3.8,2.2 C-4.5,15.9 -4.2,31.8 -2.8,51.0" fill="none" stroke="#0b0b0b" stroke-width="1.3" stroke-linecap="round"/><path d="M-1.5,4.8 C-1.8,15.9 -2.2,31.8 -1.1,44.0" fill="none" stroke="#0b0b0b" stroke-width="2.4" stroke-linecap="round"/><path d="M-0.2,1.6 C-0.3,15.9 -1.2,31.8 -0.2,51.4" fill="none" stroke="#0b0b0b" stroke-width="2.0" stroke-linecap="round"/><path d="M2.3,4.9 C2.8,15.9 2.8,31.8 1.7,52.7" fill="none" stroke="#0b0b0b" stroke-width="1.7" stroke-linecap="round"/><path d="M3.9,5.5 C4.6,15.9 4.9,31.8 2.9,51.5" fill="none" stroke="#0b0b0b" stroke-width="1.9" stroke-linecap="round"/><path d="M6.0,1.3 C7.1,15.9 6.5,31.8 4.5,45.5" fill="none" stroke="#0b0b0b" stroke-width="1.4" stroke-linecap="round"/><path d="M-5.1,3.3 C-6.2,15.9 -5.9,26.5 -5.1,33.7" fill="none" stroke="#12663f" stroke-width="1.2" stroke-linecap="round" opacity="1"/><path d="M-3.0,4.1 C-3.7,15.9 -2.8,26.5 -3.0,33.5" fill="none" stroke="#a85a86" stroke-width="1.4" stroke-linecap="round" opacity="1"/><path d="M-0.9,3.8 C-1.1,15.9 -1.7,26.5 -0.9,41.1" fill="none" stroke="#8a4068" stroke-width="1.2" stroke-linecap="round" opacity="1"/><path d="M1.4,7.1 C1.7,15.9 2.1,26.5 1.4,38.3" fill="none" stroke="#c678a0" stroke-width="1.5" stroke-linecap="round" opacity="1"/><path d="M3.2,4.2 C3.9,15.9 3.5,26.5 3.2,29.7" fill="none" stroke="#a85a86" stroke-width="1.1" stroke-linecap="round" opacity="1"/><path d="M4.6,9.1 C5.6,15.9 5.2,26.5 4.6,43.5" fill="none" stroke="#8a4068" stroke-width="1.4" stroke-linecap="round" opacity="1"/><ellipse cx="-5.4" cy="77.2" rx="1.6" ry="2.6" fill="#fff" stroke="#222" stroke-width="0.6"/><ellipse cx="-5.4" cy="77.2" rx="0.8" ry="1.3" fill="#999"/><ellipse cx="5.4" cy="77.2" rx="1.6" ry="2.6" fill="#fff" stroke="#222" stroke-width="0.6"/><ellipse cx="5.4" cy="77.2" rx="0.8" ry="1.3" fill="#999"/></g>
<g transform="translate(775.4,442.0)"><path d="M-5.2,50.0 L5.2,50.0 C5.8,76.0 5.6,105.2 4.4,110.4 C2.6,115.0 -2.6,115.0 -4.4,110.4 C-5.6,105.2 -5.8,76.0 -5.2,50.0Z" fill="#f49ac1" stroke="#111" stroke-width="0.9"/><path d="M-7.7,5.3 L-5.0,1.9 L-3.5,3.2 L-0.8,0.0 L1.7,1.6 L3.8,0.4 L5.8,2.7 L7.9,6.4 L8.3,15.9 L8.3,32.9 L7.1,43.5 L6.0,53.0 L5.5,59.4 L4.6,44.7 L4.1,54.6 L2.6,45.1 L2.1,53.3 L0.5,47.4 L0.0,55.1 L-1.5,46.4 L-2.1,53.5 L-3.6,44.6 L-4.1,53.2 L-5.5,59.4 L-6.0,53.0 L-7.1,43.5 L-8.3,32.9 L-8.3,15.9Z" fill="#4a2038" stroke="#0b0b0b" stroke-width="1.0" stroke-linejoin="round"/><path d="M-5.9,5.6 C-7.0,15.9 -6.9,31.8 -4.4,50.4" fill="none" stroke="#0b0b0b" stroke-width="1.8" stroke-linecap="round"/><path d="M-4.2,5.6 C-5.0,15.9 -4.3,31.8 -3.2,46.4" fill="none" stroke="#0b0b0b" stroke-width="1.4" stroke-linecap="round"/><path d="M-1.9,3.7 C-2.2,15.9 -1.6,31.8 -1.4,48.7" fill="none" stroke="#0b0b0b" stroke-width="1.9" stroke-linecap="round"/><path d="M0.1,3.1 C0.1,15.9 -1.0,31.8 0.1,43.0" fill="none" stroke="#0b0b0b" stroke-width="2.3" stroke-linecap="round"/><path d="M2.4,2.6 C2.8,15.9 3.7,31.8 1.8,47.9" fill="none" stroke="#0b0b0b" stroke-width="1.4" stroke-linecap="round"/><path d="M4.3,4.2 C5.1,15.9 6.1,31.8 3.2,49.6" fill="none" stroke="#0b0b0b" stroke-width="1.4" stroke-linecap="round"/><path d="M5.9,5.2 C7.0,15.9 8.0,31.8 4.4,45.9" fill="none" stroke="#0b0b0b" stroke-width="1.9" stroke-linecap="round"/><path d="M-4.7,3.8 C-5.7,15.9 -5.1,26.5 -4.7,43.1" fill="none" stroke="#12663f" stroke-width="0.9" stroke-linecap="round" opacity="1"/><path d="M-2.8,5.2 C-3.4,15.9 -3.2,26.5 -2.8,32.2" fill="none" stroke="#a85a86" stroke-width="1.6" stroke-linecap="round" opacity="1"/><path d="M-0.9,3.4 C-1.1,15.9 -0.6,26.5 -0.9,37.3" fill="none" stroke="#8a4068" stroke-width="1.6" stroke-linecap="round" opacity="1"/><path d="M1.2,2.9 C1.4,15.9 1.6,26.5 1.2,45.0" fill="none" stroke="#c678a0" stroke-width="1.0" stroke-linecap="round" opacity="1"/><path d="M2.6,3.2 C3.1,15.9 2.4,26.5 2.6,40.1" fill="none" stroke="#a85a86" stroke-width="1.5" stroke-linecap="round" opacity="1"/><path d="M4.5,6.3 C5.5,15.9 4.5,26.5 4.5,36.4" fill="none" stroke="#8a4068" stroke-width="0.9" stroke-linecap="round" opacity="1"/><ellipse cx="-5.4" cy="77.2" rx="1.6" ry="2.6" fill="#fff" stroke="#222" stroke-width="0.6"/><ellipse cx="-5.4" cy="77.2" rx="0.8" ry="1.3" fill="#999"/><ellipse cx="5.4" cy="77.2" rx="1.6" ry="2.6" fill="#fff" stroke="#222" stroke-width="0.6"/><ellipse cx="5.4" cy="77.2" rx="0.8" ry="1.3" fill="#999"/></g>
<g transform="translate(675.8,310.0)"><path d="M-5.2,50.0 L5.2,50.0 C5.8,76.0 5.6,105.2 4.4,110.4 C2.6,115.0 -2.6,115.0 -4.4,110.4 C-5.6,105.2 -5.8,76.0 -5.2,50.0Z" fill="#f49ac1" stroke="#111" stroke-width="0.9"/><path d="M-7.7,5.3 L-5.0,1.9 L-3.5,3.2 L-0.8,0.0 L1.7,1.6 L3.8,0.4 L5.8,2.7 L7.9,6.4 L8.3,15.9 L8.3,32.9 L7.1,43.5 L6.0,53.0 L5.5,59.4 L4.6,46.3 L4.1,53.8 L2.6,48.2 L2.1,51.8 L0.5,45.5 L0.0,51.0 L-1.5,45.0 L-2.1,50.9 L-3.6,45.2 L-4.1,53.6 L-5.5,59.4 L-6.0,53.0 L-7.1,43.5 L-8.3,32.9 L-8.3,15.9Z" fill="#4a2038" stroke="#0b0b0b" stroke-width="1.0" stroke-linejoin="round"/><path d="M-5.1,4.7 C-6.0,15.9 -6.3,31.8 -3.8,46.7" fill="none" stroke="#0b0b0b" stroke-width="2.1" stroke-linecap="round"/><path d="M-4.0,1.4 C-4.8,15.9 -4.0,31.8 -3.0,48.9" fill="none" stroke="#0b0b0b" stroke-width="1.4" stroke-linecap="round"/><path d="M-2.5,1.6 C-2.9,15.9 -1.8,31.8 -1.9,43.5" fill="none" stroke="#0b0b0b" stroke-width="2.0" stroke-linecap="round"/><path d="M0.6,1.2 C0.7,15.9 0.5,31.8 0.5,47.5" fill="none" stroke="#0b0b0b" stroke-width="2.3" stroke-linecap="round"/><path d="M1.5,2.4 C1.8,15.9 1.2,31.8 1.1,42.9" fill="none" stroke="#0b0b0b" stroke-width="2.0" stroke-linecap="round"/><path d="M4.2,3.4 C5.0,15.9 3.9,31.8 3.2,50.0" fill="none" stroke="#0b0b0b" stroke-width="2.1" stroke-linecap="round"/><path d="M5.9,2.8 C7.0,15.9 7.8,31.8 4.4,49.1" fill="none" stroke="#0b0b0b" stroke-width="1.9" stroke-linecap="round"/><path d="M-4.8,4.3 C-5.9,15.9 -5.3,26.5 -4.8,36.6" fill="none" stroke="#12663f" stroke-width="1.4" stroke-linecap="round" opacity="1"/><path d="M-3.1,8.3 C-3.7,15.9 -4.6,26.5 -3.1,42.9" fill="none" stroke="#a85a86" stroke-width="1.0" stroke-linecap="round" opacity="1"/><path d="M-1.2,2.8 C-1.5,15.9 -1.2,26.5 -1.2,41.5" fill="none" stroke="#8a4068" stroke-width="1.3" stroke-linecap="round" opacity="1"/><path d="M1.4,5.1 C1.7,15.9 1.0,26.5 1.4,32.4" fill="none" stroke="#c678a0" stroke-width="1.1" stroke-linecap="round" opacity="1"/><path d="M3.2,6.8 C3.9,15.9 3.8,26.5 3.2,30.1" fill="none" stroke="#a85a86" stroke-width="0.9" stroke-linecap="round" opacity="1"/><path d="M5.0,3.5 C6.1,15.9 6.3,26.5 5.0,32.1" fill="none" stroke="#8a4068" stroke-width="1.5" stroke-linecap="round" opacity="1"/><ellipse cx="-5.4" cy="77.2" rx="1.6" ry="2.6" fill="#fff" stroke="#222" stroke-width="0.6"/><ellipse cx="-5.4" cy="77.2" rx="0.8" ry="1.3" fill="#999"/><ellipse cx="5.4" cy="77.2" rx="1.6" ry="2.6" fill="#fff" stroke="#222" stroke-width="0.6"/><ellipse cx="5.4" cy="77.2" rx="0.8" ry="1.3" fill="#999"/></g>
<g transform="translate(675.8,445.0)"><path d="M-5.2,50.0 L5.2,50.0 C5.8,76.0 5.6,105.2 4.4,110.4 C2.6,115.0 -2.6,115.0 -4.4,110.4 C-5.6,105.2 -5.8,76.0 -5.2,50.0Z" fill="#f49ac1" stroke="#111" stroke-width="0.9"/><path d="M-7.7,5.3 L-5.0,1.9 L-3.5,3.2 L-0.8,0.0 L1.7,1.6 L3.8,0.4 L5.8,2.7 L7.9,6.4 L8.3,15.9 L8.3,32.9 L7.1,43.5 L6.0,53.0 L5.5,59.4 L4.6,45.7 L4.1,53.5 L2.6,44.9 L2.1,52.7 L0.5,44.8 L0.0,50.9 L-1.5,45.7 L-2.1,51.5 L-3.6,45.8 L-4.1,54.8 L-5.5,59.4 L-6.0,53.0 L-7.1,43.5 L-8.3,32.9 L-8.3,15.9Z" fill="#4a2038" stroke="#0b0b0b" stroke-width="1.0" stroke-linejoin="round"/><path d="M-6.3,4.4 C-7.5,15.9 -8.4,31.8 -4.8,50.8" fill="none" stroke="#0b0b0b" stroke-width="2.1" stroke-linecap="round"/><path d="M-4.2,5.6 C-5.0,15.9 -4.5,31.8 -3.2,43.2" fill="none" stroke="#0b0b0b" stroke-width="1.7" stroke-linecap="round"/><path d="M-1.6,6.0 C-1.9,15.9 -2.7,31.8 -1.2,45.1" fill="none" stroke="#0b0b0b" stroke-width="2.2" stroke-linecap="round"/><path d="M0.6,1.6 C0.7,15.9 -0.3,31.8 0.5,50.4" fill="none" stroke="#0b0b0b" stroke-width="1.6" stroke-linecap="round"/><path d="M1.8,5.7 C2.1,15.9 2.7,31.8 1.3,49.4" fill="none" stroke="#0b0b0b" stroke-width="2.3" stroke-linecap="round"/><path d="M4.1,5.4 C4.9,15.9 5.2,31.8 3.1,48.7" fill="none" stroke="#0b0b0b" stroke-width="1.4" stroke-linecap="round"/><path d="M6.3,5.9 C7.4,15.9 7.1,31.8 4.7,49.0" fill="none" stroke="#0b0b0b" stroke-width="1.3" stroke-linecap="round"/><path d="M-4.9,6.9 C-5.9,15.9 -6.1,26.5 -4.9,34.0" fill="none" stroke="#12663f" stroke-width="1.5" stroke-linecap="round" opacity="1"/><path d="M-3.3,5.8 C-4.0,15.9 -4.2,26.5 -3.3,30.6" fill="none" stroke="#a85a86" stroke-width="1.5" stroke-linecap="round" opacity="1"/><path d="M-0.9,2.8 C-1.1,15.9 -0.7,26.5 -0.9,43.3" fill="none" stroke="#8a4068" stroke-width="1.3" stroke-linecap="round" opacity="1"/><path d="M0.8,4.7 C0.9,15.9 1.2,26.5 0.8,32.2" fill="none" stroke="#c678a0" stroke-width="0.9" stroke-linecap="round" opacity="1"/><path d="M3.3,3.4 C4.1,15.9 4.2,26.5 3.3,39.4" fill="none" stroke="#a85a86" stroke-width="1.2" stroke-linecap="round" opacity="1"/><path d="M4.7,5.7 C5.7,15.9 6.6,26.5 4.7,34.6" fill="none" stroke="#8a4068" stroke-width="1.4" stroke-linecap="round" opacity="1"/><ellipse cx="-5.4" cy="77.2" rx="1.6" ry="2.6" fill="#fff" stroke="#222" stroke-width="0.6"/><ellipse cx="-5.4" cy="77.2" rx="0.8" ry="1.3" fill="#999"/><ellipse cx="5.4" cy="77.2" rx="1.6" ry="2.6" fill="#fff" stroke="#222" stroke-width="0.6"/><ellipse cx="5.4" cy="77.2" rx="0.8" ry="1.3" fill="#999"/></g>
<g transform="translate(870.6,310.0)"><path d="M-5.2,50.0 L5.2,50.0 C5.8,76.0 5.6,105.2 4.4,110.4 C2.6,115.0 -2.6,115.0 -4.4,110.4 C-5.6,105.2 -5.8,76.0 -5.2,50.0Z" fill="#f49ac1" stroke="#111" stroke-width="0.9"/><path d="M-7.7,5.3 L-5.0,1.9 L-3.5,3.2 L-0.8,0.0 L1.7,1.6 L3.8,0.4 L5.8,2.7 L7.9,6.4 L8.3,15.9 L8.3,32.9 L7.1,43.5 L6.0,53.0 L5.5,59.4 L4.6,48.3 L4.1,53.0 L2.6,47.0 L2.1,55.4 L0.5,45.5 L0.0,53.6 L-1.5,47.0 L-2.1,55.9 L-3.6,44.7 L-4.1,51.2 L-5.5,59.4 L-6.0,53.0 L-7.1,43.5 L-8.3,32.9 L-8.3,15.9Z" fill="#4a2038" stroke="#0b0b0b" stroke-width="1.0" stroke-linejoin="round"/><path d="M-6.0,5.4 C-7.1,15.9 -6.3,31.8 -4.5,43.8" fill="none" stroke="#0b0b0b" stroke-width="2.3" stroke-linecap="round"/><path d="M-3.8,6.2 C-4.5,15.9 -3.4,31.8 -2.8,43.4" fill="none" stroke="#0b0b0b" stroke-width="2.4" stroke-linecap="round"/><path d="M-1.9,1.9 C-2.3,15.9 -2.4,31.8 -1.5,43.2" fill="none" stroke="#0b0b0b" stroke-width="2.1" stroke-linecap="round"/><path d="M0.1,1.6 C0.1,15.9 -0.6,31.8 0.0,47.8" fill="none" stroke="#0b0b0b" stroke-width="2.2" stroke-linecap="round"/><path d="M1.6,1.6 C1.9,15.9 1.6,31.8 1.2,43.1" fill="none" stroke="#0b0b0b" stroke-width="1.7" stroke-linecap="round"/><path d="M4.3,2.0 C5.1,15.9 4.6,31.8 3.2,50.6" fill="none" stroke="#0b0b0b" stroke-width="1.5" stroke-linecap="round"/><path d="M5.2,2.4 C6.2,15.9 6.5,31.8 3.9,49.9" fill="none" stroke="#0b0b0b" stroke-width="2.0" stroke-linecap="round"/><path d="M-5.3,4.6 C-6.4,15.9 -6.3,26.5 -5.3,31.1" fill="none" stroke="#12663f" stroke-width="1.2" stroke-linecap="round" opacity="1"/><path d="M-2.7,6.6 C-3.3,15.9 -3.9,26.5 -2.7,38.7" fill="none" stroke="#a85a86" stroke-width="1.3" stroke-linecap="round" opacity="1"/><path d="M-1.4,3.3 C-1.7,15.9 -2.3,26.5 -1.4,43.3" fill="none" stroke="#8a4068" stroke-width="0.9" stroke-linecap="round" opacity="1"/><path d="M1.2,3.9 C1.4,15.9 1.6,26.5 1.2,34.1" fill="none" stroke="#c678a0" stroke-width="1.6" stroke-linecap="round" opacity="1"/><path d="M2.5,7.1 C3.0,15.9 3.6,26.5 2.5,29.7" fill="none" stroke="#a85a86" stroke-width="1.2" stroke-linecap="round" opacity="1"/><path d="M4.5,5.4 C5.4,15.9 4.7,26.5 4.5,39.8" fill="none" stroke="#8a4068" stroke-width="1.2" stroke-linecap="round" opacity="1"/><ellipse cx="-5.4" cy="77.2" rx="1.6" ry="2.6" fill="#fff" stroke="#222" stroke-width="0.6"/><ellipse cx="-5.4" cy="77.2" rx="0.8" ry="1.3" fill="#999"/><ellipse cx="5.4" cy="77.2" rx="1.6" ry="2.6" fill="#fff" stroke="#222" stroke-width="0.6"/><ellipse cx="5.4" cy="77.2" rx="0.8" ry="1.3" fill="#999"/></g>
<g transform="translate(870.6,445.0)"><path d="M-5.2,50.0 L5.2,50.0 C5.8,76.0 5.6,105.2 4.4,110.4 C2.6,115.0 -2.6,115.0 -4.4,110.4 C-5.6,105.2 -5.8,76.0 -5.2,50.0Z" fill="#f49ac1" stroke="#111" stroke-width="0.9"/><path d="M-7.7,5.3 L-5.0,1.9 L-3.5,3.2 L-0.8,0.0 L1.7,1.6 L3.8,0.4 L5.8,2.7 L7.9,6.4 L8.3,15.9 L8.3,32.9 L7.1,43.5 L6.0,53.0 L5.5,59.4 L4.6,46.0 L4.1,53.2 L2.6,46.4 L2.1,52.7 L0.5,46.7 L0.0,53.0 L-1.5,44.7 L-2.1,53.1 L-3.6,44.6 L-4.1,51.4 L-5.5,59.4 L-6.0,53.0 L-7.1,43.5 L-8.3,32.9 L-8.3,15.9Z" fill="#4a2038" stroke="#0b0b0b" stroke-width="1.0" stroke-linejoin="round"/><path d="M-6.0,6.2 C-7.2,15.9 -7.2,31.8 -4.5,48.2" fill="none" stroke="#0b0b0b" stroke-width="2.3" stroke-linecap="round"/><path d="M-3.3,4.1 C-3.9,15.9 -4.5,31.8 -2.5,47.9" fill="none" stroke="#0b0b0b" stroke-width="1.7" stroke-linecap="round"/><path d="M-1.3,1.2 C-1.5,15.9 -1.8,31.8 -1.0,49.7" fill="none" stroke="#0b0b0b" stroke-width="2.0" stroke-linecap="round"/><path d="M0.1,5.1 C0.1,15.9 -0.5,31.8 0.1,51.3" fill="none" stroke="#0b0b0b" stroke-width="2.3" stroke-linecap="round"/><path d="M1.3,2.8 C1.5,15.9 1.2,31.8 1.0,46.5" fill="none" stroke="#0b0b0b" stroke-width="1.9" stroke-linecap="round"/><path d="M3.5,4.5 C4.1,15.9 5.1,31.8 2.6,52.2" fill="none" stroke="#0b0b0b" stroke-width="2.2" stroke-linecap="round"/><path d="M5.3,5.0 C6.4,15.9 7.0,31.8 4.0,48.8" fill="none" stroke="#0b0b0b" stroke-width="2.0" stroke-linecap="round"/><path d="M-5.1,8.0 C-6.2,15.9 -6.0,26.5 -5.1,33.1" fill="none" stroke="#12663f" stroke-width="1.1" stroke-linecap="round" opacity="1"/><path d="M-2.9,2.9 C-3.5,15.9 -3.0,26.5 -2.9,34.3" fill="none" stroke="#a85a86" stroke-width="1.1" stroke-linecap="round" opacity="1"/><path d="M-0.8,8.2 C-0.9,15.9 -0.7,26.5 -0.8,39.1" fill="none" stroke="#8a4068" stroke-width="1.0" stroke-linecap="round" opacity="1"/><path d="M1.0,9.3 C1.2,15.9 1.3,26.5 1.0,45.3" fill="none" stroke="#c678a0" stroke-width="1.2" stroke-linecap="round" opacity="1"/><path d="M3.4,6.4 C4.1,15.9 3.3,26.5 3.4,42.4" fill="none" stroke="#a85a86" stroke-width="1.1" stroke-linecap="round" opacity="1"/><path d="M5.2,6.4 C6.3,15.9 6.1,26.5 5.2,42.0" fill="none" stroke="#8a4068" stroke-width="1.5" stroke-linecap="round" opacity="1"/><ellipse cx="-5.4" cy="77.2" rx="1.6" ry="2.6" fill="#fff" stroke="#222" stroke-width="0.6"/><ellipse cx="-5.4" cy="77.2" rx="0.8" ry="1.3" fill="#999"/><ellipse cx="5.4" cy="77.2" rx="1.6" ry="2.6" fill="#fff" stroke="#222" stroke-width="0.6"/><ellipse cx="5.4" cy="77.2" rx="0.8" ry="1.3" fill="#999"/></g>
<circle cx="775.4" cy="571.5" r="2.8" fill="#fff" stroke="#111" stroke-width="1"/>
<rect x="735" y="620" width="79" height="12" fill="#fff" stroke="#666" stroke-width="1"/>
<path d="M775.4,575.5 C781.755,577.843 785.65,596.587 785.65,614.55 C785.65,633.294 781.55,651.2570000000001 775.4,653.6 C769.25,651.2570000000001 765.15,633.294 765.15,614.55 C765.15,596.587 769.045,577.843 775.4,575.5Z" fill="#fff" stroke="#111" stroke-width="1.1"/>
<line x1="325.8" y1="632.5" x2="325.8" y2="1142.5" stroke="#0b0b0b" stroke-width="3"/>
<line x1="227.5" y1="915" x2="227.5" y2="1157" stroke="#0b0b0b" stroke-width="2.4"/>
<line x1="421" y1="915" x2="421" y2="1157" stroke="#0b0b0b" stroke-width="2.4"/>
<path d="M226.5,1161.5 C281.2,1181.5 367.3,1181.5 422,1161.5" fill="none" stroke="#0b0b0b" stroke-width="3.0" stroke-linecap="round"/>
<circle cx="227.5" cy="1159.5" r="2.6" fill="#fff" stroke="#111" stroke-width="1"/>
<circle cx="421" cy="1159.5" r="2.6" fill="#fff" stroke="#111" stroke-width="1"/>
<g transform="translate(325.8,572.5)"><path d="M-7.2,69.0 L7.2,69.0 C7.8,103.0 7.7,140.2 6.2,147.5 C3.6,154.0 -3.6,154.0 -6.2,147.5 C-7.7,140.2 -7.8,103.0 -7.2,69.0Z" fill="#c4b288" stroke="#111" stroke-width="0.9"/><path d="M-9.9,7.2 L-6.5,2.5 L-4.5,4.3 L-1.1,0.0 L2.1,2.2 L4.8,0.4 L7.5,3.6 L10.2,8.6 L10.8,21.6 L10.8,44.6 L9.1,59.0 L8.1,72.0 L7.5,80.6 L6.5,62.3 L5.8,73.3 L3.6,62.0 L2.9,74.9 L0.7,63.2 L0.0,71.5 L-2.2,65.6 L-2.9,74.8 L-5.1,65.4 L-5.8,73.9 L-7.5,80.6 L-8.1,72.0 L-9.1,59.0 L-10.8,44.6 L-10.8,21.6Z" fill="#7d7250" stroke="#0b0b0b" stroke-width="1.0" stroke-linejoin="round"/><path d="M-7.9,4.2 C-9.4,21.6 -10.0,43.2 -5.9,69.0" fill="none" stroke="#0b0b0b" stroke-width="1.3" stroke-linecap="round"/><path d="M-4.4,2.6 C-5.2,21.6 -5.7,43.2 -3.3,66.7" fill="none" stroke="#0b0b0b" stroke-width="2.0" stroke-linecap="round"/><path d="M-2.4,5.4 C-2.9,21.6 -2.7,43.2 -1.8,66.2" fill="none" stroke="#0b0b0b" stroke-width="1.4" stroke-linecap="round"/><path d="M-0.3,1.6 C-0.4,21.6 -0.2,43.2 -0.3,61.8" fill="none" stroke="#0b0b0b" stroke-width="1.6" stroke-linecap="round"/><path d="M2.1,8.2 C2.5,21.6 1.6,43.2 1.6,70.6" fill="none" stroke="#0b0b0b" stroke-width="2.3" stroke-linecap="round"/><path d="M4.4,7.4 C5.2,21.6 4.5,43.2 3.3,66.9" fill="none" stroke="#0b0b0b" stroke-width="1.4" stroke-linecap="round"/><path d="M7.1,5.0 C8.4,21.6 8.1,43.2 5.3,69.5" fill="none" stroke="#0b0b0b" stroke-width="2.0" stroke-linecap="round"/><path d="M-6.8,8.8 C-8.3,21.6 -8.9,36.0 -6.8,41.6" fill="none" stroke="#12663f" stroke-width="1.2" stroke-linecap="round" opacity="1"/><path d="M-4.0,8.8 C-4.8,21.6 -4.3,36.0 -4.0,61.5" fill="none" stroke="#a89a70" stroke-width="1.3" stroke-linecap="round" opacity="1"/><path d="M-0.8,5.2 C-1.0,21.6 -0.1,36.0 -0.8,55.6" fill="none" stroke="#c4b288" stroke-width="1.6" stroke-linecap="round" opacity="1"/><path d="M1.3,9.1 C1.5,21.6 1.4,36.0 1.3,48.2" fill="none" stroke="#a89a70" stroke-width="1.6" stroke-linecap="round" opacity="1"/><path d="M3.3,11.6 C4.0,21.6 4.1,36.0 3.3,44.6" fill="none" stroke="#c4b288" stroke-width="1.3" stroke-linecap="round" opacity="1"/><path d="M5.7,8.1 C7.0,21.6 7.8,36.0 5.7,40.0" fill="none" stroke="#a89a70" stroke-width="1.6" stroke-linecap="round" opacity="1"/><ellipse cx="-7.5" cy="104.0" rx="2.0" ry="3.6" fill="#fff" stroke="#222" stroke-width="0.6"/><ellipse cx="-7.5" cy="104.0" rx="0.8" ry="1.3" fill="#999"/><ellipse cx="7.5" cy="104.0" rx="2.0" ry="3.6" fill="#fff" stroke="#222" stroke-width="0.6"/><ellipse cx="7.5" cy="104.0" rx="0.8" ry="1.3" fill="#999"/></g>
<g transform="translate(325.8,745.0)"><path d="M-5.2,50.0 L5.2,50.0 C5.8,76.0 5.7,105.0 4.5,110.3 C2.6,115.0 -2.6,115.0 -4.5,110.3 C-5.7,105.0 -5.8,76.0 -5.2,50.0Z" fill="#c4b288" stroke="#111" stroke-width="0.9"/><path d="M-7.7,5.3 L-5.0,1.9 L-3.5,3.2 L-0.8,0.0 L1.7,1.6 L3.8,0.4 L5.8,2.7 L7.9,6.4 L8.3,15.9 L8.3,32.9 L7.1,43.5 L6.0,53.0 L5.5,59.4 L4.7,46.6 L4.2,53.8 L2.6,48.0 L2.1,52.6 L0.5,45.9 L0.0,54.6 L-1.6,46.6 L-2.1,52.8 L-3.7,46.2 L-4.2,52.6 L-5.5,59.4 L-6.0,53.0 L-7.1,43.5 L-8.3,32.9 L-8.3,15.9Z" fill="#7d7250" stroke="#0b0b0b" stroke-width="1.0" stroke-linejoin="round"/><path d="M-6.2,4.4 C-7.3,15.9 -6.4,31.8 -4.6,49.7" fill="none" stroke="#0b0b0b" stroke-width="2.0" stroke-linecap="round"/><path d="M-4.0,3.4 C-4.8,15.9 -5.6,31.8 -3.0,50.1" fill="none" stroke="#0b0b0b" stroke-width="1.6" stroke-linecap="round"/><path d="M-2.2,6.3 C-2.6,15.9 -3.0,31.8 -1.6,52.8" fill="none" stroke="#0b0b0b" stroke-width="2.0" stroke-linecap="round"/><path d="M0.3,4.4 C0.4,15.9 -0.4,31.8 0.3,50.0" fill="none" stroke="#0b0b0b" stroke-width="1.6" stroke-linecap="round"/><path d="M1.8,1.8 C2.1,15.9 1.1,31.8 1.3,46.3" fill="none" stroke="#0b0b0b" stroke-width="1.3" stroke-linecap="round"/><path d="M3.7,5.6 C4.4,15.9 5.5,31.8 2.7,46.9" fill="none" stroke="#0b0b0b" stroke-width="1.4" stroke-linecap="round"/><path d="M5.5,1.4 C6.6,15.9 5.9,31.8 4.1,49.0" fill="none" stroke="#0b0b0b" stroke-width="2.0" stroke-linecap="round"/><path d="M-5.3,6.0 C-6.4,15.9 -6.7,26.5 -5.3,36.1" fill="none" stroke="#12663f" stroke-width="1.0" stroke-linecap="round" opacity="1"/><path d="M-3.0,3.4 C-3.7,15.9 -3.4,26.5 -3.0,40.4" fill="none" stroke="#a89a70" stroke-width="1.3" stroke-linecap="round" opacity="1"/><path d="M-1.1,9.2 C-1.3,15.9 -1.9,26.5 -1.1,35.2" fill="none" stroke="#c4b288" stroke-width="1.2" stroke-linecap="round" opacity="1"/><path d="M1.4,3.7 C1.7,15.9 2.5,26.5 1.4,41.7" fill="none" stroke="#a89a70" stroke-width="1.5" stroke-linecap="round" opacity="1"/><path d="M2.9,5.8 C3.5,15.9 3.9,26.5 2.9,43.5" fill="none" stroke="#c4b288" stroke-width="1.5" stroke-linecap="round" opacity="1"/><path d="M4.6,6.8 C5.5,15.9 5.0,26.5 4.6,41.3" fill="none" stroke="#a89a70" stroke-width="1.0" stroke-linecap="round" opacity="1"/><ellipse cx="-5.5" cy="77.2" rx="1.6" ry="2.6" fill="#fff" stroke="#222" stroke-width="0.6"/><ellipse cx="-5.5" cy="77.2" rx="0.8" ry="1.3" fill="#999"/><ellipse cx="5.5" cy="77.2" rx="1.6" ry="2.6" fill="#fff" stroke="#222" stroke-width="0.6"/><ellipse cx="5.5" cy="77.2" rx="0.8" ry="1.3" fill="#999"/></g>
<g transform="translate(325.8,875.0)"><path d="M-5.2,50.0 L5.2,50.0 C5.8,76.0 5.7,105.0 4.5,110.3 C2.6,115.0 -2.6,115.0 -4.5,110.3 C-5.7,105.0 -5.8,76.0 -5.2,50.0Z" fill="#c4b288" stroke="#111" stroke-width="0.9"/><path d="M-7.7,5.3 L-5.0,1.9 L-3.5,3.2 L-0.8,0.0 L1.7,1.6 L3.8,0.4 L5.8,2.7 L7.9,6.4 L8.3,15.9 L8.3,32.9 L7.1,43.5 L6.0,53.0 L5.5,59.4 L4.7,48.5 L4.2,51.8 L2.6,48.6 L2.1,52.1 L0.5,46.5 L0.0,55.6 L-1.6,46.0 L-2.1,53.6 L-3.7,45.2 L-4.2,56.0 L-5.5,59.4 L-6.0,53.0 L-7.1,43.5 L-8.3,32.9 L-8.3,15.9Z" fill="#7d7250" stroke="#0b0b0b" stroke-width="1.0" stroke-linejoin="round"/><path d="M-5.1,2.0 C-6.0,15.9 -6.9,31.8 -3.8,47.4" fill="none" stroke="#0b0b0b" stroke-width="1.9" stroke-linecap="round"/><path d="M-3.4,2.9 C-4.1,15.9 -3.9,31.8 -2.6,44.1" fill="none" stroke="#0b0b0b" stroke-width="1.5" stroke-linecap="round"/><path d="M-2.5,4.0 C-2.9,15.9 -2.8,31.8 -1.9,48.9" fill="none" stroke="#0b0b0b" stroke-width="2.3" stroke-linecap="round"/><path d="M-0.3,2.9 C-0.3,15.9 -0.4,31.8 -0.2,52.4" fill="none" stroke="#0b0b0b" stroke-width="1.6" stroke-linecap="round"/><path d="M1.6,3.3 C1.9,15.9 2.4,31.8 1.2,45.4" fill="none" stroke="#0b0b0b" stroke-width="1.5" stroke-linecap="round"/><path d="M4.1,4.1 C4.9,15.9 5.1,31.8 3.1,42.5" fill="none" stroke="#0b0b0b" stroke-width="1.6" stroke-linecap="round"/><path d="M5.2,3.0 C6.2,15.9 7.1,31.8 3.9,52.9" fill="none" stroke="#0b0b0b" stroke-width="2.2" stroke-linecap="round"/><path d="M-5.0,6.5 C-6.1,15.9 -6.4,26.5 -5.0,43.9" fill="none" stroke="#12663f" stroke-width="1.2" stroke-linecap="round" opacity="1"/><path d="M-2.7,5.0 C-3.3,15.9 -3.6,26.5 -2.7,36.9" fill="none" stroke="#a89a70" stroke-width="1.5" stroke-linecap="round" opacity="1"/><path d="M-1.0,3.3 C-1.2,15.9 -0.9,26.5 -1.0,29.4" fill="none" stroke="#c4b288" stroke-width="1.0" stroke-linecap="round" opacity="1"/><path d="M1.1,4.2 C1.4,15.9 1.1,26.5 1.1,37.9" fill="none" stroke="#a89a70" stroke-width="1.4" stroke-linecap="round" opacity="1"/><path d="M2.6,5.5 C3.1,15.9 2.7,26.5 2.6,39.9" fill="none" stroke="#c4b288" stroke-width="1.6" stroke-linecap="round" opacity="1"/><path d="M5.3,9.3 C6.5,15.9 7.4,26.5 5.3,44.5" fill="none" stroke="#a89a70" stroke-width="1.3" stroke-linecap="round" opacity="1"/><ellipse cx="-5.5" cy="77.2" rx="1.6" ry="2.6" fill="#fff" stroke="#222" stroke-width="0.6"/><ellipse cx="-5.5" cy="77.2" rx="0.8" ry="1.3" fill="#999"/><ellipse cx="5.5" cy="77.2" rx="1.6" ry="2.6" fill="#fff" stroke="#222" stroke-width="0.6"/><ellipse cx="5.5" cy="77.2" rx="0.8" ry="1.3" fill="#999"/></g>
<g transform="translate(325.8,1007.5)"><path d="M-5.2,50.0 L5.2,50.0 C5.8,76.0 5.7,105.0 4.5,110.3 C2.6,115.0 -2.6,115.0 -4.5,110.3 C-5.7,105.0 -5.8,76.0 -5.2,50.0Z" fill="#c4b288" stroke="#111" stroke-width="0.9"/><path d="M-7.7,5.3 L-5.0,1.9 L-3.5,3.2 L-0.8,0.0 L1.7,1.6 L3.8,0.4 L5.8,2.7 L7.9,6.4 L8.3,15.9 L8.3,32.9 L7.1,43.5 L6.0,53.0 L5.5,59.4 L4.7,46.4 L4.2,52.4 L2.6,48.4 L2.1,53.4 L0.5,44.9 L0.0,54.9 L-1.6,44.8 L-2.1,52.0 L-3.7,44.8 L-4.2,54.2 L-5.5,59.4 L-6.0,53.0 L-7.1,43.5 L-8.3,32.9 L-8.3,15.9Z" fill="#7d7250" stroke="#0b0b0b" stroke-width="1.0" stroke-linejoin="round"/><path d="M-5.3,4.3 C-6.3,15.9 -6.9,31.8 -4.0,51.4" fill="none" stroke="#0b0b0b" stroke-width="2.3" stroke-linecap="round"/><path d="M-4.0,2.5 C-4.8,15.9 -4.4,31.8 -3.0,52.7" fill="none" stroke="#0b0b0b" stroke-width="2.3" stroke-linecap="round"/><path d="M-1.4,4.9 C-1.7,15.9 -2.3,31.8 -1.1,48.9" fill="none" stroke="#0b0b0b" stroke-width="1.8" stroke-linecap="round"/><path d="M0.2,3.6 C0.2,15.9 -0.5,31.8 0.1,51.9" fill="none" stroke="#0b0b0b" stroke-width="1.3" stroke-linecap="round"/><path d="M1.7,2.8 C2.0,15.9 3.1,31.8 1.3,43.6" fill="none" stroke="#0b0b0b" stroke-width="1.9" stroke-linecap="round"/><path d="M4.4,4.3 C5.2,15.9 6.3,31.8 3.3,46.6" fill="none" stroke="#0b0b0b" stroke-width="1.8" stroke-linecap="round"/><path d="M5.6,3.0 C6.6,15.9 6.2,31.8 4.2,43.2" fill="none" stroke="#0b0b0b" stroke-width="2.4" stroke-linecap="round"/><path d="M-4.7,7.3 C-5.6,15.9 -6.2,26.5 -4.7,37.9" fill="none" stroke="#12663f" stroke-width="1.1" stroke-linecap="round" opacity="1"/><path d="M-2.5,8.3 C-3.0,15.9 -2.5,26.5 -2.5,36.6" fill="none" stroke="#a89a70" stroke-width="1.6" stroke-linecap="round" opacity="1"/><path d="M-1.4,5.2 C-1.7,15.9 -2.0,26.5 -1.4,35.8" fill="none" stroke="#c4b288" stroke-width="1.3" stroke-linecap="round" opacity="1"/><path d="M0.8,3.5 C0.9,15.9 0.8,26.5 0.8,43.4" fill="none" stroke="#a89a70" stroke-width="1.5" stroke-linecap="round" opacity="1"/><path d="M2.6,4.8 C3.1,15.9 2.2,26.5 2.6,37.3" fill="none" stroke="#c4b288" stroke-width="1.2" stroke-linecap="round" opacity="1"/><path d="M4.6,5.4 C5.5,15.9 6.1,26.5 4.6,34.0" fill="none" stroke="#a89a70" stroke-width="1.3" stroke-linecap="round" opacity="1"/><ellipse cx="-5.5" cy="77.2" rx="1.6" ry="2.6" fill="#fff" stroke="#222" stroke-width="0.6"/><ellipse cx="-5.5" cy="77.2" rx="0.8" ry="1.3" fill="#999"/><ellipse cx="5.5" cy="77.2" rx="1.6" ry="2.6" fill="#fff" stroke="#222" stroke-width="0.6"/><ellipse cx="5.5" cy="77.2" rx="0.8" ry="1.3" fill="#999"/></g>
<g transform="translate(227.5,875.0)"><path d="M-5.2,50.0 L5.2,50.0 C5.8,76.0 5.7,105.0 4.5,110.3 C2.6,115.0 -2.6,115.0 -4.5,110.3 C-5.7,105.0 -5.8,76.0 -5.2,50.0Z" fill="#c4b288" stroke="#111" stroke-width="0.9"/><path d="M-7.7,5.3 L-5.0,1.9 L-3.5,3.2 L-0.8,0.0 L1.7,1.6 L3.8,0.4 L5.8,2.7 L7.9,6.4 L8.3,15.9 L8.3,32.9 L7.1,43.5 L6.0,53.0 L5.5,59.4 L4.7,46.5 L4.2,54.2 L2.6,46.2 L2.1,55.8 L0.5,44.6 L0.0,56.1 L-1.6,47.5 L-2.1,55.1 L-3.7,47.9 L-4.2,51.9 L-5.5,59.4 L-6.0,53.0 L-7.1,43.5 L-8.3,32.9 L-8.3,15.9Z" fill="#7d7250" stroke="#0b0b0b" stroke-width="1.0" stroke-linejoin="round"/><path d="M-5.3,4.5 C-6.3,15.9 -7.1,31.8 -4.0,51.5" fill="none" stroke="#0b0b0b" stroke-width="1.8" stroke-linecap="round"/><path d="M-3.5,1.5 C-4.2,15.9 -3.8,31.8 -2.6,42.5" fill="none" stroke="#0b0b0b" stroke-width="1.4" stroke-linecap="round"/><path d="M-2.4,1.3 C-2.9,15.9 -2.7,31.8 -1.8,44.7" fill="none" stroke="#0b0b0b" stroke-width="1.5" stroke-linecap="round"/><path d="M0.4,5.1 C0.5,15.9 0.3,31.8 0.3,44.7" fill="none" stroke="#0b0b0b" stroke-width="2.1" stroke-linecap="round"/><path d="M2.0,3.0 C2.3,15.9 1.9,31.8 1.5,46.3" fill="none" stroke="#0b0b0b" stroke-width="1.8" stroke-linecap="round"/><path d="M3.4,1.1 C4.0,15.9 3.9,31.8 2.5,44.7" fill="none" stroke="#0b0b0b" stroke-width="1.4" stroke-linecap="round"/><path d="M5.4,4.6 C6.5,15.9 7.2,31.8 4.1,42.7" fill="none" stroke="#0b0b0b" stroke-width="2.2" stroke-linecap="round"/><path d="M-5.1,8.6 C-6.1,15.9 -6.5,26.5 -5.1,43.7" fill="none" stroke="#12663f" stroke-width="1.3" stroke-linecap="round" opacity="1"/><path d="M-2.9,4.3 C-3.5,15.9 -3.2,26.5 -2.9,45.0" fill="none" stroke="#a89a70" stroke-width="1.6" stroke-linecap="round" opacity="1"/><path d="M-1.3,4.4 C-1.6,15.9 -2.0,26.5 -1.3,44.3" fill="none" stroke="#c4b288" stroke-width="1.2" stroke-linecap="round" opacity="1"/><path d="M0.8,8.3 C0.9,15.9 0.2,26.5 0.8,34.0" fill="none" stroke="#a89a70" stroke-width="1.0" stroke-linecap="round" opacity="1"/><path d="M3.3,3.0 C4.0,15.9 3.7,26.5 3.3,31.9" fill="none" stroke="#c4b288" stroke-width="1.3" stroke-linecap="round" opacity="1"/><path d="M5.2,9.3 C6.3,15.9 6.6,26.5 5.2,36.9" fill="none" stroke="#a89a70" stroke-width="1.1" stroke-linecap="round" opacity="1"/><ellipse cx="-5.5" cy="77.2" rx="1.6" ry="2.6" fill="#fff" stroke="#222" stroke-width="0.6"/><ellipse cx="-5.5" cy="77.2" rx="0.8" ry="1.3" fill="#999"/><ellipse cx="5.5" cy="77.2" rx="1.6" ry="2.6" fill="#fff" stroke="#222" stroke-width="0.6"/><ellipse cx="5.5" cy="77.2" rx="0.8" ry="1.3" fill="#999"/></g>
<g transform="translate(227.5,1012.5)"><path d="M-5.2,50.0 L5.2,50.0 C5.8,76.0 5.7,105.0 4.5,110.3 C2.6,115.0 -2.6,115.0 -4.5,110.3 C-5.7,105.0 -5.8,76.0 -5.2,50.0Z" fill="#c4b288" stroke="#111" stroke-width="0.9"/><path d="M-7.7,5.3 L-5.0,1.9 L-3.5,3.2 L-0.8,0.0 L1.7,1.6 L3.8,0.4 L5.8,2.7 L7.9,6.4 L8.3,15.9 L8.3,32.9 L7.1,43.5 L6.0,53.0 L5.5,59.4 L4.7,46.3 L4.2,52.4 L2.6,48.1 L2.1,53.2 L0.5,46.8 L0.0,53.8 L-1.6,46.0 L-2.1,54.3 L-3.7,48.3 L-4.2,51.3 L-5.5,59.4 L-6.0,53.0 L-7.1,43.5 L-8.3,32.9 L-8.3,15.9Z" fill="#7d7250" stroke="#0b0b0b" stroke-width="1.0" stroke-linejoin="round"/><path d="M-5.6,2.5 C-6.7,15.9 -6.3,31.8 -4.2,49.0" fill="none" stroke="#0b0b0b" stroke-width="1.4" stroke-linecap="round"/><path d="M-4.3,3.9 C-5.1,15.9 -4.3,31.8 -3.3,50.9" fill="none" stroke="#0b0b0b" stroke-width="2.2" stroke-linecap="round"/><path d="M-2.4,2.9 C-2.8,15.9 -2.7,31.8 -1.8,46.3" fill="none" stroke="#0b0b0b" stroke-width="1.6" stroke-linecap="round"/><path d="M0.6,4.4 C0.7,15.9 0.4,31.8 0.4,47.4" fill="none" stroke="#0b0b0b" stroke-width="2.1" stroke-linecap="round"/><path d="M2.3,5.2 C2.7,15.9 2.3,31.8 1.7,52.7" fill="none" stroke="#0b0b0b" stroke-width="2.1" stroke-linecap="round"/><path d="M3.5,2.0 C4.2,15.9 4.0,31.8 2.6,45.2" fill="none" stroke="#0b0b0b" stroke-width="2.3" stroke-linecap="round"/><path d="M5.1,5.4 C6.0,15.9 5.2,31.8 3.8,51.0" fill="none" stroke="#0b0b0b" stroke-width="1.8" stroke-linecap="round"/><path d="M-5.2,9.4 C-6.3,15.9 -5.4,26.5 -5.2,36.0" fill="none" stroke="#12663f" stroke-width="1.1" stroke-linecap="round" opacity="1"/><path d="M-3.2,6.5 C-3.8,15.9 -3.7,26.5 -3.2,32.3" fill="none" stroke="#a89a70" stroke-width="1.4" stroke-linecap="round" opacity="1"/><path d="M-0.8,2.7 C-1.0,15.9 -1.5,26.5 -0.8,40.1" fill="none" stroke="#c4b288" stroke-width="1.2" stroke-linecap="round" opacity="1"/><path d="M1.3,8.6 C1.6,15.9 0.8,26.5 1.3,31.3" fill="none" stroke="#a89a70" stroke-width="1.4" stroke-linecap="round" opacity="1"/><path d="M2.9,7.5 C3.5,15.9 4.5,26.5 2.9,39.8" fill="none" stroke="#c4b288" stroke-width="1.5" stroke-linecap="round" opacity="1"/><path d="M5.3,8.9 C6.5,15.9 6.3,26.5 5.3,38.5" fill="none" stroke="#a89a70" stroke-width="1.0" stroke-linecap="round" opacity="1"/><ellipse cx="-5.5" cy="77.2" rx="1.6" ry="2.6" fill="#fff" stroke="#222" stroke-width="0.6"/><ellipse cx="-5.5" cy="77.2" rx="0.8" ry="1.3" fill="#999"/><ellipse cx="5.5" cy="77.2" rx="1.6" ry="2.6" fill="#fff" stroke="#222" stroke-width="0.6"/><ellipse cx="5.5" cy="77.2" rx="0.8" ry="1.3" fill="#999"/></g>
<g transform="translate(421.0,875.0)"><path d="M-5.2,50.0 L5.2,50.0 C5.8,76.0 5.7,105.0 4.5,110.3 C2.6,115.0 -2.6,115.0 -4.5,110.3 C-5.7,105.0 -5.8,76.0 -5.2,50.0Z" fill="#c4b288" stroke="#111" stroke-width="0.9"/><path d="M-7.7,5.3 L-5.0,1.9 L-3.5,3.2 L-0.8,0.0 L1.7,1.6 L3.8,0.4 L5.8,2.7 L7.9,6.4 L8.3,15.9 L8.3,32.9 L7.1,43.5 L6.0,53.0 L5.5,59.4 L4.7,44.8 L4.2,53.2 L2.6,45.6 L2.1,53.2 L0.5,45.6 L0.0,55.4 L-1.6,46.9 L-2.1,54.8 L-3.7,48.4 L-4.2,53.5 L-5.5,59.4 L-6.0,53.0 L-7.1,43.5 L-8.3,32.9 L-8.3,15.9Z" fill="#7d7250" stroke="#0b0b0b" stroke-width="1.0" stroke-linejoin="round"/><path d="M-5.8,1.7 C-6.8,15.9 -6.2,31.8 -4.3,43.1" fill="none" stroke="#0b0b0b" stroke-width="1.7" stroke-linecap="round"/><path d="M-4.3,4.9 C-5.1,15.9 -5.2,31.8 -3.2,47.8" fill="none" stroke="#0b0b0b" stroke-width="1.9" stroke-linecap="round"/><path d="M-1.5,6.3 C-1.7,15.9 -2.0,31.8 -1.1,51.7" fill="none" stroke="#0b0b0b" stroke-width="2.1" stroke-linecap="round"/><path d="M0.3,6.2 C0.3,15.9 -0.4,31.8 0.2,45.8" fill="none" stroke="#0b0b0b" stroke-width="1.8" stroke-linecap="round"/><path d="M1.6,2.6 C2.0,15.9 1.2,31.8 1.2,52.2" fill="none" stroke="#0b0b0b" stroke-width="2.4" stroke-linecap="round"/><path d="M4.3,5.3 C5.1,15.9 4.9,31.8 3.2,45.7" fill="none" stroke="#0b0b0b" stroke-width="1.7" stroke-linecap="round"/><path d="M5.1,1.7 C6.0,15.9 6.0,31.8 3.8,46.8" fill="none" stroke="#0b0b0b" stroke-width="2.0" stroke-linecap="round"/><path d="M-4.8,3.3 C-5.8,15.9 -6.0,26.5 -4.8,43.1" fill="none" stroke="#12663f" stroke-width="1.2" stroke-linecap="round" opacity="1"/><path d="M-3.0,5.2 C-3.7,15.9 -2.8,26.5 -3.0,44.3" fill="none" stroke="#a89a70" stroke-width="1.0" stroke-linecap="round" opacity="1"/><path d="M-0.6,8.2 C-0.7,15.9 -1.1,26.5 -0.6,42.7" fill="none" stroke="#c4b288" stroke-width="1.5" stroke-linecap="round" opacity="1"/><path d="M1.1,5.8 C1.3,15.9 1.3,26.5 1.1,29.7" fill="none" stroke="#a89a70" stroke-width="1.0" stroke-linecap="round" opacity="1"/><path d="M2.7,8.6 C3.3,15.9 3.9,26.5 2.7,34.8" fill="none" stroke="#c4b288" stroke-width="1.2" stroke-linecap="round" opacity="1"/><path d="M4.5,5.4 C5.5,15.9 4.8,26.5 4.5,31.9" fill="none" stroke="#a89a70" stroke-width="1.4" stroke-linecap="round" opacity="1"/><ellipse cx="-5.5" cy="77.2" rx="1.6" ry="2.6" fill="#fff" stroke="#222" stroke-width="0.6"/><ellipse cx="-5.5" cy="77.2" rx="0.8" ry="1.3" fill="#999"/><ellipse cx="5.5" cy="77.2" rx="1.6" ry="2.6" fill="#fff" stroke="#222" stroke-width="0.6"/><ellipse cx="5.5" cy="77.2" rx="0.8" ry="1.3" fill="#999"/></g>
<g transform="translate(421.0,1012.5)"><path d="M-5.2,50.0 L5.2,50.0 C5.8,76.0 5.7,105.0 4.5,110.3 C2.6,115.0 -2.6,115.0 -4.5,110.3 C-5.7,105.0 -5.8,76.0 -5.2,50.0Z" fill="#c4b288" stroke="#111" stroke-width="0.9"/><path d="M-7.7,5.3 L-5.0,1.9 L-3.5,3.2 L-0.8,0.0 L1.7,1.6 L3.8,0.4 L5.8,2.7 L7.9,6.4 L8.3,15.9 L8.3,32.9 L7.1,43.5 L6.0,53.0 L5.5,59.4 L4.7,44.8 L4.2,54.9 L2.6,48.6 L2.1,53.1 L0.5,48.5 L0.0,53.2 L-1.6,47.2 L-2.1,55.8 L-3.7,45.4 L-4.2,51.1 L-5.5,59.4 L-6.0,53.0 L-7.1,43.5 L-8.3,32.9 L-8.3,15.9Z" fill="#7d7250" stroke="#0b0b0b" stroke-width="1.0" stroke-linejoin="round"/><path d="M-6.2,1.2 C-7.3,15.9 -7.5,31.8 -4.6,43.7" fill="none" stroke="#0b0b0b" stroke-width="1.4" stroke-linecap="round"/><path d="M-4.1,3.2 C-4.8,15.9 -3.9,31.8 -3.1,42.5" fill="none" stroke="#0b0b0b" stroke-width="2.0" stroke-linecap="round"/><path d="M-1.4,4.9 C-1.6,15.9 -2.4,31.8 -1.0,44.0" fill="none" stroke="#0b0b0b" stroke-width="1.7" stroke-linecap="round"/><path d="M-0.7,6.2 C-0.8,15.9 -0.1,31.8 -0.5,51.0" fill="none" stroke="#0b0b0b" stroke-width="2.0" stroke-linecap="round"/><path d="M2.6,3.1 C3.0,15.9 1.9,31.8 1.9,46.2" fill="none" stroke="#0b0b0b" stroke-width="1.8" stroke-linecap="round"/><path d="M4.2,1.1 C5.0,15.9 5.9,31.8 3.2,46.1" fill="none" stroke="#0b0b0b" stroke-width="1.3" stroke-linecap="round"/><path d="M5.9,5.7 C7.0,15.9 7.2,31.8 4.4,50.2" fill="none" stroke="#0b0b0b" stroke-width="1.8" stroke-linecap="round"/><path d="M-5.0,2.8 C-6.0,15.9 -5.9,26.5 -5.0,43.5" fill="none" stroke="#12663f" stroke-width="1.0" stroke-linecap="round" opacity="1"/><path d="M-3.2,6.4 C-3.9,15.9 -3.0,26.5 -3.2,40.5" fill="none" stroke="#a89a70" stroke-width="1.2" stroke-linecap="round" opacity="1"/><path d="M-0.9,7.5 C-1.1,15.9 -0.2,26.5 -0.9,30.2" fill="none" stroke="#c4b288" stroke-width="1.2" stroke-linecap="round" opacity="1"/><path d="M1.4,8.7 C1.7,15.9 1.0,26.5 1.4,42.9" fill="none" stroke="#a89a70" stroke-width="1.2" stroke-linecap="round" opacity="1"/><path d="M2.9,4.8 C3.5,15.9 3.1,26.5 2.9,37.1" fill="none" stroke="#c4b288" stroke-width="1.3" stroke-linecap="round" opacity="1"/><path d="M5.1,7.3 C6.2,15.9 6.7,26.5 5.1,42.4" fill="none" stroke="#a89a70" stroke-width="1.2" stroke-linecap="round" opacity="1"/><ellipse cx="-5.5" cy="77.2" rx="1.6" ry="2.6" fill="#fff" stroke="#222" stroke-width="0.6"/><ellipse cx="-5.5" cy="77.2" rx="0.8" ry="1.3" fill="#999"/><ellipse cx="5.5" cy="77.2" rx="1.6" ry="2.6" fill="#fff" stroke="#222" stroke-width="0.6"/><ellipse cx="5.5" cy="77.2" rx="0.8" ry="1.3" fill="#999"/></g>
<circle cx="325.8" cy="1137.5" r="2.8" fill="#fff" stroke="#111" stroke-width="1"/>
<rect x="286" y="1186.5" width="78" height="12" fill="#fff" stroke="#666" stroke-width="1"/>
<path d="M325.8,1142.5 C332.15500000000003,1144.825 336.05,1163.425 336.05,1181.25 C336.05,1199.85 331.95,1217.675 325.8,1220 C319.65000000000003,1217.675 315.55,1199.85 315.55,1181.25 C315.55,1163.425 319.445,1144.825 325.8,1142.5Z" fill="#fff" stroke="#111" stroke-width="1.1"/>
<line x1="1221.6" y1="630" x2="1221.6" y2="1139" stroke="#0b0b0b" stroke-width="3"/>
<line x1="1122" y1="912.5" x2="1122" y2="1152" stroke="#0b0b0b" stroke-width="2.4"/>
<line x1="1316" y1="912.5" x2="1316" y2="1152" stroke="#0b0b0b" stroke-width="2.4"/>
<path d="M1121,1156.5 C1175.9,1178.5 1262.1,1178.5 1317,1156.5" fill="none" stroke="#0b0b0b" stroke-width="3.0" stroke-linecap="round"/>
<circle cx="1122" cy="1154.5" r="2.6" fill="#fff" stroke="#111" stroke-width="1"/>
<circle cx="1316" cy="1154.5" r="2.6" fill="#fff" stroke="#111" stroke-width="1"/>
<g transform="translate(1221.6,570.0)"><path d="M-7.2,69.0 L7.2,69.0 C7.8,103.0 7.7,140.2 6.2,147.5 C3.6,154.0 -3.6,154.0 -6.2,147.5 C-7.7,140.2 -7.8,103.0 -7.2,69.0Z" fill="#f4967a" stroke="#111" stroke-width="0.9"/><path d="M-9.9,7.2 L-6.5,2.5 L-4.5,4.3 L-1.1,0.0 L2.1,2.2 L4.8,0.4 L7.5,3.6 L10.2,8.6 L10.8,21.6 L10.8,44.6 L9.1,59.0 L8.1,72.0 L7.5,80.6 L6.5,62.0 L5.8,73.0 L3.6,64.6 L2.9,76.0 L0.7,62.6 L0.0,73.0 L-2.2,62.6 L-2.9,73.1 L-5.1,65.3 L-5.8,76.3 L-7.5,80.6 L-8.1,72.0 L-9.1,59.0 L-10.8,44.6 L-10.8,21.6Z" fill="#8a4a34" stroke="#0b0b0b" stroke-width="1.0" stroke-linejoin="round"/><path d="M-6.6,8.2 C-7.9,21.6 -8.9,43.2 -5.0,61.1" fill="none" stroke="#0b0b0b" stroke-width="2.3" stroke-linecap="round"/><path d="M-4.8,2.5 C-5.7,21.6 -5.4,43.2 -3.6,71.1" fill="none" stroke="#0b0b0b" stroke-width="1.6" stroke-linecap="round"/><path d="M-2.7,2.7 C-3.2,21.6 -2.1,43.2 -2.0,60.5" fill="none" stroke="#0b0b0b" stroke-width="1.6" stroke-linecap="round"/><path d="M-0.7,2.2 C-0.9,21.6 -2.0,43.2 -0.5,57.7" fill="none" stroke="#0b0b0b" stroke-width="1.9" stroke-linecap="round"/><path d="M2.1,4.1 C2.5,21.6 2.7,43.2 1.6,62.1" fill="none" stroke="#0b0b0b" stroke-width="2.1" stroke-linecap="round"/><path d="M4.5,5.0 C5.3,21.6 5.0,43.2 3.4,68.3" fill="none" stroke="#0b0b0b" stroke-width="1.8" stroke-linecap="round"/><path d="M7.0,8.1 C8.3,21.6 9.0,43.2 5.2,62.6" fill="none" stroke="#0b0b0b" stroke-width="2.0" stroke-linecap="round"/><path d="M-6.3,4.0 C-7.6,21.6 -7.3,36.0 -6.3,44.3" fill="none" stroke="#12663f" stroke-width="0.9" stroke-linecap="round" opacity="1"/><path d="M-4.3,6.1 C-5.2,21.6 -6.2,36.0 -4.3,50.3" fill="none" stroke="#b0644a" stroke-width="1.6" stroke-linecap="round" opacity="1"/><path d="M-0.7,10.9 C-0.8,21.6 0.0,36.0 -0.7,58.7" fill="none" stroke="#d07a5a" stroke-width="1.5" stroke-linecap="round" opacity="1"/><path d="M1.2,5.1 C1.4,21.6 1.7,36.0 1.2,49.3" fill="none" stroke="#b0644a" stroke-width="1.5" stroke-linecap="round" opacity="1"/><path d="M4.1,4.3 C4.9,21.6 4.7,36.0 4.1,43.0" fill="none" stroke="#d07a5a" stroke-width="1.1" stroke-linecap="round" opacity="1"/><path d="M6.1,11.0 C7.4,21.6 7.7,36.0 6.1,51.5" fill="none" stroke="#b0644a" stroke-width="1.6" stroke-linecap="round" opacity="1"/><ellipse cx="-7.5" cy="104.0" rx="2.0" ry="3.6" fill="#fff" stroke="#222" stroke-width="0.6"/><ellipse cx="-7.5" cy="104.0" rx="0.8" ry="1.3" fill="#999"/><ellipse cx="7.5" cy="104.0" rx="2.0" ry="3.6" fill="#fff" stroke="#222" stroke-width="0.6"/><ellipse cx="7.5" cy="104.0" rx="0.8" ry="1.3" fill="#999"/></g>
<g transform="translate(1221.6,740.0)"><path d="M-5.2,50.0 L5.2,50.0 C5.8,76.0 5.7,105.0 4.5,110.3 C2.6,115.0 -2.6,115.0 -4.5,110.3 C-5.7,105.0 -5.8,76.0 -5.2,50.0Z" fill="#f4967a" stroke="#111" stroke-width="0.9"/><path d="M-7.7,5.3 L-5.0,1.9 L-3.5,3.2 L-0.8,0.0 L1.7,1.6 L3.8,0.4 L5.8,2.7 L7.9,6.4 L8.3,15.9 L8.3,32.9 L7.1,43.5 L6.0,53.0 L5.5,59.4 L4.7,46.7 L4.2,53.3 L2.6,46.9 L2.1,52.9 L0.5,48.1 L0.0,51.7 L-1.6,46.4 L-2.1,54.9 L-3.7,47.1 L-4.2,55.7 L-5.5,59.4 L-6.0,53.0 L-7.1,43.5 L-8.3,32.9 L-8.3,15.9Z" fill="#8a4a34" stroke="#0b0b0b" stroke-width="1.0" stroke-linejoin="round"/><path d="M-6.0,3.0 C-7.1,15.9 -7.6,31.8 -4.5,43.8" fill="none" stroke="#0b0b0b" stroke-width="1.4" stroke-linecap="round"/><path d="M-3.8,2.6 C-4.5,15.9 -4.3,31.8 -2.8,52.6" fill="none" stroke="#0b0b0b" stroke-width="2.4" stroke-linecap="round"/><path d="M-1.5,2.8 C-1.8,15.9 -2.1,31.8 -1.2,51.9" fill="none" stroke="#0b0b0b" stroke-width="1.6" stroke-linecap="round"/><path d="M0.4,2.4 C0.5,15.9 0.4,31.8 0.3,48.3" fill="none" stroke="#0b0b0b" stroke-width="2.4" stroke-linecap="round"/><path d="M2.2,5.5 C2.6,15.9 2.3,31.8 1.7,46.1" fill="none" stroke="#0b0b0b" stroke-width="2.3" stroke-linecap="round"/><path d="M3.9,4.9 C4.7,15.9 3.7,31.8 2.9,43.1" fill="none" stroke="#0b0b0b" stroke-width="1.8" stroke-linecap="round"/><path d="M5.5,2.5 C6.5,15.9 7.3,31.8 4.1,52.2" fill="none" stroke="#0b0b0b" stroke-width="1.5" stroke-linecap="round"/><path d="M-5.2,4.0 C-6.4,15.9 -5.9,26.5 -5.2,32.2" fill="none" stroke="#12663f" stroke-width="1.2" stroke-linecap="round" opacity="1"/><path d="M-2.5,2.8 C-3.0,15.9 -3.7,26.5 -2.5,37.9" fill="none" stroke="#b0644a" stroke-width="1.5" stroke-linecap="round" opacity="1"/><path d="M-1.1,4.3 C-1.3,15.9 -0.6,26.5 -1.1,38.7" fill="none" stroke="#d07a5a" stroke-width="0.9" stroke-linecap="round" opacity="1"/><path d="M0.7,8.9 C0.9,15.9 0.1,26.5 0.7,36.1" fill="none" stroke="#b0644a" stroke-width="1.6" stroke-linecap="round" opacity="1"/><path d="M3.3,5.6 C4.1,15.9 3.1,26.5 3.3,32.4" fill="none" stroke="#d07a5a" stroke-width="1.4" stroke-linecap="round" opacity="1"/><path d="M5.1,7.7 C6.2,15.9 5.9,26.5 5.1,40.5" fill="none" stroke="#b0644a" stroke-width="1.1" stroke-linecap="round" opacity="1"/><ellipse cx="-5.5" cy="77.2" rx="1.6" ry="2.6" fill="#fff" stroke="#222" stroke-width="0.6"/><ellipse cx="-5.5" cy="77.2" rx="0.8" ry="1.3" fill="#999"/><ellipse cx="5.5" cy="77.2" rx="1.6" ry="2.6" fill="#fff" stroke="#222" stroke-width="0.6"/><ellipse cx="5.5" cy="77.2" rx="0.8" ry="1.3" fill="#999"/></g>
<g transform="translate(1221.6,872.5)"><path d="M-5.2,50.0 L5.2,50.0 C5.8,76.0 5.7,105.0 4.5,110.3 C2.6,115.0 -2.6,115.0 -4.5,110.3 C-5.7,105.0 -5.8,76.0 -5.2,50.0Z" fill="#f4967a" stroke="#111" stroke-width="0.9"/><path d="M-7.7,5.3 L-5.0,1.9 L-3.5,3.2 L-0.8,0.0 L1.7,1.6 L3.8,0.4 L5.8,2.7 L7.9,6.4 L8.3,15.9 L8.3,32.9 L7.1,43.5 L6.0,53.0 L5.5,59.4 L4.7,45.1 L4.2,53.5 L2.6,46.7 L2.1,56.0 L0.5,48.0 L0.0,55.1 L-1.6,47.4 L-2.1,51.7 L-3.7,48.4 L-4.2,53.2 L-5.5,59.4 L-6.0,53.0 L-7.1,43.5 L-8.3,32.9 L-8.3,15.9Z" fill="#8a4a34" stroke="#0b0b0b" stroke-width="1.0" stroke-linejoin="round"/><path d="M-5.6,1.6 C-6.7,15.9 -7.1,31.8 -4.2,51.3" fill="none" stroke="#0b0b0b" stroke-width="1.4" stroke-linecap="round"/><path d="M-4.4,2.8 C-5.2,15.9 -5.6,31.8 -3.3,47.6" fill="none" stroke="#0b0b0b" stroke-width="1.8" stroke-linecap="round"/><path d="M-2.3,1.1 C-2.8,15.9 -3.1,31.8 -1.8,45.6" fill="none" stroke="#0b0b0b" stroke-width="1.9" stroke-linecap="round"/><path d="M0.1,4.9 C0.1,15.9 -0.0,31.8 0.1,46.5" fill="none" stroke="#0b0b0b" stroke-width="2.0" stroke-linecap="round"/><path d="M2.5,4.6 C2.9,15.9 1.8,31.8 1.8,45.6" fill="none" stroke="#0b0b0b" stroke-width="2.4" stroke-linecap="round"/><path d="M4.4,2.6 C5.3,15.9 4.6,31.8 3.3,42.5" fill="none" stroke="#0b0b0b" stroke-width="1.4" stroke-linecap="round"/><path d="M5.2,6.3 C6.1,15.9 7.2,31.8 3.9,46.0" fill="none" stroke="#0b0b0b" stroke-width="1.3" stroke-linecap="round"/><path d="M-4.5,6.9 C-5.4,15.9 -5.8,26.5 -4.5,44.0" fill="none" stroke="#12663f" stroke-width="1.5" stroke-linecap="round" opacity="1"/><path d="M-2.6,7.3 C-3.2,15.9 -2.8,26.5 -2.6,40.2" fill="none" stroke="#b0644a" stroke-width="1.2" stroke-linecap="round" opacity="1"/><path d="M-0.5,3.3 C-0.7,15.9 -0.9,26.5 -0.5,35.8" fill="none" stroke="#d07a5a" stroke-width="1.2" stroke-linecap="round" opacity="1"/><path d="M1.3,3.2 C1.6,15.9 1.5,26.5 1.3,36.0" fill="none" stroke="#b0644a" stroke-width="1.2" stroke-linecap="round" opacity="1"/><path d="M3.0,7.5 C3.7,15.9 3.7,26.5 3.0,39.4" fill="none" stroke="#d07a5a" stroke-width="1.2" stroke-linecap="round" opacity="1"/><path d="M5.3,8.3 C6.5,15.9 5.6,26.5 5.3,40.1" fill="none" stroke="#b0644a" stroke-width="1.2" stroke-linecap="round" opacity="1"/><ellipse cx="-5.5" cy="77.2" rx="1.6" ry="2.6" fill="#fff" stroke="#222" stroke-width="0.6"/><ellipse cx="-5.5" cy="77.2" rx="0.8" ry="1.3" fill="#999"/><ellipse cx="5.5" cy="77.2" rx="1.6" ry="2.6" fill="#fff" stroke="#222" stroke-width="0.6"/><ellipse cx="5.5" cy="77.2" rx="0.8" ry="1.3" fill="#999"/></g>
<g transform="translate(1221.6,1005.0)"><path d="M-5.2,50.0 L5.2,50.0 C5.8,76.0 5.7,105.0 4.5,110.3 C2.6,115.0 -2.6,115.0 -4.5,110.3 C-5.7,105.0 -5.8,76.0 -5.2,50.0Z" fill="#f4967a" stroke="#111" stroke-width="0.9"/><path d="M-7.7,5.3 L-5.0,1.9 L-3.5,3.2 L-0.8,0.0 L1.7,1.6 L3.8,0.4 L5.8,2.7 L7.9,6.4 L8.3,15.9 L8.3,32.9 L7.1,43.5 L6.0,53.0 L5.5,59.4 L4.7,46.6 L4.2,55.4 L2.6,44.9 L2.1,52.9 L0.5,44.7 L0.0,54.3 L-1.6,45.3 L-2.1,52.5 L-3.7,48.0 L-4.2,51.2 L-5.5,59.4 L-6.0,53.0 L-7.1,43.5 L-8.3,32.9 L-8.3,15.9Z" fill="#8a4a34" stroke="#0b0b0b" stroke-width="1.0" stroke-linejoin="round"/><path d="M-6.2,2.7 C-7.3,15.9 -6.6,31.8 -4.6,47.4" fill="none" stroke="#0b0b0b" stroke-width="2.0" stroke-linecap="round"/><path d="M-3.3,2.3 C-3.9,15.9 -4.0,31.8 -2.5,44.2" fill="none" stroke="#0b0b0b" stroke-width="2.2" stroke-linecap="round"/><path d="M-2.6,5.1 C-3.0,15.9 -3.4,31.8 -1.9,48.5" fill="none" stroke="#0b0b0b" stroke-width="1.5" stroke-linecap="round"/><path d="M0.6,2.7 C0.7,15.9 0.6,31.8 0.4,52.3" fill="none" stroke="#0b0b0b" stroke-width="2.0" stroke-linecap="round"/><path d="M1.7,2.3 C2.0,15.9 3.0,31.8 1.3,50.0" fill="none" stroke="#0b0b0b" stroke-width="2.0" stroke-linecap="round"/><path d="M3.9,5.9 C4.6,15.9 3.7,31.8 2.9,46.3" fill="none" stroke="#0b0b0b" stroke-width="2.2" stroke-linecap="round"/><path d="M5.9,4.3 C7.0,15.9 7.4,31.8 4.5,47.4" fill="none" stroke="#0b0b0b" stroke-width="1.9" stroke-linecap="round"/><path d="M-4.9,9.2 C-6.0,15.9 -6.5,26.5 -4.9,33.6" fill="none" stroke="#12663f" stroke-width="1.1" stroke-linecap="round" opacity="1"/><path d="M-3.2,6.9 C-3.9,15.9 -4.8,26.5 -3.2,38.7" fill="none" stroke="#b0644a" stroke-width="1.1" stroke-linecap="round" opacity="1"/><path d="M-0.6,4.5 C-0.7,15.9 -0.9,26.5 -0.6,40.2" fill="none" stroke="#d07a5a" stroke-width="1.0" stroke-linecap="round" opacity="1"/><path d="M1.4,7.0 C1.7,15.9 1.9,26.5 1.4,33.2" fill="none" stroke="#b0644a" stroke-width="1.1" stroke-linecap="round" opacity="1"/><path d="M3.2,2.8 C3.9,15.9 4.1,26.5 3.2,36.3" fill="none" stroke="#d07a5a" stroke-width="1.4" stroke-linecap="round" opacity="1"/><path d="M4.5,3.0 C5.5,15.9 5.6,26.5 4.5,36.6" fill="none" stroke="#b0644a" stroke-width="1.2" stroke-linecap="round" opacity="1"/><ellipse cx="-5.5" cy="77.2" rx="1.6" ry="2.6" fill="#fff" stroke="#222" stroke-width="0.6"/><ellipse cx="-5.5" cy="77.2" rx="0.8" ry="1.3" fill="#999"/><ellipse cx="5.5" cy="77.2" rx="1.6" ry="2.6" fill="#fff" stroke="#222" stroke-width="0.6"/><ellipse cx="5.5" cy="77.2" rx="0.8" ry="1.3" fill="#999"/></g>
<g transform="translate(1122.0,872.5)"><path d="M-5.2,50.0 L5.2,50.0 C5.8,76.0 5.7,105.0 4.5,110.3 C2.6,115.0 -2.6,115.0 -4.5,110.3 C-5.7,105.0 -5.8,76.0 -5.2,50.0Z" fill="#f4967a" stroke="#111" stroke-width="0.9"/><path d="M-7.7,5.3 L-5.0,1.9 L-3.5,3.2 L-0.8,0.0 L1.7,1.6 L3.8,0.4 L5.8,2.7 L7.9,6.4 L8.3,15.9 L8.3,32.9 L7.1,43.5 L6.0,53.0 L5.5,59.4 L4.7,47.6 L4.2,55.7 L2.6,44.7 L2.1,50.9 L0.5,48.7 L0.0,52.6 L-1.6,45.4 L-2.1,53.5 L-3.7,46.9 L-4.2,54.8 L-5.5,59.4 L-6.0,53.0 L-7.1,43.5 L-8.3,32.9 L-8.3,15.9Z" fill="#8a4a34" stroke="#0b0b0b" stroke-width="1.0" stroke-linejoin="round"/><path d="M-5.6,3.9 C-6.6,15.9 -6.0,31.8 -4.2,45.2" fill="none" stroke="#0b0b0b" stroke-width="1.8" stroke-linecap="round"/><path d="M-3.3,4.9 C-3.9,15.9 -3.7,31.8 -2.5,43.7" fill="none" stroke="#0b0b0b" stroke-width="2.3" stroke-linecap="round"/><path d="M-2.5,5.4 C-3.0,15.9 -3.8,31.8 -1.9,47.7" fill="none" stroke="#0b0b0b" stroke-width="2.1" stroke-linecap="round"/><path d="M0.0,1.1 C0.1,15.9 -0.7,31.8 0.0,46.9" fill="none" stroke="#0b0b0b" stroke-width="1.6" stroke-linecap="round"/><path d="M1.4,1.7 C1.7,15.9 2.2,31.8 1.0,48.2" fill="none" stroke="#0b0b0b" stroke-width="1.8" stroke-linecap="round"/><path d="M3.2,5.1 C3.8,15.9 5.0,31.8 2.4,50.1" fill="none" stroke="#0b0b0b" stroke-width="1.8" stroke-linecap="round"/><path d="M6.0,4.4 C7.1,15.9 6.3,31.8 4.5,48.2" fill="none" stroke="#0b0b0b" stroke-width="2.0" stroke-linecap="round"/><path d="M-5.2,4.5 C-6.3,15.9 -6.5,26.5 -5.2,34.4" fill="none" stroke="#12663f" stroke-width="1.1" stroke-linecap="round" opacity="1"/><path d="M-2.5,8.7 C-3.0,15.9 -3.7,26.5 -2.5,37.2" fill="none" stroke="#b0644a" stroke-width="1.5" stroke-linecap="round" opacity="1"/><path d="M-0.6,2.8 C-0.8,15.9 -1.8,26.5 -0.6,42.5" fill="none" stroke="#d07a5a" stroke-width="1.5" stroke-linecap="round" opacity="1"/><path d="M1.1,9.0 C1.3,15.9 0.6,26.5 1.1,39.6" fill="none" stroke="#b0644a" stroke-width="1.3" stroke-linecap="round" opacity="1"/><path d="M3.3,5.3 C4.0,15.9 3.7,26.5 3.3,39.3" fill="none" stroke="#d07a5a" stroke-width="1.4" stroke-linecap="round" opacity="1"/><path d="M4.7,4.5 C5.7,15.9 6.6,26.5 4.7,29.2" fill="none" stroke="#b0644a" stroke-width="1.3" stroke-linecap="round" opacity="1"/><ellipse cx="-5.5" cy="77.2" rx="1.6" ry="2.6" fill="#fff" stroke="#222" stroke-width="0.6"/><ellipse cx="-5.5" cy="77.2" rx="0.8" ry="1.3" fill="#999"/><ellipse cx="5.5" cy="77.2" rx="1.6" ry="2.6" fill="#fff" stroke="#222" stroke-width="0.6"/><ellipse cx="5.5" cy="77.2" rx="0.8" ry="1.3" fill="#999"/></g>
<g transform="translate(1122.0,1007.5)"><path d="M-5.2,50.0 L5.2,50.0 C5.8,76.0 5.7,105.0 4.5,110.3 C2.6,115.0 -2.6,115.0 -4.5,110.3 C-5.7,105.0 -5.8,76.0 -5.2,50.0Z" fill="#f4967a" stroke="#111" stroke-width="0.9"/><path d="M-7.7,5.3 L-5.0,1.9 L-3.5,3.2 L-0.8,0.0 L1.7,1.6 L3.8,0.4 L5.8,2.7 L7.9,6.4 L8.3,15.9 L8.3,32.9 L7.1,43.5 L6.0,53.0 L5.5,59.4 L4.7,45.4 L4.2,54.1 L2.6,45.0 L2.1,55.7 L0.5,45.3 L0.0,53.3 L-1.6,47.8 L-2.1,55.7 L-3.7,47.0 L-4.2,54.5 L-5.5,59.4 L-6.0,53.0 L-7.1,43.5 L-8.3,32.9 L-8.3,15.9Z" fill="#8a4a34" stroke="#0b0b0b" stroke-width="1.0" stroke-linejoin="round"/><path d="M-5.7,5.5 C-6.7,15.9 -7.4,31.8 -4.3,49.7" fill="none" stroke="#0b0b0b" stroke-width="2.0" stroke-linecap="round"/><path d="M-3.9,3.3 C-4.6,15.9 -5.8,31.8 -2.9,48.4" fill="none" stroke="#0b0b0b" stroke-width="1.8" stroke-linecap="round"/><path d="M-1.7,3.5 C-2.1,15.9 -1.1,31.8 -1.3,49.7" fill="none" stroke="#0b0b0b" stroke-width="2.0" stroke-linecap="round"/><path d="M-0.4,3.3 C-0.4,15.9 0.6,31.8 -0.3,46.1" fill="none" stroke="#0b0b0b" stroke-width="1.5" stroke-linecap="round"/><path d="M1.8,1.8 C2.1,15.9 2.9,31.8 1.3,49.5" fill="none" stroke="#0b0b0b" stroke-width="1.6" stroke-linecap="round"/><path d="M4.4,3.5 C5.2,15.9 4.8,31.8 3.3,51.8" fill="none" stroke="#0b0b0b" stroke-width="1.5" stroke-linecap="round"/><path d="M5.4,3.3 C6.4,15.9 7.3,31.8 4.1,46.2" fill="none" stroke="#0b0b0b" stroke-width="1.9" stroke-linecap="round"/><path d="M-5.2,4.4 C-6.3,15.9 -5.9,26.5 -5.2,35.1" fill="none" stroke="#12663f" stroke-width="1.5" stroke-linecap="round" opacity="1"/><path d="M-2.7,3.7 C-3.2,15.9 -3.9,26.5 -2.7,36.6" fill="none" stroke="#b0644a" stroke-width="1.4" stroke-linecap="round" opacity="1"/><path d="M-1.1,9.3 C-1.4,15.9 -0.6,26.5 -1.1,42.7" fill="none" stroke="#d07a5a" stroke-width="1.1" stroke-linecap="round" opacity="1"/><path d="M1.4,8.0 C1.7,15.9 2.6,26.5 1.4,31.4" fill="none" stroke="#b0644a" stroke-width="1.0" stroke-linecap="round" opacity="1"/><path d="M3.4,4.7 C4.1,15.9 4.2,26.5 3.4,33.4" fill="none" stroke="#d07a5a" stroke-width="0.9" stroke-linecap="round" opacity="1"/><path d="M5.1,7.8 C6.2,15.9 6.7,26.5 5.1,30.4" fill="none" stroke="#b0644a" stroke-width="1.3" stroke-linecap="round" opacity="1"/><ellipse cx="-5.5" cy="77.2" rx="1.6" ry="2.6" fill="#fff" stroke="#222" stroke-width="0.6"/><ellipse cx="-5.5" cy="77.2" rx="0.8" ry="1.3" fill="#999"/><ellipse cx="5.5" cy="77.2" rx="1.6" ry="2.6" fill="#fff" stroke="#222" stroke-width="0.6"/><ellipse cx="5.5" cy="77.2" rx="0.8" ry="1.3" fill="#999"/></g>
<g transform="translate(1316.0,872.5)"><path d="M-5.2,50.0 L5.2,50.0 C5.8,76.0 5.7,105.0 4.5,110.3 C2.6,115.0 -2.6,115.0 -4.5,110.3 C-5.7,105.0 -5.8,76.0 -5.2,50.0Z" fill="#f4967a" stroke="#111" stroke-width="0.9"/><path d="M-7.7,5.3 L-5.0,1.9 L-3.5,3.2 L-0.8,0.0 L1.7,1.6 L3.8,0.4 L5.8,2.7 L7.9,6.4 L8.3,15.9 L8.3,32.9 L7.1,43.5 L6.0,53.0 L5.5,59.4 L4.7,47.9 L4.2,51.0 L2.6,48.1 L2.1,52.6 L0.5,44.6 L0.0,51.2 L-1.6,46.6 L-2.1,54.2 L-3.7,48.0 L-4.2,55.2 L-5.5,59.4 L-6.0,53.0 L-7.1,43.5 L-8.3,32.9 L-8.3,15.9Z" fill="#8a4a34" stroke="#0b0b0b" stroke-width="1.0" stroke-linejoin="round"/><path d="M-6.3,5.6 C-7.4,15.9 -8.4,31.8 -4.7,51.1" fill="none" stroke="#0b0b0b" stroke-width="1.8" stroke-linecap="round"/><path d="M-3.7,5.1 C-4.4,15.9 -5.1,31.8 -2.8,43.1" fill="none" stroke="#0b0b0b" stroke-width="2.3" stroke-linecap="round"/><path d="M-2.3,2.6 C-2.8,15.9 -3.8,31.8 -1.8,46.6" fill="none" stroke="#0b0b0b" stroke-width="1.6" stroke-linecap="round"/><path d="M-0.0,6.1 C-0.0,15.9 -0.0,31.8 -0.0,46.9" fill="none" stroke="#0b0b0b" stroke-width="2.1" stroke-linecap="round"/><path d="M2.2,2.1 C2.6,15.9 3.4,31.8 1.6,50.8" fill="none" stroke="#0b0b0b" stroke-width="1.6" stroke-linecap="round"/><path d="M3.8,4.5 C4.6,15.9 4.2,31.8 2.9,49.6" fill="none" stroke="#0b0b0b" stroke-width="2.0" stroke-linecap="round"/><path d="M5.6,5.2 C6.7,15.9 5.9,31.8 4.2,49.9" fill="none" stroke="#0b0b0b" stroke-width="2.2" stroke-linecap="round"/><path d="M-4.7,8.9 C-5.7,15.9 -5.8,26.5 -4.7,42.3" fill="none" stroke="#12663f" stroke-width="0.9" stroke-linecap="round" opacity="1"/><path d="M-3.3,2.7 C-4.0,15.9 -3.4,26.5 -3.3,32.1" fill="none" stroke="#b0644a" stroke-width="1.5" stroke-linecap="round" opacity="1"/><path d="M-0.7,8.9 C-0.8,15.9 -0.2,26.5 -0.7,38.0" fill="none" stroke="#d07a5a" stroke-width="1.4" stroke-linecap="round" opacity="1"/><path d="M1.4,3.0 C1.7,15.9 1.4,26.5 1.4,42.4" fill="none" stroke="#b0644a" stroke-width="1.1" stroke-linecap="round" opacity="1"/><path d="M3.2,6.2 C3.9,15.9 3.6,26.5 3.2,41.8" fill="none" stroke="#d07a5a" stroke-width="1.2" stroke-linecap="round" opacity="1"/><path d="M5.1,7.3 C6.2,15.9 6.2,26.5 5.1,37.7" fill="none" stroke="#b0644a" stroke-width="1.4" stroke-linecap="round" opacity="1"/><ellipse cx="-5.5" cy="77.2" rx="1.6" ry="2.6" fill="#fff" stroke="#222" stroke-width="0.6"/><ellipse cx="-5.5" cy="77.2" rx="0.8" ry="1.3" fill="#999"/><ellipse cx="5.5" cy="77.2" rx="1.6" ry="2.6" fill="#fff" stroke="#222" stroke-width="0.6"/><ellipse cx="5.5" cy="77.2" rx="0.8" ry="1.3" fill="#999"/></g>
<g transform="translate(1316.0,1007.5)"><path d="M-5.2,50.0 L5.2,50.0 C5.8,76.0 5.7,105.0 4.5,110.3 C2.6,115.0 -2.6,115.0 -4.5,110.3 C-5.7,105.0 -5.8,76.0 -5.2,50.0Z" fill="#f4967a" stroke="#111" stroke-width="0.9"/><path d="M-7.7,5.3 L-5.0,1.9 L-3.5,3.2 L-0.8,0.0 L1.7,1.6 L3.8,0.4 L5.8,2.7 L7.9,6.4 L8.3,15.9 L8.3,32.9 L7.1,43.5 L6.0,53.0 L5.5,59.4 L4.7,45.1 L4.2,51.9 L2.6,48.1 L2.1,53.7 L0.5,45.7 L0.0,52.7 L-1.6,46.8 L-2.1,52.6 L-3.7,47.5 L-4.2,51.5 L-5.5,59.4 L-6.0,53.0 L-7.1,43.5 L-8.3,32.9 L-8.3,15.9Z" fill="#8a4a34" stroke="#0b0b0b" stroke-width="1.0" stroke-linejoin="round"/><path d="M-5.9,2.5 C-7.0,15.9 -6.4,31.8 -4.4,51.3" fill="none" stroke="#0b0b0b" stroke-width="1.9" stroke-linecap="round"/><path d="M-3.3,1.4 C-3.9,15.9 -3.5,31.8 -2.5,45.1" fill="none" stroke="#0b0b0b" stroke-width="1.5" stroke-linecap="round"/><path d="M-1.8,1.5 C-2.2,15.9 -3.3,31.8 -1.4,45.4" fill="none" stroke="#0b0b0b" stroke-width="2.0" stroke-linecap="round"/><path d="M0.2,5.4 C0.2,15.9 -0.2,31.8 0.2,49.3" fill="none" stroke="#0b0b0b" stroke-width="2.4" stroke-linecap="round"/><path d="M2.5,2.2 C3.0,15.9 2.6,31.8 1.9,44.5" fill="none" stroke="#0b0b0b" stroke-width="2.0" stroke-linecap="round"/><path d="M3.8,4.1 C4.5,15.9 4.0,31.8 2.8,52.2" fill="none" stroke="#0b0b0b" stroke-width="1.4" stroke-linecap="round"/><path d="M6.4,5.5 C7.6,15.9 8.2,31.8 4.8,49.1" fill="none" stroke="#0b0b0b" stroke-width="2.4" stroke-linecap="round"/><path d="M-4.9,9.2 C-5.9,15.9 -6.8,26.5 -4.9,44.7" fill="none" stroke="#12663f" stroke-width="1.3" stroke-linecap="round" opacity="1"/><path d="M-3.3,7.6 C-4.0,15.9 -3.1,26.5 -3.3,30.2" fill="none" stroke="#b0644a" stroke-width="1.0" stroke-linecap="round" opacity="1"/><path d="M-1.0,2.8 C-1.3,15.9 -0.7,26.5 -1.0,38.3" fill="none" stroke="#d07a5a" stroke-width="1.5" stroke-linecap="round" opacity="1"/><path d="M0.6,4.6 C0.8,15.9 0.2,26.5 0.6,35.6" fill="none" stroke="#b0644a" stroke-width="1.1" stroke-linecap="round" opacity="1"/><path d="M2.8,7.2 C3.4,15.9 4.3,26.5 2.8,32.3" fill="none" stroke="#d07a5a" stroke-width="0.9" stroke-linecap="round" opacity="1"/><path d="M4.7,7.4 C5.7,15.9 5.8,26.5 4.7,32.7" fill="none" stroke="#b0644a" stroke-width="1.2" stroke-linecap="round" opacity="1"/><ellipse cx="-5.5" cy="77.2" rx="1.6" ry="2.6" fill="#fff" stroke="#222" stroke-width="0.6"/><ellipse cx="-5.5" cy="77.2" rx="0.8" ry="1.3" fill="#999"/><ellipse cx="5.5" cy="77.2" rx="1.6" ry="2.6" fill="#fff" stroke="#222" stroke-width="0.6"/><ellipse cx="5.5" cy="77.2" rx="0.8" ry="1.3" fill="#999"/></g>
<circle cx="1221.6" cy="1135" r="2.8" fill="#fff" stroke="#111" stroke-width="1"/>
<rect x="1181" y="1182.5" width="79" height="12" fill="#fff" stroke="#666" stroke-width="1"/>
<path d="M1221.6,1139 C1227.955,1141.355 1231.85,1160.195 1231.85,1178.25 C1231.85,1197.09 1227.75,1215.145 1221.6,1217.5 C1215.4499999999998,1215.145 1211.35,1197.09 1211.35,1178.25 C1211.35,1160.195 1215.245,1141.355 1221.6,1139Z" fill="#fff" stroke="#111" stroke-width="1.1"/>
<path d="M588.7,977 C592.7,979.62 593.1,1003.2 594.7,1035.95 C595.9000000000001,1055.6 596.7,1068.7 596.7,1078 L580.7,1078 C580.7,1068.7 581.5,1055.6 582.7,1035.95 C584.3000000000001,1003.2 584.7,979.62 588.7,977Z" fill="#b3b5b8" stroke="#111" stroke-width="1"/>
<path d="M580.7,1078 L596.7,1078 C596.7,1096.0 592.7,1108 588.7,1108 C584.7,1108 580.7,1096.0 580.7,1078Z" fill="url(#gHead)" stroke="#111" stroke-width="1"/>
<ellipse cx="588.7" cy="1042.5" rx="1.8" ry="15.719999999999999" fill="#111"/>
<ellipse cx="581.9000000000001" cy="1086" rx="1.8" ry="3.2" fill="#fff" stroke="#111" stroke-width="0.7"/>
<ellipse cx="581.9000000000001" cy="1086" rx="0.8" ry="1.6" fill="#111"/>
<ellipse cx="595.5" cy="1086" rx="1.8" ry="3.2" fill="#fff" stroke="#111" stroke-width="0.7"/>
<ellipse cx="595.5" cy="1086" rx="0.8" ry="1.6" fill="#111"/>
<path d="M951.3,970 C955.05,972.63 955.425,996.3 956.925,1029.175 C958.05,1048.9 958.8,1062.05 958.8,1071.5 L943.8,1071.5 C943.8,1062.05 944.55,1048.9 945.675,1029.175 C947.175,996.3 947.55,972.63 951.3,970Z" fill="#2eb26e" stroke="#111" stroke-width="1"/>
<path d="M943.8,1071.5 L958.8,1071.5 C958.8,1089.5 955.05,1101.5 951.3,1101.5 C947.55,1101.5 943.8,1089.5 943.8,1071.5Z" fill="url(#gHead)" stroke="#111" stroke-width="1"/>
<ellipse cx="951.3" cy="1035.75" rx="1.8" ry="15.78" fill="#111"/>
<ellipse cx="945.0" cy="1079.5" rx="1.8" ry="3.2" fill="#fff" stroke="#111" stroke-width="0.7"/>
<ellipse cx="945.0" cy="1079.5" rx="0.8" ry="1.6" fill="#111"/>
<ellipse cx="957.5999999999999" cy="1079.5" rx="1.8" ry="3.2" fill="#fff" stroke="#111" stroke-width="0.7"/>
<ellipse cx="957.5999999999999" cy="1079.5" rx="0.8" ry="1.6" fill="#111"/>
<path d="M596,1714 Q776,1698 959,1716 L975,1990 L575,1990Z" fill="url(#gDeck)"/>
<line x1="620" y1="1733" x2="602" y2="1962" stroke="url(#gPlank)" stroke-width="3.8"/>
<line x1="645" y1="1733" x2="629" y2="1962" stroke="url(#gPlank)" stroke-width="3.8"/>
<line x1="670.5" y1="1733" x2="656" y2="1962" stroke="url(#gPlank)" stroke-width="3.8"/>
<line x1="696" y1="1733" x2="683" y2="1962" stroke="url(#gPlank)" stroke-width="3.8"/>
<line x1="721" y1="1733" x2="710" y2="1962" stroke="url(#gPlank)" stroke-width="3.8"/>
<line x1="746" y1="1733" x2="737" y2="1962" stroke="url(#gPlank)" stroke-width="3.8"/>
<line x1="770.5" y1="1733" x2="765" y2="1962" stroke="url(#gPlank)" stroke-width="3.8"/>
<line x1="797" y1="1733" x2="792" y2="1962" stroke="url(#gPlank)" stroke-width="3.8"/>
<line x1="822" y1="1733" x2="820" y2="1962" stroke="url(#gPlank)" stroke-width="3.8"/>
<line x1="847" y1="1733" x2="847" y2="1962" stroke="url(#gPlank)" stroke-width="3.8"/>
<line x1="871" y1="1733" x2="874" y2="1962" stroke="url(#gPlank)" stroke-width="3.8"/>
<line x1="896" y1="1733" x2="901" y2="1962" stroke="url(#gPlank)" stroke-width="3.8"/>
<line x1="921" y1="1733" x2="928" y2="1962" stroke="url(#gPlank)" stroke-width="3.8"/>
<line x1="941" y1="1733" x2="950" y2="1962" stroke="url(#gPlank)" stroke-width="3.8"/>
<path d="M596,1712 Q776,1697 960,1716 L948,1738 Q776,1722 604,1736Z" fill="url(#gCoamT)"/>
<path d="M596,1712 L604,1736 L581,1950 L571,1950Z" fill="url(#gCoamL)"/>
<path d="M960,1716 L951,1738 L965,1950 L976,1950 L972,1905Z" fill="url(#gCoamR)"/>
<path d="M560,1706 L596,1712 L574,1946 C565,1952 556,1944 548,1950 C542,1954 536,1948 532,1950 Z" fill="url(#gWoodS)"/>
<path d="M996,1706 L958,1716 L970,1902 C980,1910 990,1900 1000,1906 L1008,1906 Z" fill="url(#gWoodS)"/>
<path d="M583,1680 Q776,1650 976,1685 L996,1706 L958,1718 Q776,1697 596,1714 L560,1706 Z" fill="url(#gWoodT)"/>
<path d="M610,1690 C640,1678 690,1700 730,1688 S790,1676 830,1690 S900,1700 950,1690" fill="none" stroke="#d9a272" stroke-width="1.0" opacity="0.65"/>
<path d="M700,1700 C720,1694 740,1702 770,1698 S820,1690 860,1700" fill="none" stroke="#d9a272" stroke-width="1.0" opacity="0.65"/>
<path d="M880,1680 C900,1690 930,1680 950,1692 C930,1700 900,1694 880,1680" fill="none" stroke="#d9a272" stroke-width="1.0" opacity="0.65"/>
<path d="M640,1684 C660,1694 700,1684 720,1694 C700,1700 660,1696 640,1684" fill="none" stroke="#d9a272" stroke-width="1.0" opacity="0.65"/>
<path d="M600,1692 Q680,1680 760,1684 T900,1690" fill="none" stroke="#d9a272" stroke-width="1.0" opacity="0.65"/>
<path d="M620,1700 Q700,1690 780,1692 T940,1700" fill="none" stroke="#d9a272" stroke-width="1.0" opacity="0.65"/>
<path d="M650,1686 Q720,1676 800,1680 T960,1694" fill="none" stroke="#d9a272" stroke-width="1.0" opacity="0.65"/>
<path d="M640,1696 C660,1688 700,1694 720,1690 S760,1684 800,1690" fill="none" stroke="#d9a272" stroke-width="1.0" opacity="0.65"/>
<path d="M820,1686 C850,1680 880,1692 910,1688 S950,1696 970,1692" fill="none" stroke="#d9a272" stroke-width="1.0" opacity="0.65"/>
<path d="M566,1725 C560,1790 556,1860 545,1940" fill="none" stroke="#dca674" stroke-width="1.1" opacity="0.85"/>
<path d="M972,1725 C976,1780 980,1840 984,1896" fill="none" stroke="#dca674" stroke-width="1.1" opacity="0.85"/>
<path d="M572,1725 C566,1790 562,1860 551,1940" fill="none" stroke="#dca674" stroke-width="1.1" opacity="0.85"/>
<path d="M978,1725 C982,1780 986,1840 989,1896" fill="none" stroke="#dca674" stroke-width="1.1" opacity="0.85"/>
<path d="M578,1725 C572,1790 568,1860 557,1940" fill="none" stroke="#dca674" stroke-width="1.1" opacity="0.85"/>
<path d="M984,1725 C988,1780 992,1840 994,1896" fill="none" stroke="#dca674" stroke-width="1.1" opacity="0.85"/>
<path d="M584,1725 C578,1790 574,1860 563,1940" fill="none" stroke="#dca674" stroke-width="1.1" opacity="0.85"/>
<path d="M990,1725 C994,1780 998,1840 999,1896" fill="none" stroke="#dca674" stroke-width="1.1" opacity="0.85"/>
<path d="M583,1680 Q776,1650 976,1685" fill="none" stroke="#0b0b0b" stroke-width="7" stroke-linecap="round"/>
<path d="M596,1713 Q776,1697 959,1717" fill="none" stroke="#0b0b0b" stroke-width="5"/>
<path d="M594,1714 L572,1946" fill="none" stroke="#0b0b0b" stroke-width="8" stroke-linecap="round"/>
<path d="M960,1718 L971,1900" fill="none" stroke="#0b0b0b" stroke-width="8" stroke-linecap="round"/>
<path d="M583,1680 L560,1706 L530,1977" fill="none" stroke="#0b0b0b" stroke-width="4" stroke-linejoin="round"/>
<path d="M976,1685 L996,1706 L1011,1960" fill="none" stroke="#0b0b0b" stroke-width="4" stroke-linejoin="round"/>
<path d="M560,1706 L596,1714 M996,1706 L959,1717" fill="none" stroke="#0b0b0b" stroke-width="2.5"/>
<ellipse cx="576.5" cy="1720" rx="10" ry="9" fill="#f4f4f4" stroke="#111" stroke-width="1.6"/>
<ellipse cx="576.5" cy="1720" rx="5.5" ry="5" fill="#b8bcc2"/>
<g transform="translate(576.5,1720) rotate(-28)"><rect x="-3.5" y="-19" width="7" height="17" rx="2" fill="#e8cf96" stroke="#111" stroke-width="0.8"/></g>
<ellipse cx="563" cy="1825" rx="10" ry="9" fill="#f4f4f4" stroke="#111" stroke-width="1.6"/>
<ellipse cx="563" cy="1825" rx="5.5" ry="5" fill="#b8bcc2"/>
<g transform="translate(563,1825) rotate(-40)"><rect x="-3.5" y="-19" width="7" height="17" rx="2" fill="#e8cf96" stroke="#111" stroke-width="0.8"/></g>
<ellipse cx="978" cy="1720" rx="10" ry="9" fill="#f4f4f4" stroke="#111" stroke-width="1.6"/>
<ellipse cx="978" cy="1720" rx="5.5" ry="5" fill="#b8bcc2"/>
<g transform="translate(978,1720) rotate(28)"><rect x="-3.5" y="-19" width="7" height="17" rx="2" fill="#e8cf96" stroke="#111" stroke-width="0.8"/></g>
<ellipse cx="989.5" cy="1827" rx="10" ry="9" fill="#f4f4f4" stroke="#111" stroke-width="1.6"/>
<ellipse cx="989.5" cy="1827" rx="5.5" ry="5" fill="#b8bcc2"/>
<g transform="translate(989.5,1827) rotate(40)"><rect x="-3.5" y="-19" width="7" height="17" rx="2" fill="#e8cf96" stroke="#111" stroke-width="0.8"/></g>
<g transform="translate(563.5,1688) rotate(-28) scale(1.0)"><rect x="-16" y="-12" width="32" height="24" fill="#4a4d52" stroke="#111" stroke-width="1.2"/><rect x="-12.5" y="-9.5" width="25" height="19" fill="#fafafa"/><path d="M-13,-9 H13 M-13,9 H13 M-13,-3.5 H13 M-13,3.5 H13" stroke="#54575c" stroke-width="1.8"/><path d="M-4.5,-9 V9 M4.5,-9 V9" stroke="#b0b2b6" stroke-width="1"/><rect x="-17.5" y="-13" width="3.6" height="26" fill="#e0583a" stroke="#111" stroke-width="0.7"/><rect x="13.9" y="-13" width="3.6" height="26" fill="#e0583a" stroke="#111" stroke-width="0.7"/><path d="M17.5,-4 L25,-4 L25,-13" stroke="#111" stroke-width="2.2" fill="none"/><rect x="20.5" y="-22" width="8.5" height="11" rx="4" fill="#111"/><rect x="17.5" y="4" width="6" height="4" fill="#333"/></g>
<g transform="translate(540,1797) rotate(-41) scale(1.0)"><rect x="-16" y="-12" width="32" height="24" fill="#4a4d52" stroke="#111" stroke-width="1.2"/><rect x="-12.5" y="-9.5" width="25" height="19" fill="#fafafa"/><path d="M-13,-9 H13 M-13,9 H13 M-13,-3.5 H13 M-13,3.5 H13" stroke="#54575c" stroke-width="1.8"/><path d="M-4.5,-9 V9 M4.5,-9 V9" stroke="#b0b2b6" stroke-width="1"/><rect x="-17.5" y="-13" width="3.6" height="26" fill="#e0583a" stroke="#111" stroke-width="0.7"/><rect x="13.9" y="-13" width="3.6" height="26" fill="#e0583a" stroke="#111" stroke-width="0.7"/><path d="M17.5,-4 L25,-4 L25,-13" stroke="#111" stroke-width="2.2" fill="none"/><rect x="20.5" y="-22" width="8.5" height="11" rx="4" fill="#111"/><rect x="17.5" y="4" width="6" height="4" fill="#333"/></g>
<g transform="translate(996,1686) rotate(28) scale(1.0)"><rect x="-16" y="-12" width="32" height="24" fill="#4a4d52" stroke="#111" stroke-width="1.2"/><rect x="-12.5" y="-9.5" width="25" height="19" fill="#fafafa"/><path d="M-13,-9 H13 M-13,9 H13 M-13,-3.5 H13 M-13,3.5 H13" stroke="#54575c" stroke-width="1.8"/><path d="M-4.5,-9 V9 M4.5,-9 V9" stroke="#b0b2b6" stroke-width="1"/><rect x="-17.5" y="-13" width="3.6" height="26" fill="#e0583a" stroke="#111" stroke-width="0.7"/><rect x="13.9" y="-13" width="3.6" height="26" fill="#e0583a" stroke="#111" stroke-width="0.7"/><path d="M17.5,-4 L25,-4 L25,-13" stroke="#111" stroke-width="2.2" fill="none"/><rect x="20.5" y="-22" width="8.5" height="11" rx="4" fill="#111"/><rect x="17.5" y="4" width="6" height="4" fill="#333"/></g>
<g transform="translate(1009.5,1803) rotate(41) scale(1.0)"><rect x="-16" y="-12" width="32" height="24" fill="#4a4d52" stroke="#111" stroke-width="1.2"/><rect x="-12.5" y="-9.5" width="25" height="19" fill="#fafafa"/><path d="M-13,-9 H13 M-13,9 H13 M-13,-3.5 H13 M-13,3.5 H13" stroke="#54575c" stroke-width="1.8"/><path d="M-4.5,-9 V9 M4.5,-9 V9" stroke="#b0b2b6" stroke-width="1"/><rect x="-17.5" y="-13" width="3.6" height="26" fill="#e0583a" stroke="#111" stroke-width="0.7"/><rect x="13.9" y="-13" width="3.6" height="26" fill="#e0583a" stroke="#111" stroke-width="0.7"/><path d="M17.5,-4 L25,-4 L25,-13" stroke="#111" stroke-width="2.2" fill="none"/><rect x="20.5" y="-22" width="8.5" height="11" rx="4" fill="#111"/><rect x="17.5" y="4" width="6" height="4" fill="#333"/></g>
<line x1="776.5" y1="1647" x2="776.3" y2="1832" stroke="#5a1e10" stroke-width="3"/>
<line x1="776.5" y1="1647" x2="776.3" y2="1832" stroke="#d8603a" stroke-width="1.3"/>
<rect x="727" y="1791" width="88" height="32" rx="8" fill="#6f6f72" opacity="0.8"/>
<rect x="731.6" y="1794" width="88" height="32" rx="8" fill="#a96e53" stroke="#0b0b0b" stroke-width="3"/>
<line x1="733" y1="1822.5" x2="818" y2="1822.5" stroke="#0b0b0b" stroke-width="2"/>
<rect x="746.4" y="1826" width="7.2" height="38" fill="#0b0b0b"/><rect x="782" y="1826" width="7.2" height="38" fill="#0b0b0b"/>
<path d="M754.5,1864 A21,21 0 0 1 796.5,1864Z" fill="#9a9ca3" stroke="#0b0b0b" stroke-width="3"/>
<rect x="700" y="1861" width="12" height="44" rx="3" fill="none" stroke="#77797d" stroke-width="2.5"/>
<rect x="711" y="1862" width="18" height="48" rx="5" fill="#0b0b0b"/><rect x="718" y="1872" width="4" height="12" fill="#a0a2a8"/><rect x="718" y="1890" width="4" height="12" fill="#a0a2a8"/>
<rect x="819.3" y="1862" width="18" height="50" rx="5" fill="#0b0b0b"/><rect x="827" y="1870" width="4" height="34" fill="#a96e53"/>
<path d="M740,1865 Q736,1866 736,1872 L738,1890 L748,1924 L803,1924 L814,1890 L816.5,1872 Q816.5,1866 812,1865Z" fill="#a96e53" stroke="#0b0b0b" stroke-width="3" stroke-linejoin="round"/>
<rect x="806" y="1874" width="9" height="26" fill="#9a9ca3" stroke="#0b0b0b" stroke-width="2"/>
<circle cx="766.5" cy="1869" r="4.2" fill="#e6e6e6" stroke="#0b0b0b" stroke-width="1"/>
<rect x="797" y="1895" width="5.5" height="16" rx="2.7" fill="#0b0b0b"/>
<rect x="725" y="1921" width="15" height="5" fill="#5c5e62"/>
<rect x="738" y="1923" width="72" height="6.5" fill="#0b0b0b"/><rect x="741" y="1925.3" width="66" height="1.6" fill="#a96e53"/>
<rect x="745" y="1929" width="8" height="12" fill="#0b0b0b"/><rect x="781" y="1929" width="8" height="12" fill="#0b0b0b"/>
<rect x="709" y="1932" width="18" height="22" rx="7" fill="#5c5e62" opacity="0.85"/>
<path d="M727,1939 Q722,1946 728,1952 L772,1962 L822,1953 Q829,1946 824,1939 Q800,1948 775,1949 Q750,1948 727,1939Z" fill="#a96e53" stroke="#0b0b0b" stroke-width="3" stroke-linejoin="round"/>
<circle cx="737.5" cy="1947" r="5" fill="#f2f2f2" stroke="#0b0b0b" stroke-width="1.2"/><circle cx="737.5" cy="1947" r="2.2" fill="#0b0b0b"/>
<circle cx="760" cy="1950" r="5" fill="#f2f2f2" stroke="#0b0b0b" stroke-width="1.2"/><circle cx="760" cy="1950" r="2.2" fill="#0b0b0b"/>
<circle cx="789.5" cy="1950" r="5" fill="#f2f2f2" stroke="#0b0b0b" stroke-width="1.2"/><circle cx="789.5" cy="1950" r="2.2" fill="#0b0b0b"/>
<circle cx="812" cy="1947" r="5" fill="#f2f2f2" stroke="#0b0b0b" stroke-width="1.2"/><circle cx="812" cy="1947" r="2.2" fill="#0b0b0b"/>
<path d="M774,1832 L779,1832 L781,1845 L780,1915 L772,1915 L771,1850 Z" fill="#0b0b0b"/>
<line x1="776" y1="1836" x2="776" y2="1905" stroke="#555" stroke-width="1.3"/>
<g transform="translate(775.5,1921) rotate(0) scale(0.82)"><rect x="-16" y="-12" width="32" height="24" fill="#4a4d52" stroke="#111" stroke-width="1.2"/><rect x="-12.5" y="-9.5" width="25" height="19" fill="#fafafa"/><path d="M-13,-9 H13 M-13,9 H13 M-13,-3.5 H13 M-13,3.5 H13" stroke="#54575c" stroke-width="1.8"/><path d="M-4.5,-9 V9 M4.5,-9 V9" stroke="#b0b2b6" stroke-width="1"/><rect x="-17.5" y="-13" width="3.6" height="26" fill="#e0583a" stroke="#111" stroke-width="0.7"/><rect x="13.9" y="-13" width="3.6" height="26" fill="#e0583a" stroke="#111" stroke-width="0.7"/><path d="M17.5,-4 L25,-4 L25,-13" stroke="#111" stroke-width="2.2" fill="none"/><rect x="20.5" y="-22" width="8.5" height="11" rx="4" fill="#111"/><rect x="17.5" y="4" width="6" height="4" fill="#333"/></g>
<rect x="771" y="1937" width="7" height="24" fill="#fff"/><rect x="775" y="1939" width="3.5" height="14" fill="#e8cf96"/>
<g filter="url(#noop)">
<text x="236.1" y="307.9" font-size="37" textLength="279.3" lengthAdjust="spacingAndGlyphs">Flexi-Bar Squid Bar</text>
<text x="307.7" y="346.7" font-size="30.5" textLength="135.1" lengthAdjust="spacingAndGlyphs">(Rainbow)</text>
<text x="1034.0" y="304.8" font-size="37" textLength="279.0" lengthAdjust="spacingAndGlyphs">Flexi-Bar Squid Bar</text>
<text x="1086.4" y="343.6" font-size="30.5" textLength="174.0" lengthAdjust="spacingAndGlyphs">(Green Mack)</text>
<text x="474.8" y="430.6" font-size="37" textLength="165.1" lengthAdjust="spacingAndGlyphs">Splash Bird</text>
<text x="533.8" y="469.6" font-size="37" textLength="50.0" lengthAdjust="spacingAndGlyphs">Bar</text>
<text x="520.6" y="508.4" font-size="30.5" textLength="74.1" lengthAdjust="spacingAndGlyphs">(Pink)</text>
<text x="358.0" y="686.4" font-size="37" textLength="165.1" lengthAdjust="spacingAndGlyphs">Splash Bird</text>
<text x="415.8" y="725.8" font-size="37" textLength="51.2" lengthAdjust="spacingAndGlyphs">Bar</text>
<text x="398.7" y="764.4" font-size="30.5" textLength="83.8" lengthAdjust="spacingAndGlyphs">(Olive)</text>
<text x="1011.0" y="682.5" font-size="37" textLength="162.5" lengthAdjust="spacingAndGlyphs">Splash Bird</text>
<text x="1067.5" y="721.5" font-size="37" textLength="50.0" lengthAdjust="spacingAndGlyphs">Bar</text>
<text x="1038.5" y="761.0" font-size="30.5" textLength="107.5" lengthAdjust="spacingAndGlyphs">(Amber)</text>
<text x="492.4" y="894.5" font-size="37" textLength="234.2" lengthAdjust="spacingAndGlyphs">6 oz Harness Jig</text>
<text x="565.7" y="934.2" font-size="30.5" textLength="88.7" lengthAdjust="spacingAndGlyphs">(Silver)</text>
<text x="817.3" y="893.0" font-size="37" textLength="234.2" lengthAdjust="spacingAndGlyphs">6 oz Harness Jig</text>
<text x="846.7" y="932.7" font-size="30.5" textLength="175.3" lengthAdjust="spacingAndGlyphs">(Green Mack)</text>
</g>
</svg>
</body></html>
